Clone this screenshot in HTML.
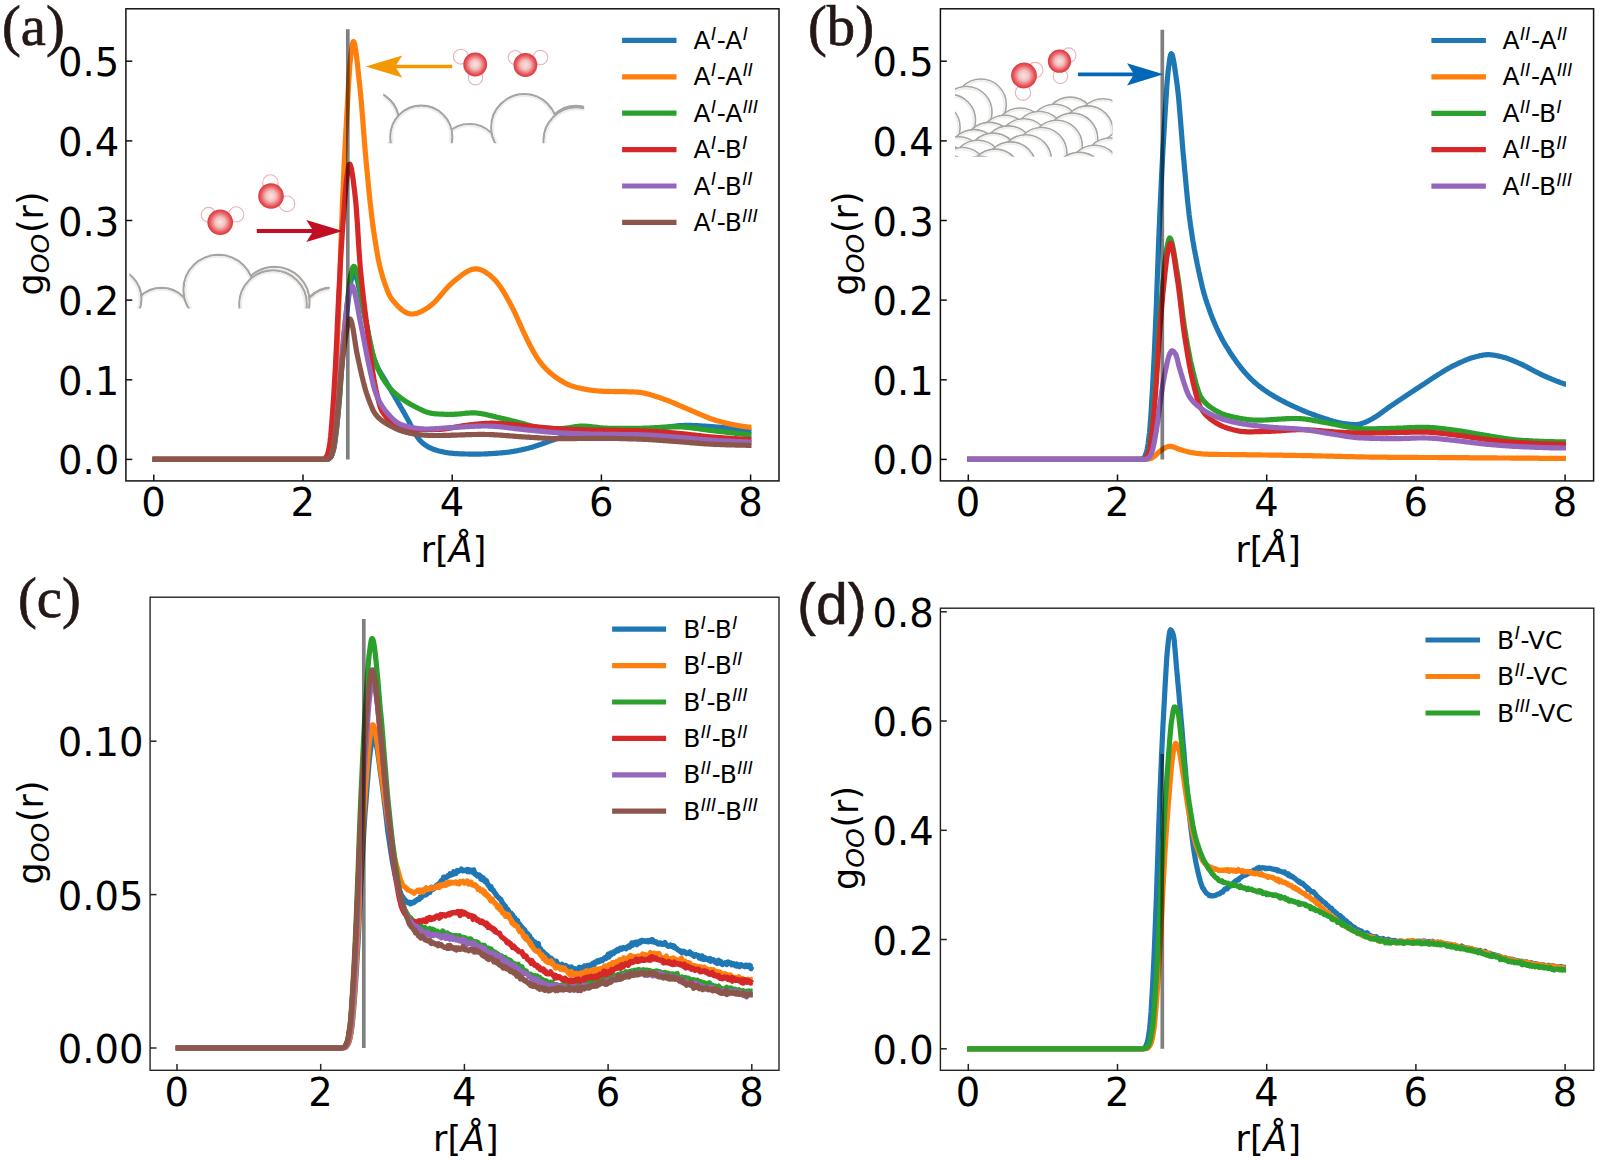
<!DOCTYPE html>
<html lang="en"><head><meta charset="utf-8"><title>g_OO(r) radial distribution functions</title>
<style>html,body{margin:0;padding:0;background:#fff}svg{display:block}</style></head><body>
<svg width="1600" height="1160" viewBox="0 0 1600 1160" font-family="'DejaVu Sans','Liberation Sans',sans-serif" fill="#000">
<rect width="1600" height="1160" fill="#fff"/>
<defs><radialGradient id="oxy" cx="50%" cy="50%" r="50%"><stop offset="0" stop-color="#fbe4e3"/><stop offset="0.4" stop-color="#f4bfbe"/><stop offset="0.8" stop-color="#e6575c"/><stop offset="1" stop-color="#dc363c"/></radialGradient><clipPath id="clipA1"><rect x="383.2" y="80" width="201" height="63.3"/></clipPath><clipPath id="clipA2"><rect x="129.3" y="240" width="200.4" height="68.5"/></clipPath><clipPath id="clipB1"><rect x="955" y="76" width="157.5" height="80.8"/></clipPath><filter id="soft" x="-5%" y="-5%" width="110%" height="110%"><feGaussianBlur stdDeviation="0.45"/></filter></defs>
<g id="panel-a">
<g id="inset-a1" clip-path="url(#clipA1)"><g filter="url(#soft)"><circle cx="368.0" cy="121.8" r="31.0" fill="#fff" stroke="#a6a5a3" stroke-width="2.2"/><circle cx="368.0" cy="121.8" r="29.0" fill="none" stroke="#efeeeb" stroke-width="1.8"/><circle cx="469.5" cy="155.0" r="31.0" fill="#fff" stroke="#a6a5a3" stroke-width="2.2"/><circle cx="469.5" cy="155.0" r="29.0" fill="none" stroke="#efeeeb" stroke-width="1.8"/><circle cx="576.0" cy="136.8" r="31.0" fill="#fff" stroke="#a6a5a3" stroke-width="2.2"/><circle cx="576.0" cy="136.8" r="29.0" fill="none" stroke="#efeeeb" stroke-width="1.8"/><circle cx="421.3" cy="136.7" r="31.0" fill="#fff" stroke="#a6a5a3" stroke-width="2.2"/><circle cx="421.3" cy="136.7" r="29.0" fill="none" stroke="#efeeeb" stroke-width="1.8"/><circle cx="524.2" cy="127.2" r="33.0" fill="#fff" stroke="#a6a5a3" stroke-width="2.2"/><circle cx="524.2" cy="127.2" r="31.0" fill="none" stroke="#efeeeb" stroke-width="1.8"/><circle cx="576.5" cy="140.5" r="33.0" fill="#fff" stroke="#a6a5a3" stroke-width="2.2"/><circle cx="576.5" cy="140.5" r="31.0" fill="none" stroke="#efeeeb" stroke-width="1.8"/></g></g><circle cx="460.8" cy="56.7" r="7.4" fill="#fff" stroke="#e9b3b7" stroke-width="1.1"/><circle cx="475.5" cy="77.7" r="7.2" fill="#fff" stroke="#e9b3b7" stroke-width="1.1"/><circle cx="475.2" cy="64.5" r="11.9" fill="url(#oxy)"/><circle cx="515.2" cy="57.5" r="7.0" fill="#fff" stroke="#e9b3b7" stroke-width="1.1"/><circle cx="540.4" cy="57.5" r="7.3" fill="#fff" stroke="#e9b3b7" stroke-width="1.1"/><circle cx="525.4" cy="65.0" r="11.9" fill="url(#oxy)"/><g id="inset-a2" clip-path="url(#clipA2)"><g filter="url(#soft)"><circle cx="161.5" cy="318.3" r="30.5" fill="#fff" stroke="#a6a5a3" stroke-width="2.2"/><circle cx="161.5" cy="318.3" r="28.5" fill="none" stroke="#efeeeb" stroke-width="1.8"/><circle cx="110.4" cy="299.0" r="31.0" fill="#fff" stroke="#a6a5a3" stroke-width="2.2"/><circle cx="110.4" cy="299.0" r="29.0" fill="none" stroke="#efeeeb" stroke-width="1.8"/><circle cx="332.0" cy="318.5" r="31.0" fill="#fff" stroke="#a6a5a3" stroke-width="2.2"/><circle cx="332.0" cy="318.5" r="29.0" fill="none" stroke="#efeeeb" stroke-width="1.8"/><circle cx="333.0" cy="321.0" r="33.0" fill="#fff" stroke="#a6a5a3" stroke-width="2.2"/><circle cx="333.0" cy="321.0" r="31.0" fill="none" stroke="#efeeeb" stroke-width="1.8"/><circle cx="274.5" cy="301.8" r="35.0" fill="#fff" stroke="#a6a5a3" stroke-width="2.2"/><circle cx="274.5" cy="301.8" r="33.0" fill="none" stroke="#efeeeb" stroke-width="1.8"/><circle cx="218.5" cy="289.8" r="35.0" fill="#fff" stroke="#a6a5a3" stroke-width="2.2"/><circle cx="218.5" cy="289.8" r="33.0" fill="none" stroke="#efeeeb" stroke-width="1.8"/><circle cx="273.0" cy="304.0" r="33.7" fill="#fff" stroke="#a6a5a3" stroke-width="2.2"/><circle cx="273.0" cy="304.0" r="31.7" fill="none" stroke="#efeeeb" stroke-width="1.8"/></g></g><circle cx="208.5" cy="214.7" r="7.3" fill="#fff" stroke="#e9b3b7" stroke-width="1.1"/><circle cx="236.2" cy="214.4" r="7.6" fill="#fff" stroke="#e9b3b7" stroke-width="1.1"/><circle cx="220.2" cy="222.2" r="12.8" fill="url(#oxy)"/><circle cx="270.4" cy="182.5" r="7.7" fill="#fff" stroke="#e9b3b7" stroke-width="1.1"/><circle cx="287.0" cy="203.8" r="7.8" fill="#fff" stroke="#e9b3b7" stroke-width="1.1"/><circle cx="271.0" cy="196.0" r="12.8" fill="url(#oxy)"/>
<g fill="none" stroke-width="5.2" stroke-linejoin="round" stroke-linecap="butt">
<path d="M152.5,459.4 L153.8,459.4 L325.4,459.4 L326.1,459.4 L326.9,459.3 L327.6,459.2 L328.4,459.0 L329.1,458.6 L329.9,458.0 L330.6,457.2 L331.3,456.1 L332.1,454.5 L332.8,452.2 L333.6,449.4 L334.3,446.0 L335.1,441.0 L335.8,435.1 L336.6,428.8 L337.3,422.0 L338.1,414.4 L338.8,406.4 L339.6,397.9 L340.3,388.5 L341.0,378.0 L341.8,367.4 L342.5,357.5 L343.3,348.5 L344.0,339.9 L344.8,331.8 L345.5,324.1 L346.3,317.0 L347.0,310.5 L347.8,304.3 L348.5,298.3 L349.3,292.2 L350.0,286.5 L350.7,282.1 L351.5,278.9 L352.2,276.0 L353.0,273.9 L353.7,273.1 L354.5,273.4 L355.2,274.5 L356.0,276.2 L356.7,278.4 L357.5,281.1 L358.2,284.2 L358.9,287.7 L359.7,291.3 L360.4,295.2 L361.2,299.1 L361.9,303.1 L362.7,307.0 L363.4,310.8 L364.2,314.4 L364.9,317.7 L365.7,320.9 L366.4,324.4 L367.2,328.0 L367.9,331.7 L368.6,335.5 L369.4,339.2 L370.1,342.9 L370.9,346.5 L371.6,349.9 L372.4,353.0 L373.1,355.9 L373.9,358.5 L374.6,360.7 L375.4,362.6 L376.1,364.3 L376.9,366.0 L377.6,367.5 L378.3,368.9 L379.1,370.3 L379.8,371.6 L380.6,372.8 L381.3,374.1 L382.1,375.2 L382.8,376.4 L383.6,377.6 L384.3,378.8 L385.1,380.1 L385.8,381.4 L386.6,382.7 L387.3,384.0 L388.0,385.2 L388.8,386.5 L389.5,387.8 L390.3,389.0 L391.0,390.3 L391.8,391.6 L392.5,392.8 L393.3,394.1 L394.0,395.4 L394.8,396.7 L395.5,398.0 L396.2,399.2 L397.0,400.5 L397.7,401.8 L398.5,403.1 L399.2,404.4 L400.0,405.7 L400.7,407.0 L401.5,408.3 L402.2,409.6 L403.0,410.9 L403.7,412.2 L404.5,413.5 L405.2,414.8 L405.9,416.2 L406.7,417.5 L407.4,418.8 L408.2,420.2 L408.9,421.6 L409.7,423.0 L410.4,424.4 L411.2,425.9 L411.9,427.4 L412.7,428.8 L413.4,430.2 L414.2,431.6 L414.9,433.0 L415.6,434.3 L416.4,435.5 L417.1,436.7 L417.9,437.7 L418.6,438.7 L419.4,439.7 L420.1,440.5 L420.9,441.3 L421.6,442.1 L422.4,442.8 L423.1,443.4 L423.9,444.0 L424.6,444.6 L425.3,445.1 L426.1,445.6 L426.8,446.0 L427.6,446.5 L428.3,446.9 L429.1,447.3 L429.8,447.7 L430.6,448.0 L431.3,448.4 L432.1,448.7 L432.8,449.0 L433.5,449.3 L434.3,449.6 L435.0,449.8 L435.8,450.1 L436.5,450.3 L437.3,450.5 L438.0,450.7 L438.8,450.9 L439.5,451.1 L440.3,451.3 L441.0,451.5 L441.8,451.6 L442.5,451.8 L443.2,451.9 L444.0,452.1 L444.7,452.2 L445.5,452.4 L446.2,452.5 L447.0,452.6 L447.7,452.7 L448.5,452.9 L449.2,453.0 L450.0,453.1 L450.7,453.1 L451.5,453.2 L452.2,453.3 L452.9,453.4 L453.7,453.4 L454.4,453.5 L455.2,453.6 L455.9,453.6 L456.7,453.7 L457.4,453.7 L458.2,453.7 L458.9,453.8 L459.7,453.8 L460.4,453.8 L461.2,453.9 L461.9,453.9 L462.6,453.9 L463.4,453.9 L464.1,453.9 L464.9,454.0 L465.6,454.0 L466.4,454.0 L467.1,454.0 L467.9,454.0 L468.6,454.1 L469.4,454.1 L470.1,454.1 L470.8,454.1 L471.6,454.1 L472.3,454.1 L473.1,454.1 L473.8,454.1 L474.6,454.1 L475.3,454.1 L476.1,454.1 L476.8,454.1 L477.6,454.1 L478.3,454.1 L479.1,454.1 L479.8,454.1 L480.5,454.1 L481.3,454.0 L482.0,454.0 L482.8,454.0 L483.5,454.0 L484.3,454.0 L485.0,453.9 L485.8,453.9 L486.5,453.9 L487.3,453.8 L488.0,453.8 L488.8,453.7 L489.5,453.7 L490.2,453.7 L491.0,453.6 L491.7,453.6 L492.5,453.5 L493.2,453.5 L494.0,453.4 L494.7,453.4 L495.5,453.3 L496.2,453.3 L497.0,453.2 L497.7,453.2 L498.5,453.1 L499.2,453.0 L499.9,453.0 L500.7,452.9 L501.4,452.9 L502.2,452.8 L502.9,452.7 L503.7,452.7 L504.4,452.6 L505.2,452.5 L505.9,452.4 L506.7,452.4 L507.4,452.3 L508.1,452.2 L508.9,452.1 L509.6,452.0 L510.4,451.9 L511.1,451.8 L511.9,451.6 L512.6,451.5 L513.4,451.4 L514.1,451.3 L514.9,451.1 L515.6,451.0 L516.4,450.9 L517.1,450.7 L517.8,450.6 L518.6,450.4 L519.3,450.3 L520.1,450.1 L520.8,450.0 L521.6,449.8 L522.3,449.6 L523.1,449.5 L523.8,449.3 L524.6,449.1 L525.3,449.0 L526.1,448.8 L526.8,448.6 L527.5,448.4 L528.3,448.2 L529.0,448.0 L529.8,447.8 L530.5,447.6 L531.3,447.4 L532.0,447.2 L532.8,446.9 L533.5,446.7 L534.3,446.5 L535.0,446.2 L535.8,446.0 L536.5,445.7 L537.2,445.5 L538.0,445.2 L538.7,445.0 L539.5,444.7 L540.2,444.5 L541.0,444.2 L541.7,444.0 L542.5,443.7 L543.2,443.4 L544.0,443.2 L544.7,442.9 L545.4,442.7 L546.2,442.4 L546.9,442.1 L547.7,441.9 L548.4,441.6 L549.2,441.3 L549.9,441.1 L550.7,440.8 L551.4,440.5 L552.2,440.3 L552.9,440.0 L553.7,439.7 L554.4,439.5 L555.1,439.2 L555.9,438.9 L556.6,438.7 L557.4,438.4 L558.1,438.2 L558.9,437.9 L559.6,437.7 L560.4,437.5 L561.1,437.2 L561.9,437.0 L562.6,436.8 L563.4,436.6 L564.1,436.4 L564.8,436.2 L565.6,436.0 L566.3,435.8 L567.1,435.6 L567.8,435.5 L568.6,435.3 L569.3,435.1 L570.1,434.9 L570.8,434.8 L571.6,434.6 L572.3,434.4 L573.1,434.3 L573.8,434.1 L574.5,434.0 L575.3,433.8 L576.0,433.7 L576.8,433.6 L577.5,433.4 L578.3,433.3 L579.0,433.2 L579.8,433.1 L580.5,433.0 L581.3,432.9 L582.0,432.8 L582.7,432.7 L583.5,432.6 L584.2,432.6 L585.0,432.5 L585.7,432.4 L586.5,432.4 L587.2,432.3 L588.0,432.3 L588.7,432.3 L589.5,432.2 L590.2,432.2 L591.0,432.2 L591.7,432.1 L592.4,432.1 L593.2,432.1 L593.9,432.1 L594.7,432.0 L595.4,432.0 L596.2,432.0 L596.9,432.0 L597.7,432.0 L598.4,431.9 L599.2,431.9 L599.9,431.9 L600.7,431.9 L601.4,431.9 L602.1,431.9 L602.9,431.9 L603.6,431.8 L604.4,431.8 L605.1,431.8 L605.9,431.8 L606.6,431.8 L607.4,431.8 L608.1,431.7 L608.9,431.7 L609.6,431.7 L610.4,431.7 L611.1,431.7 L611.8,431.7 L612.6,431.6 L613.3,431.6 L614.1,431.6 L614.8,431.6 L615.6,431.5 L616.3,431.5 L617.1,431.5 L617.8,431.5 L618.6,431.4 L619.3,431.4 L620.0,431.4 L620.8,431.3 L621.5,431.3 L622.3,431.3 L623.0,431.3 L623.8,431.2 L624.5,431.2 L625.3,431.2 L626.0,431.1 L626.8,431.1 L627.5,431.0 L628.3,431.0 L629.0,431.0 L629.7,430.9 L630.5,430.9 L631.2,430.9 L632.0,430.8 L632.7,430.8 L633.5,430.7 L634.2,430.7 L635.0,430.7 L635.7,430.6 L636.5,430.6 L637.2,430.5 L638.0,430.5 L638.7,430.4 L639.4,430.4 L640.2,430.3 L640.9,430.3 L641.7,430.2 L642.4,430.2 L643.2,430.1 L643.9,430.1 L644.7,430.0 L645.4,430.0 L646.2,429.9 L646.9,429.8 L647.7,429.8 L648.4,429.7 L649.1,429.6 L649.9,429.6 L650.6,429.5 L651.4,429.4 L652.1,429.3 L652.9,429.2 L653.6,429.1 L654.4,429.0 L655.1,428.9 L655.9,428.8 L656.6,428.7 L657.3,428.6 L658.1,428.5 L658.8,428.4 L659.6,428.3 L660.3,428.2 L661.1,428.1 L661.8,428.0 L662.6,427.8 L663.3,427.7 L664.1,427.6 L664.8,427.5 L665.6,427.4 L666.3,427.3 L667.0,427.2 L667.8,427.1 L668.5,426.9 L669.3,426.8 L670.0,426.7 L670.8,426.6 L671.5,426.5 L672.3,426.4 L673.0,426.3 L673.8,426.3 L674.5,426.2 L675.3,426.1 L676.0,426.0 L676.7,425.9 L677.5,425.8 L678.2,425.8 L679.0,425.7 L679.7,425.7 L680.5,425.6 L681.2,425.6 L682.0,425.5 L682.7,425.5 L683.5,425.5 L684.2,425.4 L685.0,425.4 L685.7,425.4 L686.4,425.4 L687.2,425.4 L687.9,425.4 L688.7,425.4 L689.4,425.4 L690.2,425.4 L690.9,425.4 L691.7,425.4 L692.4,425.5 L693.2,425.5 L693.9,425.5 L694.6,425.5 L695.4,425.6 L696.1,425.6 L696.9,425.6 L697.6,425.7 L698.4,425.7 L699.1,425.8 L699.9,425.8 L700.6,425.9 L701.4,425.9 L702.1,426.0 L702.9,426.0 L703.6,426.1 L704.3,426.1 L705.1,426.2 L705.8,426.2 L706.6,426.3 L707.3,426.3 L708.1,426.4 L708.8,426.4 L709.6,426.5 L710.3,426.5 L711.1,426.6 L711.8,426.6 L712.6,426.7 L713.3,426.8 L714.0,426.8 L714.8,426.9 L715.5,426.9 L716.3,427.0 L717.0,427.1 L717.8,427.1 L718.5,427.2 L719.3,427.2 L720.0,427.3 L720.8,427.4 L721.5,427.4 L722.3,427.5 L723.0,427.6 L723.7,427.6 L724.5,427.7 L725.2,427.8 L726.0,427.9 L726.7,427.9 L727.5,428.0 L728.2,428.1 L729.0,428.2 L729.7,428.3 L730.5,428.3 L731.2,428.4 L731.9,428.5 L732.7,428.6 L733.4,428.7 L734.2,428.8 L734.9,428.9 L735.7,429.0 L736.4,429.1 L737.2,429.1 L737.9,429.2 L738.7,429.3 L739.4,429.4 L740.2,429.5 L740.9,429.6 L741.6,429.7 L742.4,429.8 L743.1,429.9 L743.9,430.0 L744.6,430.1 L745.4,430.2 L746.1,430.3 L746.9,430.4 L747.6,430.5 L748.4,430.7 L749.1,430.8 L749.9,430.9 L750.6,431.0 L751.5,431.0" stroke="#1f77b4"/>
<path d="M152.5,459.4 L153.8,459.4 L323.1,459.4 L323.9,459.3 L324.6,459.2 L325.4,458.9 L326.1,458.6 L326.9,458.0 L327.6,456.8 L328.4,455.3 L329.1,453.3 L329.9,450.7 L330.6,446.6 L331.3,441.4 L332.1,435.3 L332.8,427.3 L333.6,416.3 L334.3,403.8 L335.1,390.7 L335.8,376.2 L336.6,360.5 L337.3,343.7 L338.1,326.0 L338.8,306.9 L339.6,285.3 L340.3,262.9 L341.0,241.1 L341.8,221.4 L342.5,202.9 L343.3,185.1 L344.0,168.3 L344.8,152.5 L345.5,137.8 L346.3,124.1 L347.0,111.1 L347.8,98.5 L348.5,85.5 L349.3,73.4 L350.0,63.5 L350.7,56.5 L351.5,50.1 L352.2,44.9 L353.0,41.8 L353.7,41.6 L354.5,43.5 L355.2,47.1 L356.0,52.0 L356.7,57.9 L357.5,64.5 L358.2,71.4 L358.9,78.4 L359.7,85.1 L360.4,92.2 L361.2,100.4 L361.9,109.3 L362.7,118.8 L363.4,128.5 L364.2,138.2 L364.9,147.7 L365.7,156.6 L366.4,164.8 L367.2,172.4 L367.9,180.0 L368.6,187.5 L369.4,194.9 L370.1,202.0 L370.9,208.8 L371.6,215.3 L372.4,221.5 L373.1,227.2 L373.9,232.5 L374.6,237.4 L375.4,242.2 L376.1,246.8 L376.9,251.2 L377.6,255.4 L378.3,259.3 L379.1,263.0 L379.8,266.4 L380.6,269.5 L381.3,272.3 L382.1,274.8 L382.8,277.3 L383.6,279.7 L384.3,282.0 L385.1,284.3 L385.8,286.4 L386.6,288.4 L387.3,290.3 L388.0,292.1 L388.8,293.8 L389.5,295.3 L390.3,296.7 L391.0,298.0 L391.8,299.1 L392.5,300.1 L393.3,301.0 L394.0,301.8 L394.8,302.7 L395.5,303.6 L396.2,304.4 L397.0,305.2 L397.7,306.0 L398.5,306.7 L399.2,307.5 L400.0,308.1 L400.7,308.8 L401.5,309.5 L402.2,310.1 L403.0,310.6 L403.7,311.1 L404.5,311.6 L405.2,312.1 L405.9,312.5 L406.7,312.8 L407.4,313.2 L408.2,313.4 L408.9,313.6 L409.7,313.8 L410.4,313.9 L411.2,314.0 L411.9,314.0 L412.7,314.0 L413.4,314.0 L414.2,313.9 L414.9,313.8 L415.6,313.6 L416.4,313.4 L417.1,313.2 L417.9,312.9 L418.6,312.6 L419.4,312.3 L420.1,312.0 L420.9,311.6 L421.6,311.3 L422.4,310.9 L423.1,310.5 L423.9,310.1 L424.6,309.6 L425.3,309.2 L426.1,308.7 L426.8,308.3 L427.6,307.8 L428.3,307.3 L429.1,306.7 L429.8,306.2 L430.6,305.6 L431.3,305.0 L432.1,304.4 L432.8,303.8 L433.5,303.1 L434.3,302.4 L435.0,301.6 L435.8,300.9 L436.5,300.1 L437.3,299.3 L438.0,298.4 L438.8,297.6 L439.5,296.7 L440.3,295.8 L441.0,294.9 L441.8,294.1 L442.5,293.2 L443.2,292.3 L444.0,291.4 L444.7,290.5 L445.5,289.7 L446.2,288.8 L447.0,288.0 L447.7,287.2 L448.5,286.4 L449.2,285.7 L450.0,284.9 L450.7,284.2 L451.5,283.5 L452.2,282.8 L452.9,282.2 L453.7,281.5 L454.4,280.9 L455.2,280.3 L455.9,279.7 L456.7,279.0 L457.4,278.4 L458.2,277.8 L458.9,277.3 L459.7,276.7 L460.4,276.1 L461.2,275.5 L461.9,275.0 L462.6,274.4 L463.4,273.9 L464.1,273.4 L464.9,272.9 L465.6,272.4 L466.4,272.0 L467.1,271.5 L467.9,271.1 L468.6,270.7 L469.4,270.4 L470.1,270.1 L470.8,269.8 L471.6,269.5 L472.3,269.3 L473.1,269.2 L473.8,269.0 L474.6,268.9 L475.3,268.9 L476.1,268.9 L476.8,268.9 L477.6,269.0 L478.3,269.1 L479.1,269.2 L479.8,269.5 L480.5,269.7 L481.3,270.0 L482.0,270.3 L482.8,270.6 L483.5,271.0 L484.3,271.4 L485.0,271.9 L485.8,272.3 L486.5,272.8 L487.3,273.4 L488.0,273.9 L488.8,274.4 L489.5,275.0 L490.2,275.6 L491.0,276.2 L491.7,276.9 L492.5,277.6 L493.2,278.3 L494.0,279.0 L494.7,279.7 L495.5,280.6 L496.2,281.4 L497.0,282.3 L497.7,283.2 L498.5,284.2 L499.2,285.2 L499.9,286.2 L500.7,287.3 L501.4,288.5 L502.2,289.6 L502.9,290.8 L503.7,292.0 L504.4,293.3 L505.2,294.5 L505.9,295.8 L506.7,297.1 L507.4,298.5 L508.1,299.8 L508.9,301.2 L509.6,302.6 L510.4,304.0 L511.1,305.4 L511.9,306.8 L512.6,308.3 L513.4,309.8 L514.1,311.3 L514.9,312.9 L515.6,314.5 L516.4,316.1 L517.1,317.7 L517.8,319.3 L518.6,321.0 L519.3,322.7 L520.1,324.3 L520.8,326.0 L521.6,327.7 L522.3,329.3 L523.1,331.0 L523.8,332.6 L524.6,334.2 L525.3,335.8 L526.1,337.3 L526.8,338.9 L527.5,340.4 L528.3,341.9 L529.0,343.4 L529.8,344.8 L530.5,346.3 L531.3,347.7 L532.0,349.1 L532.8,350.4 L533.5,351.8 L534.3,353.1 L535.0,354.4 L535.8,355.6 L536.5,356.8 L537.2,358.0 L538.0,359.1 L538.7,360.2 L539.5,361.2 L540.2,362.2 L541.0,363.2 L541.7,364.1 L542.5,365.0 L543.2,365.9 L544.0,366.7 L544.7,367.5 L545.4,368.3 L546.2,369.1 L546.9,369.8 L547.7,370.5 L548.4,371.2 L549.2,371.9 L549.9,372.6 L550.7,373.2 L551.4,373.8 L552.2,374.4 L552.9,375.0 L553.7,375.6 L554.4,376.2 L555.1,376.7 L555.9,377.3 L556.6,377.8 L557.4,378.3 L558.1,378.8 L558.9,379.3 L559.6,379.8 L560.4,380.3 L561.1,380.8 L561.9,381.2 L562.6,381.7 L563.4,382.1 L564.1,382.5 L564.8,382.9 L565.6,383.3 L566.3,383.7 L567.1,384.1 L567.8,384.4 L568.6,384.7 L569.3,385.0 L570.1,385.3 L570.8,385.6 L571.6,385.9 L572.3,386.1 L573.1,386.4 L573.8,386.6 L574.5,386.8 L575.3,387.0 L576.0,387.2 L576.8,387.4 L577.5,387.6 L578.3,387.8 L579.0,388.0 L579.8,388.1 L580.5,388.3 L581.3,388.5 L582.0,388.6 L582.7,388.8 L583.5,388.9 L584.2,389.1 L585.0,389.2 L585.7,389.4 L586.5,389.5 L587.2,389.6 L588.0,389.7 L588.7,389.9 L589.5,390.0 L590.2,390.1 L591.0,390.2 L591.7,390.3 L592.4,390.4 L593.2,390.5 L593.9,390.6 L594.7,390.7 L595.4,390.7 L596.2,390.8 L596.9,390.9 L597.7,390.9 L598.4,391.0 L599.2,391.1 L599.9,391.1 L600.7,391.2 L601.4,391.2 L602.1,391.2 L602.9,391.3 L603.6,391.3 L604.4,391.3 L605.1,391.3 L605.9,391.4 L606.6,391.4 L607.4,391.4 L608.1,391.4 L608.9,391.4 L609.6,391.5 L610.4,391.5 L611.1,391.5 L611.8,391.5 L612.6,391.5 L613.3,391.5 L614.1,391.5 L614.8,391.6 L615.6,391.6 L616.3,391.6 L617.1,391.6 L617.8,391.6 L618.6,391.6 L619.3,391.6 L620.0,391.6 L620.8,391.6 L621.5,391.7 L622.3,391.7 L623.0,391.7 L623.8,391.7 L624.5,391.7 L625.3,391.7 L626.0,391.7 L626.8,391.7 L627.5,391.8 L628.3,391.8 L629.0,391.8 L629.7,391.8 L630.5,391.8 L631.2,391.8 L632.0,391.9 L632.7,391.9 L633.5,391.9 L634.2,392.0 L635.0,392.0 L635.7,392.0 L636.5,392.1 L637.2,392.1 L638.0,392.2 L638.7,392.3 L639.4,392.4 L640.2,392.4 L640.9,392.5 L641.7,392.7 L642.4,392.8 L643.2,392.9 L643.9,393.1 L644.7,393.2 L645.4,393.4 L646.2,393.6 L646.9,393.7 L647.7,393.9 L648.4,394.1 L649.1,394.3 L649.9,394.5 L650.6,394.8 L651.4,395.0 L652.1,395.2 L652.9,395.4 L653.6,395.7 L654.4,395.9 L655.1,396.2 L655.9,396.4 L656.6,396.6 L657.3,396.9 L658.1,397.1 L658.8,397.4 L659.6,397.6 L660.3,397.9 L661.1,398.1 L661.8,398.4 L662.6,398.6 L663.3,398.9 L664.1,399.2 L664.8,399.4 L665.6,399.7 L666.3,400.0 L667.0,400.3 L667.8,400.5 L668.5,400.8 L669.3,401.1 L670.0,401.4 L670.8,401.7 L671.5,402.1 L672.3,402.4 L673.0,402.7 L673.8,403.0 L674.5,403.3 L675.3,403.6 L676.0,404.0 L676.7,404.3 L677.5,404.6 L678.2,404.9 L679.0,405.3 L679.7,405.6 L680.5,405.9 L681.2,406.2 L682.0,406.5 L682.7,406.9 L683.5,407.2 L684.2,407.5 L685.0,407.8 L685.7,408.1 L686.4,408.4 L687.2,408.8 L687.9,409.1 L688.7,409.4 L689.4,409.7 L690.2,410.0 L690.9,410.3 L691.7,410.7 L692.4,411.0 L693.2,411.3 L693.9,411.6 L694.6,411.9 L695.4,412.3 L696.1,412.6 L696.9,412.9 L697.6,413.3 L698.4,413.6 L699.1,413.9 L699.9,414.2 L700.6,414.6 L701.4,414.9 L702.1,415.2 L702.9,415.5 L703.6,415.8 L704.3,416.1 L705.1,416.4 L705.8,416.8 L706.6,417.1 L707.3,417.3 L708.1,417.6 L708.8,417.9 L709.6,418.2 L710.3,418.5 L711.1,418.8 L711.8,419.0 L712.6,419.3 L713.3,419.5 L714.0,419.8 L714.8,420.0 L715.5,420.2 L716.3,420.5 L717.0,420.7 L717.8,420.9 L718.5,421.1 L719.3,421.3 L720.0,421.5 L720.8,421.7 L721.5,421.9 L722.3,422.1 L723.0,422.3 L723.7,422.5 L724.5,422.7 L725.2,422.8 L726.0,423.0 L726.7,423.2 L727.5,423.4 L728.2,423.5 L729.0,423.7 L729.7,423.9 L730.5,424.0 L731.2,424.2 L731.9,424.4 L732.7,424.5 L733.4,424.7 L734.2,424.8 L734.9,425.0 L735.7,425.1 L736.4,425.2 L737.2,425.4 L737.9,425.5 L738.7,425.7 L739.4,425.8 L740.2,425.9 L740.9,426.0 L741.6,426.2 L742.4,426.3 L743.1,426.4 L743.9,426.5 L744.6,426.6 L745.4,426.7 L746.1,426.8 L746.9,426.9 L747.6,427.0 L748.4,427.0 L749.1,427.1 L749.9,427.2 L750.6,427.3 L751.5,427.3" stroke="#ff7f0e"/>
<path d="M152.5,459.4 L153.8,459.4 L325.4,459.4 L326.1,459.4 L326.9,459.3 L327.6,459.1 L328.4,459.0 L329.1,458.6 L329.9,457.9 L330.6,457.1 L331.3,456.0 L332.1,454.3 L332.8,452.0 L333.6,449.1 L334.3,445.5 L335.1,440.3 L335.8,434.2 L336.6,427.7 L337.3,420.6 L338.1,412.8 L338.8,404.5 L339.6,395.7 L340.3,385.9 L341.0,375.1 L341.8,364.1 L342.5,353.7 L343.3,344.5 L344.0,335.6 L344.8,327.1 L345.5,319.2 L346.3,311.9 L347.0,305.1 L347.8,298.7 L348.5,292.5 L349.3,286.1 L350.0,280.2 L350.7,275.7 L351.5,272.4 L352.2,269.4 L353.0,267.2 L353.7,266.3 L354.5,266.7 L355.2,268.0 L356.0,269.9 L356.7,272.5 L357.5,275.6 L358.2,279.1 L358.9,283.0 L359.7,287.2 L360.4,291.6 L361.2,296.0 L361.9,300.5 L362.7,304.8 L363.4,309.0 L364.2,312.9 L364.9,316.5 L365.7,319.9 L366.4,323.5 L367.2,327.2 L367.9,330.9 L368.6,334.7 L369.4,338.4 L370.1,342.1 L370.9,345.6 L371.6,349.0 L372.4,352.2 L373.1,355.1 L373.9,357.7 L374.6,360.0 L375.4,362.1 L376.1,364.1 L376.9,366.0 L377.6,367.8 L378.3,369.5 L379.1,371.2 L379.8,372.8 L380.6,374.3 L381.3,375.7 L382.1,377.1 L382.8,378.4 L383.6,379.6 L384.3,380.8 L385.1,381.9 L385.8,383.0 L386.6,384.0 L387.3,384.9 L388.0,385.9 L388.8,386.8 L389.5,387.6 L390.3,388.5 L391.0,389.3 L391.8,390.1 L392.5,390.8 L393.3,391.6 L394.0,392.3 L394.8,393.0 L395.5,393.6 L396.2,394.3 L397.0,394.9 L397.7,395.5 L398.5,396.1 L399.2,396.7 L400.0,397.3 L400.7,397.9 L401.5,398.4 L402.2,399.0 L403.0,399.5 L403.7,400.0 L404.5,400.5 L405.2,401.0 L405.9,401.5 L406.7,402.0 L407.4,402.5 L408.2,402.9 L408.9,403.4 L409.7,403.8 L410.4,404.2 L411.2,404.6 L411.9,405.0 L412.7,405.4 L413.4,405.8 L414.2,406.2 L414.9,406.6 L415.6,407.0 L416.4,407.4 L417.1,407.8 L417.9,408.1 L418.6,408.5 L419.4,408.9 L420.1,409.2 L420.9,409.6 L421.6,410.0 L422.4,410.3 L423.1,410.6 L423.9,411.0 L424.6,411.3 L425.3,411.6 L426.1,411.9 L426.8,412.1 L427.6,412.4 L428.3,412.6 L429.1,412.8 L429.8,413.0 L430.6,413.1 L431.3,413.3 L432.1,413.4 L432.8,413.5 L433.5,413.6 L434.3,413.7 L435.0,413.8 L435.8,413.8 L436.5,413.9 L437.3,413.9 L438.0,414.0 L438.8,414.0 L439.5,414.1 L440.3,414.1 L441.0,414.1 L441.8,414.2 L442.5,414.2 L443.2,414.2 L444.0,414.2 L444.7,414.3 L445.5,414.3 L446.2,414.3 L447.0,414.3 L447.7,414.3 L448.5,414.3 L449.2,414.3 L450.0,414.4 L450.7,414.4 L451.5,414.3 L452.2,414.3 L452.9,414.3 L453.7,414.3 L454.4,414.3 L455.2,414.2 L455.9,414.2 L456.7,414.1 L457.4,414.1 L458.2,414.0 L458.9,414.0 L459.7,413.9 L460.4,413.8 L461.2,413.8 L461.9,413.7 L462.6,413.6 L463.4,413.5 L464.1,413.5 L464.9,413.4 L465.6,413.3 L466.4,413.2 L467.1,413.2 L467.9,413.1 L468.6,413.1 L469.4,413.0 L470.1,413.0 L470.8,412.9 L471.6,412.9 L472.3,412.9 L473.1,412.9 L473.8,412.9 L474.6,412.9 L475.3,412.9 L476.1,413.0 L476.8,413.0 L477.6,413.1 L478.3,413.2 L479.1,413.3 L479.8,413.4 L480.5,413.5 L481.3,413.6 L482.0,413.7 L482.8,413.9 L483.5,414.0 L484.3,414.2 L485.0,414.3 L485.8,414.5 L486.5,414.7 L487.3,414.8 L488.0,415.0 L488.8,415.2 L489.5,415.4 L490.2,415.6 L491.0,415.7 L491.7,415.9 L492.5,416.1 L493.2,416.3 L494.0,416.5 L494.7,416.7 L495.5,416.8 L496.2,417.0 L497.0,417.2 L497.7,417.3 L498.5,417.5 L499.2,417.7 L499.9,417.9 L500.7,418.0 L501.4,418.2 L502.2,418.4 L502.9,418.6 L503.7,418.7 L504.4,418.9 L505.2,419.1 L505.9,419.3 L506.7,419.4 L507.4,419.6 L508.1,419.8 L508.9,420.0 L509.6,420.2 L510.4,420.3 L511.1,420.5 L511.9,420.7 L512.6,420.9 L513.4,421.1 L514.1,421.3 L514.9,421.4 L515.6,421.6 L516.4,421.8 L517.1,422.0 L517.8,422.2 L518.6,422.4 L519.3,422.6 L520.1,422.8 L520.8,423.0 L521.6,423.2 L522.3,423.4 L523.1,423.6 L523.8,423.8 L524.6,424.1 L525.3,424.3 L526.1,424.5 L526.8,424.7 L527.5,424.9 L528.3,425.1 L529.0,425.3 L529.8,425.5 L530.5,425.7 L531.3,425.9 L532.0,426.1 L532.8,426.3 L533.5,426.5 L534.3,426.7 L535.0,426.8 L535.8,427.0 L536.5,427.1 L537.2,427.2 L538.0,427.4 L538.7,427.5 L539.5,427.6 L540.2,427.7 L541.0,427.8 L541.7,427.9 L542.5,427.9 L543.2,428.0 L544.0,428.1 L544.7,428.1 L545.4,428.2 L546.2,428.2 L546.9,428.3 L547.7,428.3 L548.4,428.4 L549.2,428.4 L549.9,428.4 L550.7,428.5 L551.4,428.5 L552.2,428.5 L552.9,428.6 L553.7,428.6 L554.4,428.6 L555.1,428.6 L555.9,428.6 L556.6,428.7 L557.4,428.7 L558.1,428.7 L558.9,428.7 L559.6,428.6 L560.4,428.6 L561.1,428.6 L561.9,428.6 L562.6,428.5 L563.4,428.4 L564.1,428.4 L564.8,428.3 L565.6,428.2 L566.3,428.1 L567.1,428.0 L567.8,427.9 L568.6,427.8 L569.3,427.7 L570.1,427.5 L570.8,427.4 L571.6,427.3 L572.3,427.2 L573.1,427.0 L573.8,426.9 L574.5,426.8 L575.3,426.7 L576.0,426.6 L576.8,426.5 L577.5,426.4 L578.3,426.3 L579.0,426.3 L579.8,426.2 L580.5,426.2 L581.3,426.1 L582.0,426.1 L582.7,426.1 L583.5,426.1 L584.2,426.1 L585.0,426.2 L585.7,426.2 L586.5,426.2 L587.2,426.3 L588.0,426.3 L588.7,426.4 L589.5,426.5 L590.2,426.5 L591.0,426.6 L591.7,426.7 L592.4,426.8 L593.2,426.9 L593.9,427.0 L594.7,427.1 L595.4,427.1 L596.2,427.2 L596.9,427.3 L597.7,427.4 L598.4,427.5 L599.2,427.6 L599.9,427.7 L600.7,427.8 L601.4,427.8 L602.1,427.9 L602.9,428.0 L603.6,428.0 L604.4,428.1 L605.1,428.1 L605.9,428.2 L606.6,428.2 L607.4,428.2 L608.1,428.3 L608.9,428.3 L609.6,428.3 L610.4,428.3 L611.1,428.3 L611.8,428.3 L612.6,428.3 L613.3,428.3 L614.1,428.3 L614.8,428.3 L615.6,428.3 L616.3,428.3 L617.1,428.3 L617.8,428.3 L618.6,428.3 L619.3,428.3 L620.0,428.3 L620.8,428.3 L621.5,428.3 L622.3,428.3 L623.0,428.3 L623.8,428.3 L624.5,428.3 L625.3,428.3 L626.0,428.3 L626.8,428.3 L627.5,428.3 L628.3,428.3 L629.0,428.3 L629.7,428.3 L630.5,428.3 L631.2,428.3 L632.0,428.3 L632.7,428.3 L633.5,428.3 L634.2,428.3 L635.0,428.3 L635.7,428.3 L636.5,428.3 L637.2,428.3 L638.0,428.3 L638.7,428.3 L639.4,428.3 L640.2,428.3 L640.9,428.3 L641.7,428.3 L642.4,428.3 L643.2,428.2 L643.9,428.2 L644.7,428.2 L645.4,428.2 L646.2,428.2 L646.9,428.1 L647.7,428.1 L648.4,428.1 L649.1,428.0 L649.9,428.0 L650.6,427.9 L651.4,427.9 L652.1,427.9 L652.9,427.8 L653.6,427.8 L654.4,427.7 L655.1,427.7 L655.9,427.6 L656.6,427.6 L657.3,427.5 L658.1,427.5 L658.8,427.5 L659.6,427.4 L660.3,427.4 L661.1,427.3 L661.8,427.3 L662.6,427.2 L663.3,427.2 L664.1,427.2 L664.8,427.1 L665.6,427.1 L666.3,427.0 L667.0,427.0 L667.8,427.0 L668.5,426.9 L669.3,426.9 L670.0,426.9 L670.8,426.9 L671.5,426.9 L672.3,426.8 L673.0,426.8 L673.8,426.8 L674.5,426.8 L675.3,426.8 L676.0,426.8 L676.7,426.8 L677.5,426.8 L678.2,426.8 L679.0,426.9 L679.7,426.9 L680.5,426.9 L681.2,427.0 L682.0,427.0 L682.7,427.0 L683.5,427.1 L684.2,427.1 L685.0,427.2 L685.7,427.3 L686.4,427.3 L687.2,427.4 L687.9,427.5 L688.7,427.5 L689.4,427.6 L690.2,427.7 L690.9,427.8 L691.7,427.9 L692.4,428.0 L693.2,428.1 L693.9,428.2 L694.6,428.2 L695.4,428.3 L696.1,428.4 L696.9,428.5 L697.6,428.6 L698.4,428.7 L699.1,428.8 L699.9,429.0 L700.6,429.1 L701.4,429.2 L702.1,429.3 L702.9,429.4 L703.6,429.5 L704.3,429.6 L705.1,429.7 L705.8,429.8 L706.6,429.9 L707.3,430.0 L708.1,430.1 L708.8,430.2 L709.6,430.3 L710.3,430.4 L711.1,430.5 L711.8,430.5 L712.6,430.6 L713.3,430.7 L714.0,430.8 L714.8,430.9 L715.5,431.0 L716.3,431.1 L717.0,431.1 L717.8,431.2 L718.5,431.3 L719.3,431.4 L720.0,431.5 L720.8,431.6 L721.5,431.7 L722.3,431.7 L723.0,431.8 L723.7,431.9 L724.5,432.0 L725.2,432.1 L726.0,432.2 L726.7,432.2 L727.5,432.3 L728.2,432.4 L729.0,432.5 L729.7,432.6 L730.5,432.7 L731.2,432.8 L731.9,432.8 L732.7,432.9 L733.4,433.0 L734.2,433.1 L734.9,433.2 L735.7,433.3 L736.4,433.4 L737.2,433.4 L737.9,433.5 L738.7,433.6 L739.4,433.7 L740.2,433.8 L740.9,433.9 L741.6,434.0 L742.4,434.1 L743.1,434.1 L743.9,434.2 L744.6,434.3 L745.4,434.4 L746.1,434.5 L746.9,434.6 L747.6,434.7 L748.4,434.8 L749.1,434.9 L749.9,434.9 L750.6,435.0 L751.5,435.0" stroke="#2ca02c"/>
<path d="M152.5,459.4 L153.8,459.4 L321.6,459.4 L322.4,459.3 L323.1,459.2 L323.9,459.0 L324.6,458.7 L325.4,458.1 L326.1,457.1 L326.9,455.7 L327.6,454.0 L328.4,451.3 L329.1,447.5 L329.9,442.9 L330.6,437.0 L331.3,428.6 L332.1,419.0 L332.8,408.9 L333.6,397.6 L334.3,385.3 L335.1,372.2 L335.8,358.3 L336.6,342.6 L337.3,325.6 L338.1,308.7 L338.8,293.3 L339.6,279.1 L340.3,265.6 L341.0,252.8 L341.8,240.8 L342.5,229.7 L343.3,219.5 L344.0,209.8 L344.8,200.0 L345.5,190.3 L346.3,181.9 L347.0,176.0 L347.8,171.0 L348.5,166.8 L349.3,164.3 L350.0,164.2 L350.7,165.9 L351.5,169.0 L352.2,173.3 L353.0,178.5 L353.7,184.3 L354.5,190.4 L355.2,196.6 L356.0,204.2 L356.7,214.0 L357.5,225.2 L358.2,237.1 L358.9,248.9 L359.7,259.9 L360.4,269.1 L361.2,276.9 L361.9,284.3 L362.7,291.3 L363.4,297.9 L364.2,304.2 L364.9,310.3 L365.7,316.4 L366.4,322.3 L367.2,328.4 L367.9,334.5 L368.6,340.6 L369.4,346.7 L370.1,352.7 L370.9,358.6 L371.6,364.2 L372.4,369.5 L373.1,374.5 L373.9,379.0 L374.6,383.0 L375.4,386.7 L376.1,390.3 L376.9,393.8 L377.6,397.1 L378.3,400.2 L379.1,403.1 L379.8,405.6 L380.6,407.9 L381.3,409.8 L382.1,411.2 L382.8,412.4 L383.6,413.6 L384.3,414.6 L385.1,415.6 L385.8,416.6 L386.6,417.4 L387.3,418.3 L388.0,419.0 L388.8,419.8 L389.5,420.4 L390.3,421.1 L391.0,421.6 L391.8,422.2 L392.5,422.7 L393.3,423.2 L394.0,423.6 L394.8,424.1 L395.5,424.5 L396.2,424.9 L397.0,425.2 L397.7,425.6 L398.5,426.0 L399.2,426.3 L400.0,426.7 L400.7,427.0 L401.5,427.3 L402.2,427.6 L403.0,427.8 L403.7,428.1 L404.5,428.3 L405.2,428.4 L405.9,428.6 L406.7,428.7 L407.4,428.8 L408.2,428.9 L408.9,429.0 L409.7,429.1 L410.4,429.1 L411.2,429.2 L411.9,429.2 L412.7,429.2 L413.4,429.2 L414.2,429.3 L414.9,429.3 L415.6,429.3 L416.4,429.3 L417.1,429.3 L417.9,429.4 L418.6,429.4 L419.4,429.4 L420.1,429.4 L420.9,429.4 L421.6,429.4 L422.4,429.4 L423.1,429.4 L423.9,429.5 L424.6,429.5 L425.3,429.5 L426.1,429.5 L426.8,429.5 L427.6,429.5 L428.3,429.5 L429.1,429.5 L429.8,429.5 L430.6,429.5 L431.3,429.5 L432.1,429.5 L432.8,429.5 L433.5,429.5 L434.3,429.5 L435.0,429.5 L435.8,429.5 L436.5,429.5 L437.3,429.5 L438.0,429.4 L438.8,429.4 L439.5,429.4 L440.3,429.3 L441.0,429.3 L441.8,429.2 L442.5,429.2 L443.2,429.1 L444.0,429.0 L444.7,428.9 L445.5,428.8 L446.2,428.7 L447.0,428.6 L447.7,428.5 L448.5,428.4 L449.2,428.2 L450.0,428.1 L450.7,428.0 L451.5,427.8 L452.2,427.7 L452.9,427.6 L453.7,427.4 L454.4,427.3 L455.2,427.1 L455.9,427.0 L456.7,426.9 L457.4,426.7 L458.2,426.6 L458.9,426.5 L459.7,426.3 L460.4,426.2 L461.2,426.1 L461.9,425.9 L462.6,425.8 L463.4,425.7 L464.1,425.6 L464.9,425.5 L465.6,425.4 L466.4,425.3 L467.1,425.2 L467.9,425.1 L468.6,425.0 L469.4,424.9 L470.1,424.8 L470.8,424.8 L471.6,424.7 L472.3,424.6 L473.1,424.5 L473.8,424.4 L474.6,424.4 L475.3,424.3 L476.1,424.2 L476.8,424.1 L477.6,424.1 L478.3,424.0 L479.1,423.9 L479.8,423.8 L480.5,423.8 L481.3,423.7 L482.0,423.7 L482.8,423.6 L483.5,423.5 L484.3,423.5 L485.0,423.4 L485.8,423.4 L486.5,423.4 L487.3,423.3 L488.0,423.3 L488.8,423.3 L489.5,423.3 L490.2,423.2 L491.0,423.2 L491.7,423.2 L492.5,423.2 L493.2,423.2 L494.0,423.2 L494.7,423.3 L495.5,423.3 L496.2,423.3 L497.0,423.3 L497.7,423.4 L498.5,423.4 L499.2,423.4 L499.9,423.5 L500.7,423.5 L501.4,423.6 L502.2,423.6 L502.9,423.7 L503.7,423.7 L504.4,423.8 L505.2,423.8 L505.9,423.9 L506.7,424.0 L507.4,424.0 L508.1,424.1 L508.9,424.2 L509.6,424.3 L510.4,424.3 L511.1,424.4 L511.9,424.5 L512.6,424.6 L513.4,424.6 L514.1,424.7 L514.9,424.8 L515.6,424.9 L516.4,424.9 L517.1,425.0 L517.8,425.1 L518.6,425.2 L519.3,425.2 L520.1,425.3 L520.8,425.4 L521.6,425.5 L522.3,425.5 L523.1,425.6 L523.8,425.7 L524.6,425.7 L525.3,425.8 L526.1,425.9 L526.8,426.0 L527.5,426.0 L528.3,426.1 L529.0,426.2 L529.8,426.2 L530.5,426.3 L531.3,426.4 L532.0,426.4 L532.8,426.5 L533.5,426.6 L534.3,426.6 L535.0,426.7 L535.8,426.8 L536.5,426.9 L537.2,426.9 L538.0,427.0 L538.7,427.1 L539.5,427.1 L540.2,427.2 L541.0,427.3 L541.7,427.4 L542.5,427.4 L543.2,427.5 L544.0,427.6 L544.7,427.7 L545.4,427.7 L546.2,427.8 L546.9,427.9 L547.7,427.9 L548.4,428.0 L549.2,428.1 L549.9,428.1 L550.7,428.2 L551.4,428.3 L552.2,428.3 L552.9,428.4 L553.7,428.5 L554.4,428.5 L555.1,428.6 L555.9,428.6 L556.6,428.7 L557.4,428.7 L558.1,428.8 L558.9,428.8 L559.6,428.9 L560.4,428.9 L561.1,429.0 L561.9,429.0 L562.6,429.0 L563.4,429.1 L564.1,429.1 L564.8,429.2 L565.6,429.2 L566.3,429.2 L567.1,429.3 L567.8,429.3 L568.6,429.3 L569.3,429.3 L570.1,429.4 L570.8,429.4 L571.6,429.4 L572.3,429.4 L573.1,429.5 L573.8,429.5 L574.5,429.5 L575.3,429.5 L576.0,429.6 L576.8,429.6 L577.5,429.6 L578.3,429.6 L579.0,429.7 L579.8,429.7 L580.5,429.7 L581.3,429.7 L582.0,429.7 L582.7,429.8 L583.5,429.8 L584.2,429.8 L585.0,429.8 L585.7,429.8 L586.5,429.9 L587.2,429.9 L588.0,429.9 L588.7,429.9 L589.5,429.9 L590.2,429.9 L591.0,430.0 L591.7,430.0 L592.4,430.0 L593.2,430.0 L593.9,430.0 L594.7,430.0 L595.4,430.1 L596.2,430.1 L596.9,430.1 L597.7,430.1 L598.4,430.1 L599.2,430.1 L599.9,430.1 L600.7,430.2 L601.4,430.2 L602.1,430.2 L602.9,430.2 L603.6,430.2 L604.4,430.2 L605.1,430.2 L605.9,430.2 L606.6,430.3 L607.4,430.3 L608.1,430.3 L608.9,430.3 L609.6,430.3 L610.4,430.3 L611.1,430.3 L611.8,430.3 L612.6,430.3 L613.3,430.4 L614.1,430.4 L614.8,430.4 L615.6,430.4 L616.3,430.4 L617.1,430.4 L617.8,430.4 L618.6,430.4 L619.3,430.4 L620.0,430.4 L620.8,430.4 L621.5,430.5 L622.3,430.5 L623.0,430.5 L623.8,430.5 L624.5,430.5 L625.3,430.5 L626.0,430.5 L626.8,430.5 L627.5,430.5 L628.3,430.5 L629.0,430.6 L629.7,430.6 L630.5,430.6 L631.2,430.6 L632.0,430.6 L632.7,430.6 L633.5,430.6 L634.2,430.6 L635.0,430.7 L635.7,430.7 L636.5,430.7 L637.2,430.7 L638.0,430.7 L638.7,430.7 L639.4,430.8 L640.2,430.8 L640.9,430.8 L641.7,430.8 L642.4,430.9 L643.2,430.9 L643.9,430.9 L644.7,431.0 L645.4,431.0 L646.2,431.0 L646.9,431.1 L647.7,431.1 L648.4,431.1 L649.1,431.2 L649.9,431.2 L650.6,431.3 L651.4,431.3 L652.1,431.3 L652.9,431.4 L653.6,431.4 L654.4,431.5 L655.1,431.5 L655.9,431.6 L656.6,431.6 L657.3,431.7 L658.1,431.7 L658.8,431.8 L659.6,431.8 L660.3,431.9 L661.1,431.9 L661.8,432.0 L662.6,432.1 L663.3,432.1 L664.1,432.2 L664.8,432.2 L665.6,432.3 L666.3,432.3 L667.0,432.4 L667.8,432.5 L668.5,432.5 L669.3,432.6 L670.0,432.6 L670.8,432.7 L671.5,432.8 L672.3,432.8 L673.0,432.9 L673.8,432.9 L674.5,433.0 L675.3,433.1 L676.0,433.1 L676.7,433.2 L677.5,433.3 L678.2,433.3 L679.0,433.4 L679.7,433.5 L680.5,433.5 L681.2,433.6 L682.0,433.7 L682.7,433.8 L683.5,433.8 L684.2,433.9 L685.0,434.0 L685.7,434.1 L686.4,434.2 L687.2,434.2 L687.9,434.3 L688.7,434.4 L689.4,434.5 L690.2,434.6 L690.9,434.7 L691.7,434.8 L692.4,434.8 L693.2,434.9 L693.9,435.0 L694.6,435.1 L695.4,435.2 L696.1,435.3 L696.9,435.4 L697.6,435.5 L698.4,435.6 L699.1,435.6 L699.9,435.7 L700.6,435.8 L701.4,435.9 L702.1,436.0 L702.9,436.1 L703.6,436.1 L704.3,436.2 L705.1,436.3 L705.8,436.4 L706.6,436.5 L707.3,436.5 L708.1,436.6 L708.8,436.7 L709.6,436.8 L710.3,436.8 L711.1,436.9 L711.8,437.0 L712.6,437.0 L713.3,437.1 L714.0,437.2 L714.8,437.2 L715.5,437.3 L716.3,437.3 L717.0,437.4 L717.8,437.5 L718.5,437.5 L719.3,437.6 L720.0,437.6 L720.8,437.7 L721.5,437.7 L722.3,437.8 L723.0,437.8 L723.7,437.9 L724.5,438.0 L725.2,438.0 L726.0,438.1 L726.7,438.1 L727.5,438.2 L728.2,438.2 L729.0,438.3 L729.7,438.3 L730.5,438.4 L731.2,438.4 L731.9,438.5 L732.7,438.5 L733.4,438.6 L734.2,438.6 L734.9,438.7 L735.7,438.7 L736.4,438.7 L737.2,438.8 L737.9,438.8 L738.7,438.9 L739.4,438.9 L740.2,439.0 L740.9,439.0 L741.6,439.0 L742.4,439.1 L743.1,439.1 L743.9,439.2 L744.6,439.2 L745.4,439.2 L746.1,439.3 L746.9,439.3 L747.6,439.4 L748.4,439.4 L749.1,439.4 L749.9,439.5 L750.6,439.5 L751.5,439.5" stroke="#d62728"/>
<path d="M152.5,459.4 L153.8,459.4 L325.4,459.4 L326.1,459.4 L326.9,459.3 L327.6,459.1 L328.4,458.9 L329.1,458.4 L329.9,457.7 L330.6,456.8 L331.3,455.4 L332.1,453.2 L332.8,450.5 L333.6,447.1 L334.3,442.0 L335.1,436.0 L335.8,429.6 L336.6,422.5 L337.3,414.7 L338.1,406.3 L338.8,397.4 L339.6,387.1 L340.3,376.3 L341.0,366.0 L341.8,356.8 L342.5,348.1 L343.3,339.8 L344.0,332.1 L344.8,325.0 L345.5,318.5 L346.3,312.4 L347.0,306.2 L347.8,300.1 L348.5,295.1 L349.3,291.6 L350.0,288.6 L350.7,286.3 L351.5,285.4 L352.2,285.8 L353.0,287.1 L353.7,289.1 L354.5,291.6 L355.2,294.7 L356.0,298.2 L356.7,302.0 L357.5,306.1 L358.2,310.2 L358.9,314.4 L359.7,318.4 L360.4,322.3 L361.2,325.9 L361.9,329.5 L362.7,333.2 L363.4,337.1 L364.2,341.0 L364.9,345.0 L365.7,349.0 L366.4,352.9 L367.2,356.7 L367.9,360.4 L368.6,363.8 L369.4,367.2 L370.1,370.7 L370.9,374.2 L371.6,377.5 L372.4,380.8 L373.1,384.0 L373.9,386.9 L374.6,389.6 L375.4,392.0 L376.1,394.1 L376.9,395.9 L377.6,397.6 L378.3,399.3 L379.1,400.8 L379.8,402.2 L380.6,403.6 L381.3,404.9 L382.1,406.1 L382.8,407.2 L383.6,408.3 L384.3,409.3 L385.1,410.3 L385.8,411.2 L386.6,412.1 L387.3,413.0 L388.0,413.9 L388.8,414.7 L389.5,415.6 L390.3,416.4 L391.0,417.2 L391.8,417.9 L392.5,418.7 L393.3,419.4 L394.0,420.0 L394.8,420.7 L395.5,421.3 L396.2,421.8 L397.0,422.4 L397.7,422.9 L398.5,423.3 L399.2,423.7 L400.0,424.1 L400.7,424.4 L401.5,424.7 L402.2,425.0 L403.0,425.2 L403.7,425.5 L404.5,425.7 L405.2,425.9 L405.9,426.2 L406.7,426.4 L407.4,426.6 L408.2,426.7 L408.9,426.9 L409.7,427.1 L410.4,427.2 L411.2,427.4 L411.9,427.5 L412.7,427.7 L413.4,427.8 L414.2,427.9 L414.9,428.1 L415.6,428.2 L416.4,428.3 L417.1,428.4 L417.9,428.5 L418.6,428.6 L419.4,428.7 L420.1,428.8 L420.9,428.8 L421.6,428.9 L422.4,428.9 L423.1,429.0 L423.9,429.0 L424.6,429.0 L425.3,429.0 L426.1,429.0 L426.8,429.0 L427.6,429.0 L428.3,429.0 L429.1,429.0 L429.8,429.0 L430.6,428.9 L431.3,428.9 L432.1,428.9 L432.8,428.8 L433.5,428.8 L434.3,428.8 L435.0,428.7 L435.8,428.7 L436.5,428.6 L437.3,428.6 L438.0,428.5 L438.8,428.5 L439.5,428.4 L440.3,428.4 L441.0,428.3 L441.8,428.3 L442.5,428.2 L443.2,428.1 L444.0,428.1 L444.7,428.0 L445.5,428.0 L446.2,427.9 L447.0,427.9 L447.7,427.8 L448.5,427.8 L449.2,427.7 L450.0,427.7 L450.7,427.6 L451.5,427.6 L452.2,427.6 L452.9,427.5 L453.7,427.5 L454.4,427.4 L455.2,427.4 L455.9,427.3 L456.7,427.3 L457.4,427.2 L458.2,427.2 L458.9,427.2 L459.7,427.1 L460.4,427.1 L461.2,427.0 L461.9,427.0 L462.6,426.9 L463.4,426.9 L464.1,426.8 L464.9,426.8 L465.6,426.7 L466.4,426.7 L467.1,426.7 L467.9,426.6 L468.6,426.6 L469.4,426.5 L470.1,426.5 L470.8,426.4 L471.6,426.4 L472.3,426.4 L473.1,426.3 L473.8,426.3 L474.6,426.3 L475.3,426.2 L476.1,426.2 L476.8,426.2 L477.6,426.1 L478.3,426.1 L479.1,426.1 L479.8,426.1 L480.5,426.1 L481.3,426.0 L482.0,426.0 L482.8,426.0 L483.5,426.0 L484.3,426.0 L485.0,426.0 L485.8,426.0 L486.5,426.0 L487.3,426.0 L488.0,426.0 L488.8,426.1 L489.5,426.1 L490.2,426.1 L491.0,426.1 L491.7,426.2 L492.5,426.2 L493.2,426.3 L494.0,426.3 L494.7,426.3 L495.5,426.4 L496.2,426.5 L497.0,426.5 L497.7,426.6 L498.5,426.7 L499.2,426.7 L499.9,426.8 L500.7,426.9 L501.4,426.9 L502.2,427.0 L502.9,427.1 L503.7,427.2 L504.4,427.3 L505.2,427.4 L505.9,427.5 L506.7,427.5 L507.4,427.6 L508.1,427.7 L508.9,427.8 L509.6,427.9 L510.4,428.0 L511.1,428.1 L511.9,428.2 L512.6,428.3 L513.4,428.4 L514.1,428.5 L514.9,428.6 L515.6,428.7 L516.4,428.8 L517.1,428.8 L517.8,428.9 L518.6,429.0 L519.3,429.1 L520.1,429.2 L520.8,429.3 L521.6,429.4 L522.3,429.5 L523.1,429.5 L523.8,429.6 L524.6,429.7 L525.3,429.8 L526.1,429.9 L526.8,429.9 L527.5,430.0 L528.3,430.1 L529.0,430.1 L529.8,430.2 L530.5,430.3 L531.3,430.4 L532.0,430.4 L532.8,430.5 L533.5,430.6 L534.3,430.7 L535.0,430.7 L535.8,430.8 L536.5,430.9 L537.2,430.9 L538.0,431.0 L538.7,431.1 L539.5,431.2 L540.2,431.2 L541.0,431.3 L541.7,431.4 L542.5,431.5 L543.2,431.5 L544.0,431.6 L544.7,431.7 L545.4,431.7 L546.2,431.8 L546.9,431.9 L547.7,431.9 L548.4,432.0 L549.2,432.1 L549.9,432.1 L550.7,432.2 L551.4,432.3 L552.2,432.3 L552.9,432.4 L553.7,432.4 L554.4,432.5 L555.1,432.6 L555.9,432.6 L556.6,432.7 L557.4,432.7 L558.1,432.8 L558.9,432.8 L559.6,432.9 L560.4,432.9 L561.1,432.9 L561.9,433.0 L562.6,433.0 L563.4,433.1 L564.1,433.1 L564.8,433.1 L565.6,433.2 L566.3,433.2 L567.1,433.2 L567.8,433.3 L568.6,433.3 L569.3,433.3 L570.1,433.4 L570.8,433.4 L571.6,433.4 L572.3,433.5 L573.1,433.5 L573.8,433.5 L574.5,433.5 L575.3,433.6 L576.0,433.6 L576.8,433.6 L577.5,433.6 L578.3,433.7 L579.0,433.7 L579.8,433.7 L580.5,433.7 L581.3,433.8 L582.0,433.8 L582.7,433.8 L583.5,433.8 L584.2,433.8 L585.0,433.9 L585.7,433.9 L586.5,433.9 L587.2,433.9 L588.0,433.9 L588.7,434.0 L589.5,434.0 L590.2,434.0 L591.0,434.0 L591.7,434.0 L592.4,434.1 L593.2,434.1 L593.9,434.1 L594.7,434.1 L595.4,434.1 L596.2,434.1 L596.9,434.1 L597.7,434.2 L598.4,434.2 L599.2,434.2 L599.9,434.2 L600.7,434.2 L601.4,434.2 L602.1,434.2 L602.9,434.3 L603.6,434.3 L604.4,434.3 L605.1,434.3 L605.9,434.3 L606.6,434.3 L607.4,434.3 L608.1,434.3 L608.9,434.3 L609.6,434.4 L610.4,434.4 L611.1,434.4 L611.8,434.4 L612.6,434.4 L613.3,434.4 L614.1,434.4 L614.8,434.4 L615.6,434.4 L616.3,434.4 L617.1,434.4 L617.8,434.4 L618.6,434.4 L619.3,434.5 L620.0,434.5 L620.8,434.5 L621.5,434.5 L622.3,434.5 L623.0,434.5 L623.8,434.5 L624.5,434.5 L625.3,434.5 L626.0,434.5 L626.8,434.5 L627.5,434.5 L628.3,434.5 L629.0,434.6 L629.7,434.6 L630.5,434.6 L631.2,434.6 L632.0,434.6 L632.7,434.6 L633.5,434.6 L634.2,434.6 L635.0,434.7 L635.7,434.7 L636.5,434.7 L637.2,434.7 L638.0,434.7 L638.7,434.7 L639.4,434.8 L640.2,434.8 L640.9,434.8 L641.7,434.8 L642.4,434.8 L643.2,434.9 L643.9,434.9 L644.7,434.9 L645.4,435.0 L646.2,435.0 L646.9,435.0 L647.7,435.1 L648.4,435.1 L649.1,435.2 L649.9,435.2 L650.6,435.2 L651.4,435.3 L652.1,435.3 L652.9,435.4 L653.6,435.4 L654.4,435.5 L655.1,435.5 L655.9,435.6 L656.6,435.6 L657.3,435.7 L658.1,435.7 L658.8,435.8 L659.6,435.8 L660.3,435.9 L661.1,436.0 L661.8,436.0 L662.6,436.1 L663.3,436.1 L664.1,436.2 L664.8,436.2 L665.6,436.3 L666.3,436.4 L667.0,436.4 L667.8,436.5 L668.5,436.5 L669.3,436.6 L670.0,436.6 L670.8,436.7 L671.5,436.8 L672.3,436.8 L673.0,436.9 L673.8,436.9 L674.5,437.0 L675.3,437.1 L676.0,437.1 L676.7,437.2 L677.5,437.2 L678.2,437.3 L679.0,437.3 L679.7,437.4 L680.5,437.5 L681.2,437.5 L682.0,437.6 L682.7,437.7 L683.5,437.7 L684.2,437.8 L685.0,437.9 L685.7,437.9 L686.4,438.0 L687.2,438.1 L687.9,438.1 L688.7,438.2 L689.4,438.3 L690.2,438.3 L690.9,438.4 L691.7,438.5 L692.4,438.5 L693.2,438.6 L693.9,438.7 L694.6,438.8 L695.4,438.8 L696.1,438.9 L696.9,439.0 L697.6,439.0 L698.4,439.1 L699.1,439.2 L699.9,439.2 L700.6,439.3 L701.4,439.4 L702.1,439.4 L702.9,439.5 L703.6,439.6 L704.3,439.6 L705.1,439.7 L705.8,439.7 L706.6,439.8 L707.3,439.9 L708.1,439.9 L708.8,440.0 L709.6,440.0 L710.3,440.1 L711.1,440.1 L711.8,440.2 L712.6,440.2 L713.3,440.3 L714.0,440.3 L714.8,440.4 L715.5,440.4 L716.3,440.5 L717.0,440.5 L717.8,440.6 L718.5,440.6 L719.3,440.6 L720.0,440.7 L720.8,440.7 L721.5,440.8 L722.3,440.8 L723.0,440.8 L723.7,440.9 L724.5,440.9 L725.2,441.0 L726.0,441.0 L726.7,441.0 L727.5,441.1 L728.2,441.1 L729.0,441.2 L729.7,441.2 L730.5,441.2 L731.2,441.3 L731.9,441.3 L732.7,441.3 L733.4,441.4 L734.2,441.4 L734.9,441.5 L735.7,441.5 L736.4,441.5 L737.2,441.6 L737.9,441.6 L738.7,441.6 L739.4,441.6 L740.2,441.7 L740.9,441.7 L741.6,441.7 L742.4,441.8 L743.1,441.8 L743.9,441.8 L744.6,441.8 L745.4,441.9 L746.1,441.9 L746.9,441.9 L747.6,441.9 L748.4,442.0 L749.1,442.0 L749.9,442.0 L750.6,442.0 L751.5,442.0" stroke="#9467bd"/>
<path d="M152.5,459.4 L153.8,459.4 L325.4,459.4 L326.1,459.4 L326.9,459.3 L327.6,459.2 L328.4,458.9 L329.1,458.5 L329.9,457.8 L330.6,456.9 L331.3,455.4 L332.1,453.3 L332.8,450.7 L333.6,446.9 L334.3,441.9 L335.1,436.5 L335.8,430.5 L336.6,423.9 L337.3,416.7 L338.1,409.0 L338.8,400.2 L339.6,391.0 L340.3,382.3 L341.0,374.5 L341.8,367.2 L342.5,360.3 L343.3,353.9 L344.0,348.1 L344.8,342.7 L345.5,337.5 L346.3,332.2 L347.0,327.6 L347.8,324.4 L348.5,321.7 L349.3,319.7 L350.0,318.9 L350.7,319.6 L351.5,321.6 L352.2,324.7 L353.0,328.7 L353.7,333.2 L354.5,338.0 L355.2,343.0 L356.0,347.7 L356.7,352.1 L357.5,355.9 L358.2,359.2 L358.9,362.6 L359.7,366.0 L360.4,369.4 L361.2,372.7 L361.9,375.9 L362.7,379.0 L363.4,382.1 L364.2,385.0 L364.9,387.8 L365.7,390.4 L366.4,392.8 L367.2,395.0 L367.9,397.1 L368.6,399.2 L369.4,401.2 L370.1,403.2 L370.9,405.1 L371.6,406.9 L372.4,408.6 L373.1,410.2 L373.9,411.6 L374.6,412.9 L375.4,414.1 L376.1,415.0 L376.9,415.9 L377.6,416.7 L378.3,417.5 L379.1,418.2 L379.8,418.9 L380.6,419.5 L381.3,420.1 L382.1,420.7 L382.8,421.3 L383.6,421.8 L384.3,422.3 L385.1,422.8 L385.8,423.2 L386.6,423.7 L387.3,424.1 L388.0,424.6 L388.8,425.0 L389.5,425.4 L390.3,425.8 L391.0,426.2 L391.8,426.6 L392.5,427.0 L393.3,427.4 L394.0,427.7 L394.8,428.1 L395.5,428.5 L396.2,428.8 L397.0,429.1 L397.7,429.5 L398.5,429.8 L399.2,430.1 L400.0,430.4 L400.7,430.6 L401.5,430.9 L402.2,431.2 L403.0,431.4 L403.7,431.6 L404.5,431.8 L405.2,432.0 L405.9,432.2 L406.7,432.4 L407.4,432.6 L408.2,432.8 L408.9,433.0 L409.7,433.2 L410.4,433.3 L411.2,433.5 L411.9,433.6 L412.7,433.8 L413.4,433.9 L414.2,434.0 L414.9,434.2 L415.6,434.3 L416.4,434.4 L417.1,434.5 L417.9,434.6 L418.6,434.7 L419.4,434.7 L420.1,434.8 L420.9,434.9 L421.6,434.9 L422.4,435.0 L423.1,435.0 L423.9,435.1 L424.6,435.1 L425.3,435.1 L426.1,435.2 L426.8,435.2 L427.6,435.3 L428.3,435.3 L429.1,435.3 L429.8,435.3 L430.6,435.4 L431.3,435.4 L432.1,435.4 L432.8,435.4 L433.5,435.4 L434.3,435.5 L435.0,435.5 L435.8,435.5 L436.5,435.5 L437.3,435.5 L438.0,435.5 L438.8,435.5 L439.5,435.5 L440.3,435.5 L441.0,435.5 L441.8,435.5 L442.5,435.5 L443.2,435.4 L444.0,435.4 L444.7,435.4 L445.5,435.4 L446.2,435.4 L447.0,435.4 L447.7,435.3 L448.5,435.3 L449.2,435.3 L450.0,435.3 L450.7,435.3 L451.5,435.2 L452.2,435.2 L452.9,435.2 L453.7,435.2 L454.4,435.1 L455.2,435.1 L455.9,435.1 L456.7,435.1 L457.4,435.0 L458.2,435.0 L458.9,435.0 L459.7,435.0 L460.4,434.9 L461.2,434.9 L461.9,434.9 L462.6,434.8 L463.4,434.8 L464.1,434.8 L464.9,434.8 L465.6,434.7 L466.4,434.7 L467.1,434.7 L467.9,434.7 L468.6,434.6 L469.4,434.6 L470.1,434.6 L470.8,434.6 L471.6,434.6 L472.3,434.5 L473.1,434.5 L473.8,434.5 L474.6,434.5 L475.3,434.5 L476.1,434.5 L476.8,434.5 L477.6,434.4 L478.3,434.4 L479.1,434.4 L479.8,434.4 L480.5,434.4 L481.3,434.4 L482.0,434.4 L482.8,434.4 L483.5,434.4 L484.3,434.4 L485.0,434.5 L485.8,434.5 L486.5,434.5 L487.3,434.5 L488.0,434.5 L488.8,434.5 L489.5,434.6 L490.2,434.6 L491.0,434.6 L491.7,434.7 L492.5,434.7 L493.2,434.7 L494.0,434.8 L494.7,434.8 L495.5,434.9 L496.2,434.9 L497.0,434.9 L497.7,435.0 L498.5,435.0 L499.2,435.1 L499.9,435.1 L500.7,435.2 L501.4,435.2 L502.2,435.3 L502.9,435.3 L503.7,435.4 L504.4,435.5 L505.2,435.5 L505.9,435.6 L506.7,435.6 L507.4,435.7 L508.1,435.7 L508.9,435.8 L509.6,435.9 L510.4,435.9 L511.1,436.0 L511.9,436.0 L512.6,436.1 L513.4,436.2 L514.1,436.2 L514.9,436.3 L515.6,436.3 L516.4,436.4 L517.1,436.4 L517.8,436.5 L518.6,436.6 L519.3,436.6 L520.1,436.7 L520.8,436.7 L521.6,436.8 L522.3,436.8 L523.1,436.9 L523.8,436.9 L524.6,437.0 L525.3,437.0 L526.1,437.1 L526.8,437.1 L527.5,437.1 L528.3,437.2 L529.0,437.2 L529.8,437.3 L530.5,437.3 L531.3,437.4 L532.0,437.4 L532.8,437.5 L533.5,437.5 L534.3,437.6 L535.0,437.6 L535.8,437.6 L536.5,437.7 L537.2,437.7 L538.0,437.8 L538.7,437.8 L539.5,437.9 L540.2,437.9 L541.0,438.0 L541.7,438.0 L542.5,438.1 L543.2,438.1 L544.0,438.2 L544.7,438.2 L545.4,438.2 L546.2,438.3 L546.9,438.3 L547.7,438.3 L548.4,438.4 L549.2,438.4 L549.9,438.4 L550.7,438.5 L551.4,438.5 L552.2,438.5 L552.9,438.6 L553.7,438.6 L554.4,438.6 L555.1,438.6 L555.9,438.6 L556.6,438.6 L557.4,438.7 L558.1,438.7 L558.9,438.7 L559.6,438.7 L560.4,438.7 L561.1,438.7 L561.9,438.7 L562.6,438.7 L563.4,438.7 L564.1,438.7 L564.8,438.7 L565.6,438.7 L566.3,438.7 L567.1,438.7 L567.8,438.7 L568.6,438.6 L569.3,438.6 L570.1,438.6 L570.8,438.6 L571.6,438.6 L572.3,438.6 L573.1,438.6 L573.8,438.6 L574.5,438.6 L575.3,438.6 L576.0,438.6 L576.8,438.5 L577.5,438.5 L578.3,438.5 L579.0,438.5 L579.8,438.5 L580.5,438.5 L581.3,438.5 L582.0,438.5 L582.7,438.5 L583.5,438.5 L584.2,438.4 L585.0,438.4 L585.7,438.4 L586.5,438.4 L587.2,438.4 L588.0,438.4 L588.7,438.4 L589.5,438.4 L590.2,438.4 L591.0,438.4 L591.7,438.4 L592.4,438.4 L593.2,438.3 L593.9,438.3 L594.7,438.3 L595.4,438.3 L596.2,438.3 L596.9,438.3 L597.7,438.3 L598.4,438.3 L599.2,438.3 L599.9,438.3 L600.7,438.3 L601.4,438.3 L602.1,438.3 L602.9,438.3 L603.6,438.3 L604.4,438.3 L605.1,438.3 L605.9,438.3 L606.6,438.3 L607.4,438.3 L608.1,438.3 L608.9,438.4 L609.6,438.4 L610.4,438.4 L611.1,438.4 L611.8,438.4 L612.6,438.4 L613.3,438.4 L614.1,438.4 L614.8,438.4 L615.6,438.5 L616.3,438.5 L617.1,438.5 L617.8,438.5 L618.6,438.5 L619.3,438.5 L620.0,438.6 L620.8,438.6 L621.5,438.6 L622.3,438.6 L623.0,438.6 L623.8,438.6 L624.5,438.7 L625.3,438.7 L626.0,438.7 L626.8,438.7 L627.5,438.8 L628.3,438.8 L629.0,438.8 L629.7,438.8 L630.5,438.8 L631.2,438.9 L632.0,438.9 L632.7,438.9 L633.5,438.9 L634.2,439.0 L635.0,439.0 L635.7,439.0 L636.5,439.0 L637.2,439.1 L638.0,439.1 L638.7,439.1 L639.4,439.1 L640.2,439.2 L640.9,439.2 L641.7,439.2 L642.4,439.3 L643.2,439.3 L643.9,439.3 L644.7,439.4 L645.4,439.4 L646.2,439.4 L646.9,439.5 L647.7,439.5 L648.4,439.6 L649.1,439.6 L649.9,439.6 L650.6,439.7 L651.4,439.7 L652.1,439.8 L652.9,439.8 L653.6,439.9 L654.4,439.9 L655.1,440.0 L655.9,440.0 L656.6,440.1 L657.3,440.1 L658.1,440.2 L658.8,440.2 L659.6,440.3 L660.3,440.3 L661.1,440.4 L661.8,440.4 L662.6,440.5 L663.3,440.6 L664.1,440.6 L664.8,440.7 L665.6,440.7 L666.3,440.8 L667.0,440.8 L667.8,440.9 L668.5,440.9 L669.3,441.0 L670.0,441.1 L670.8,441.1 L671.5,441.2 L672.3,441.2 L673.0,441.3 L673.8,441.3 L674.5,441.4 L675.3,441.4 L676.0,441.5 L676.7,441.5 L677.5,441.6 L678.2,441.7 L679.0,441.7 L679.7,441.8 L680.5,441.8 L681.2,441.9 L682.0,441.9 L682.7,442.0 L683.5,442.1 L684.2,442.1 L685.0,442.2 L685.7,442.2 L686.4,442.3 L687.2,442.4 L687.9,442.4 L688.7,442.5 L689.4,442.6 L690.2,442.6 L690.9,442.7 L691.7,442.8 L692.4,442.8 L693.2,442.9 L693.9,442.9 L694.6,443.0 L695.4,443.1 L696.1,443.1 L696.9,443.2 L697.6,443.2 L698.4,443.3 L699.1,443.4 L699.9,443.4 L700.6,443.5 L701.4,443.5 L702.1,443.6 L702.9,443.6 L703.6,443.7 L704.3,443.8 L705.1,443.8 L705.8,443.9 L706.6,443.9 L707.3,443.9 L708.1,444.0 L708.8,444.0 L709.6,444.1 L710.3,444.1 L711.1,444.1 L711.8,444.2 L712.6,444.2 L713.3,444.3 L714.0,444.3 L714.8,444.3 L715.5,444.4 L716.3,444.4 L717.0,444.4 L717.8,444.4 L718.5,444.5 L719.3,444.5 L720.0,444.5 L720.8,444.6 L721.5,444.6 L722.3,444.6 L723.0,444.6 L723.7,444.7 L724.5,444.7 L725.2,444.7 L726.0,444.8 L726.7,444.8 L727.5,444.8 L728.2,444.8 L729.0,444.9 L729.7,444.9 L730.5,444.9 L731.2,444.9 L731.9,444.9 L732.7,445.0 L733.4,445.0 L734.2,445.0 L734.9,445.0 L735.7,445.1 L736.4,445.1 L737.2,445.1 L737.9,445.1 L738.7,445.1 L739.4,445.1 L740.2,445.2 L740.9,445.2 L741.6,445.2 L742.4,445.2 L743.1,445.2 L743.9,445.2 L744.6,445.2 L745.4,445.2 L746.1,445.3 L746.9,445.3 L747.6,445.3 L748.4,445.3 L749.1,445.3 L749.9,445.3 L750.6,445.3 L751.5,445.3" stroke="#8c564b"/>
</g>
<line x1="347.8" y1="29.3" x2="347.8" y2="459.4" stroke="#000" stroke-opacity="0.5" stroke-width="3.7"/>
<rect x="125.9" y="8.8" width="653.1" height="472.1" fill="none" stroke="#111" stroke-width="1.5"/>
<line x1="153.8" y1="480.9" x2="153.8" y2="474.5" stroke="#111" stroke-width="1.5"/>
<text transform="translate(153.6,516.2) scale(1,1.025)" font-size="38.5" text-anchor="middle">0</text>
<line x1="303.0" y1="480.9" x2="303.0" y2="474.5" stroke="#111" stroke-width="1.5"/>
<text transform="translate(302.8,516.2) scale(1,1.025)" font-size="38.5" text-anchor="middle">2</text>
<line x1="452.2" y1="480.9" x2="452.2" y2="474.5" stroke="#111" stroke-width="1.5"/>
<text transform="translate(452.0,516.2) scale(1,1.025)" font-size="38.5" text-anchor="middle">4</text>
<line x1="601.4" y1="480.9" x2="601.4" y2="474.5" stroke="#111" stroke-width="1.5"/>
<text transform="translate(601.2,516.2) scale(1,1.025)" font-size="38.5" text-anchor="middle">6</text>
<line x1="750.6" y1="480.9" x2="750.6" y2="474.5" stroke="#111" stroke-width="1.5"/>
<text transform="translate(750.4,516.2) scale(1,1.025)" font-size="38.5" text-anchor="middle">8</text>
<line x1="125.9" y1="459.4" x2="132.3" y2="459.4" stroke="#111" stroke-width="1.5"/>
<text transform="translate(119.3,474.4) scale(1,1.025)" font-size="38.5" text-anchor="end">0.0</text>
<line x1="125.9" y1="379.8" x2="132.3" y2="379.8" stroke="#111" stroke-width="1.5"/>
<text transform="translate(119.3,394.8) scale(1,1.025)" font-size="38.5" text-anchor="end">0.1</text>
<line x1="125.9" y1="300.1" x2="132.3" y2="300.1" stroke="#111" stroke-width="1.5"/>
<text transform="translate(119.3,315.1) scale(1,1.025)" font-size="38.5" text-anchor="end">0.2</text>
<line x1="125.9" y1="220.5" x2="132.3" y2="220.5" stroke="#111" stroke-width="1.5"/>
<text transform="translate(119.3,235.5) scale(1,1.025)" font-size="38.5" text-anchor="end">0.3</text>
<line x1="125.9" y1="140.9" x2="132.3" y2="140.9" stroke="#111" stroke-width="1.5"/>
<text transform="translate(119.3,155.9) scale(1,1.025)" font-size="38.5" text-anchor="end">0.4</text>
<line x1="125.9" y1="61.2" x2="132.3" y2="61.2" stroke="#111" stroke-width="1.5"/>
<text transform="translate(119.3,76.2) scale(1,1.025)" font-size="38.5" text-anchor="end">0.5</text>
<text x="453.6" y="562.0" font-size="34.9" text-anchor="middle">r[<tspan font-style="italic">Å</tspan>]</text>
<text transform="translate(43.4,243.5) rotate(-90)" font-size="34.9" text-anchor="middle">g<tspan font-style="italic" font-size="25.1" dy="5.8">OO</tspan><tspan dy="-5.8" dx="0.8">(r)</tspan></text>
<line x1="622.1" y1="40.4" x2="676.5" y2="40.4" stroke="#1f77b4" stroke-width="5.2"/>
<text x="693.4" y="48.9" font-size="25.0">A<tspan font-style="italic" font-size="17.5" dy="-9.05" dx="0.4">I</tspan><tspan dy="9.05" dx="0.6">-A</tspan><tspan font-style="italic" font-size="17.5" dy="-9.05" dx="0.4">I</tspan></text>
<line x1="622.1" y1="76.8" x2="676.5" y2="76.8" stroke="#ff7f0e" stroke-width="5.2"/>
<text x="693.4" y="85.3" font-size="25.0">A<tspan font-style="italic" font-size="17.5" dy="-9.05" dx="0.4">I</tspan><tspan dy="9.05" dx="0.6">-A</tspan><tspan font-style="italic" font-size="17.5" dy="-9.05" dx="0.4">II</tspan></text>
<line x1="622.1" y1="113.2" x2="676.5" y2="113.2" stroke="#2ca02c" stroke-width="5.2"/>
<text x="693.4" y="121.7" font-size="25.0">A<tspan font-style="italic" font-size="17.5" dy="-9.05" dx="0.4">I</tspan><tspan dy="9.05" dx="0.6">-A</tspan><tspan font-style="italic" font-size="17.5" dy="-9.05" dx="0.4">III</tspan></text>
<line x1="622.1" y1="149.6" x2="676.5" y2="149.6" stroke="#d62728" stroke-width="5.2"/>
<text x="693.4" y="158.1" font-size="25.0">A<tspan font-style="italic" font-size="17.5" dy="-9.05" dx="0.4">I</tspan><tspan dy="9.05" dx="0.6">-B</tspan><tspan font-style="italic" font-size="17.5" dy="-9.05" dx="0.4">I</tspan></text>
<line x1="622.1" y1="186.0" x2="676.5" y2="186.0" stroke="#9467bd" stroke-width="5.2"/>
<text x="693.4" y="194.5" font-size="25.0">A<tspan font-style="italic" font-size="17.5" dy="-9.05" dx="0.4">I</tspan><tspan dy="9.05" dx="0.6">-B</tspan><tspan font-style="italic" font-size="17.5" dy="-9.05" dx="0.4">II</tspan></text>
<line x1="622.1" y1="222.4" x2="676.5" y2="222.4" stroke="#8c564b" stroke-width="5.2"/>
<text x="693.4" y="230.9" font-size="25.0">A<tspan font-style="italic" font-size="17.5" dy="-9.05" dx="0.4">I</tspan><tspan dy="9.05" dx="0.6">-B</tspan><tspan font-style="italic" font-size="17.5" dy="-9.05" dx="0.4">III</tspan></text>
<line x1="452.2" y1="66.5" x2="394.2" y2="66.5" stroke="#f39800" stroke-width="3.7"/><path d="M365.7,66.5 L402.2,55.4 L395.2,66.5 L402.2,77.6 Z" fill="#f39800"/><line x1="256.8" y1="231.0" x2="314.3" y2="231.0" stroke="#c30d23" stroke-width="4.0"/><path d="M342.8,231.0 L306.3,219.9 L313.3,231.0 L306.3,242.1 Z" fill="#c30d23"/>
<text x="2" y="45.2" font-family="'Liberation Serif',serif" font-size="56.6" fill="#231815" stroke="#231815" stroke-width="0.7">(a)</text>
</g>
<g id="panel-b">
<g id="inset-b1" clip-path="url(#clipB1)"><g filter="url(#soft)"><circle cx="980.8" cy="104.5" r="25.5" fill="#fff" stroke="#a6a5a3" stroke-width="1.6"/><circle cx="980.8" cy="104.5" r="23.5" fill="none" stroke="#efeeeb" stroke-width="1.8"/><circle cx="966.5" cy="112.0" r="25.5" fill="#fff" stroke="#a6a5a3" stroke-width="1.6"/><circle cx="966.5" cy="112.0" r="23.5" fill="none" stroke="#efeeeb" stroke-width="1.8"/><circle cx="950.0" cy="120.0" r="25.5" fill="#fff" stroke="#a6a5a3" stroke-width="1.6"/><circle cx="950.0" cy="120.0" r="23.5" fill="none" stroke="#efeeeb" stroke-width="1.8"/><circle cx="934.6" cy="127.5" r="25.5" fill="#fff" stroke="#a6a5a3" stroke-width="1.6"/><circle cx="934.6" cy="127.5" r="23.5" fill="none" stroke="#efeeeb" stroke-width="1.8"/><circle cx="1020.2" cy="133.5" r="25.5" fill="#fff" stroke="#a6a5a3" stroke-width="1.6"/><circle cx="1020.2" cy="133.5" r="23.5" fill="none" stroke="#efeeeb" stroke-width="1.8"/><circle cx="1004.8" cy="140.7" r="25.5" fill="#fff" stroke="#a6a5a3" stroke-width="1.6"/><circle cx="1004.8" cy="140.7" r="23.5" fill="none" stroke="#efeeeb" stroke-width="1.8"/><circle cx="989.4" cy="147.9" r="25.5" fill="#fff" stroke="#a6a5a3" stroke-width="1.6"/><circle cx="989.4" cy="147.9" r="23.5" fill="none" stroke="#efeeeb" stroke-width="1.8"/><circle cx="974.0" cy="155.1" r="25.5" fill="#fff" stroke="#a6a5a3" stroke-width="1.6"/><circle cx="974.0" cy="155.1" r="23.5" fill="none" stroke="#efeeeb" stroke-width="1.8"/><circle cx="958.6" cy="162.3" r="25.5" fill="#fff" stroke="#a6a5a3" stroke-width="1.6"/><circle cx="958.6" cy="162.3" r="23.5" fill="none" stroke="#efeeeb" stroke-width="1.8"/><circle cx="943.2" cy="169.5" r="25.5" fill="#fff" stroke="#a6a5a3" stroke-width="1.6"/><circle cx="943.2" cy="169.5" r="23.5" fill="none" stroke="#efeeeb" stroke-width="1.8"/><circle cx="927.8" cy="176.7" r="25.5" fill="#fff" stroke="#a6a5a3" stroke-width="1.6"/><circle cx="927.8" cy="176.7" r="23.5" fill="none" stroke="#efeeeb" stroke-width="1.8"/><circle cx="912.4" cy="183.9" r="25.5" fill="#fff" stroke="#a6a5a3" stroke-width="1.6"/><circle cx="912.4" cy="183.9" r="23.5" fill="none" stroke="#efeeeb" stroke-width="1.8"/><circle cx="1070.1" cy="122.6" r="25.5" fill="#fff" stroke="#a6a5a3" stroke-width="1.6"/><circle cx="1070.1" cy="122.6" r="23.5" fill="none" stroke="#efeeeb" stroke-width="1.8"/><circle cx="1054.7" cy="129.8" r="25.5" fill="#fff" stroke="#a6a5a3" stroke-width="1.6"/><circle cx="1054.7" cy="129.8" r="23.5" fill="none" stroke="#efeeeb" stroke-width="1.8"/><circle cx="1039.3" cy="137.0" r="25.5" fill="#fff" stroke="#a6a5a3" stroke-width="1.6"/><circle cx="1039.3" cy="137.0" r="23.5" fill="none" stroke="#efeeeb" stroke-width="1.8"/><circle cx="1023.9" cy="144.2" r="25.5" fill="#fff" stroke="#a6a5a3" stroke-width="1.6"/><circle cx="1023.9" cy="144.2" r="23.5" fill="none" stroke="#efeeeb" stroke-width="1.8"/><circle cx="1008.5" cy="151.4" r="25.5" fill="#fff" stroke="#a6a5a3" stroke-width="1.6"/><circle cx="1008.5" cy="151.4" r="23.5" fill="none" stroke="#efeeeb" stroke-width="1.8"/><circle cx="993.1" cy="158.6" r="25.5" fill="#fff" stroke="#a6a5a3" stroke-width="1.6"/><circle cx="993.1" cy="158.6" r="23.5" fill="none" stroke="#efeeeb" stroke-width="1.8"/><circle cx="977.7" cy="165.8" r="25.5" fill="#fff" stroke="#a6a5a3" stroke-width="1.6"/><circle cx="977.7" cy="165.8" r="23.5" fill="none" stroke="#efeeeb" stroke-width="1.8"/><circle cx="962.3" cy="173.0" r="25.5" fill="#fff" stroke="#a6a5a3" stroke-width="1.6"/><circle cx="962.3" cy="173.0" r="23.5" fill="none" stroke="#efeeeb" stroke-width="1.8"/><circle cx="946.9" cy="180.2" r="25.5" fill="#fff" stroke="#a6a5a3" stroke-width="1.6"/><circle cx="946.9" cy="180.2" r="23.5" fill="none" stroke="#efeeeb" stroke-width="1.8"/><circle cx="931.5" cy="187.4" r="25.5" fill="#fff" stroke="#a6a5a3" stroke-width="1.6"/><circle cx="931.5" cy="187.4" r="23.5" fill="none" stroke="#efeeeb" stroke-width="1.8"/><circle cx="1103.0" cy="124.2" r="25.5" fill="#fff" stroke="#a6a5a3" stroke-width="1.6"/><circle cx="1103.0" cy="124.2" r="23.5" fill="none" stroke="#efeeeb" stroke-width="1.8"/><circle cx="1087.6" cy="131.4" r="25.5" fill="#fff" stroke="#a6a5a3" stroke-width="1.6"/><circle cx="1087.6" cy="131.4" r="23.5" fill="none" stroke="#efeeeb" stroke-width="1.8"/><circle cx="1072.2" cy="138.6" r="25.5" fill="#fff" stroke="#a6a5a3" stroke-width="1.6"/><circle cx="1072.2" cy="138.6" r="23.5" fill="none" stroke="#efeeeb" stroke-width="1.8"/><circle cx="1056.8" cy="145.8" r="25.5" fill="#fff" stroke="#a6a5a3" stroke-width="1.6"/><circle cx="1056.8" cy="145.8" r="23.5" fill="none" stroke="#efeeeb" stroke-width="1.8"/><circle cx="1041.4" cy="153.0" r="25.5" fill="#fff" stroke="#a6a5a3" stroke-width="1.6"/><circle cx="1041.4" cy="153.0" r="23.5" fill="none" stroke="#efeeeb" stroke-width="1.8"/><circle cx="1026.0" cy="160.2" r="25.5" fill="#fff" stroke="#a6a5a3" stroke-width="1.6"/><circle cx="1026.0" cy="160.2" r="23.5" fill="none" stroke="#efeeeb" stroke-width="1.8"/><circle cx="1010.6" cy="167.4" r="25.5" fill="#fff" stroke="#a6a5a3" stroke-width="1.6"/><circle cx="1010.6" cy="167.4" r="23.5" fill="none" stroke="#efeeeb" stroke-width="1.8"/><circle cx="995.2" cy="174.6" r="25.5" fill="#fff" stroke="#a6a5a3" stroke-width="1.6"/><circle cx="995.2" cy="174.6" r="23.5" fill="none" stroke="#efeeeb" stroke-width="1.8"/><circle cx="979.8" cy="181.8" r="25.5" fill="#fff" stroke="#a6a5a3" stroke-width="1.6"/><circle cx="979.8" cy="181.8" r="23.5" fill="none" stroke="#efeeeb" stroke-width="1.8"/><circle cx="964.4" cy="189.0" r="25.5" fill="#fff" stroke="#a6a5a3" stroke-width="1.6"/><circle cx="964.4" cy="189.0" r="23.5" fill="none" stroke="#efeeeb" stroke-width="1.8"/><circle cx="949.0" cy="196.2" r="25.5" fill="#fff" stroke="#a6a5a3" stroke-width="1.6"/><circle cx="949.0" cy="196.2" r="23.5" fill="none" stroke="#efeeeb" stroke-width="1.8"/><circle cx="933.6" cy="203.4" r="25.5" fill="#fff" stroke="#a6a5a3" stroke-width="1.6"/><circle cx="933.6" cy="203.4" r="23.5" fill="none" stroke="#efeeeb" stroke-width="1.8"/><circle cx="1125.4" cy="156.3" r="25.5" fill="#fff" stroke="#a6a5a3" stroke-width="1.6"/><circle cx="1125.4" cy="156.3" r="23.5" fill="none" stroke="#efeeeb" stroke-width="1.8"/><circle cx="1110.0" cy="163.5" r="25.5" fill="#fff" stroke="#a6a5a3" stroke-width="1.6"/><circle cx="1110.0" cy="163.5" r="23.5" fill="none" stroke="#efeeeb" stroke-width="1.8"/><circle cx="1094.6" cy="170.7" r="25.5" fill="#fff" stroke="#a6a5a3" stroke-width="1.6"/><circle cx="1094.6" cy="170.7" r="23.5" fill="none" stroke="#efeeeb" stroke-width="1.8"/><circle cx="1079.2" cy="177.9" r="25.5" fill="#fff" stroke="#a6a5a3" stroke-width="1.6"/><circle cx="1079.2" cy="177.9" r="23.5" fill="none" stroke="#efeeeb" stroke-width="1.8"/><circle cx="1063.8" cy="185.1" r="25.5" fill="#fff" stroke="#a6a5a3" stroke-width="1.6"/><circle cx="1063.8" cy="185.1" r="23.5" fill="none" stroke="#efeeeb" stroke-width="1.8"/><circle cx="1048.4" cy="192.3" r="25.5" fill="#fff" stroke="#a6a5a3" stroke-width="1.6"/><circle cx="1048.4" cy="192.3" r="23.5" fill="none" stroke="#efeeeb" stroke-width="1.8"/><circle cx="1033.0" cy="199.5" r="25.5" fill="#fff" stroke="#a6a5a3" stroke-width="1.6"/><circle cx="1033.0" cy="199.5" r="23.5" fill="none" stroke="#efeeeb" stroke-width="1.8"/><circle cx="1017.6" cy="206.7" r="25.5" fill="#fff" stroke="#a6a5a3" stroke-width="1.6"/><circle cx="1017.6" cy="206.7" r="23.5" fill="none" stroke="#efeeeb" stroke-width="1.8"/></g></g><circle cx="1035.2" cy="70.2" r="7.8" fill="#fff" stroke="#e9b3b7" stroke-width="1.1"/><circle cx="1023.0" cy="92.7" r="7.7" fill="#fff" stroke="#e9b3b7" stroke-width="1.1"/><circle cx="1024.0" cy="75.5" r="12.9" fill="url(#oxy)"/><circle cx="1068.7" cy="55.2" r="7.3" fill="#fff" stroke="#e9b3b7" stroke-width="1.1"/><circle cx="1060.4" cy="76.2" r="7.3" fill="#fff" stroke="#e9b3b7" stroke-width="1.1"/><circle cx="1059.5" cy="61.2" r="11.6" fill="url(#oxy)"/>
<g fill="none" stroke-width="5.2" stroke-linejoin="round" stroke-linecap="butt">
<path d="M967.0,459.4 L968.3,459.4 L1139.9,459.4 L1140.6,459.3 L1141.4,459.2 L1142.1,459.0 L1142.9,458.7 L1143.6,458.2 L1144.4,457.2 L1145.1,455.8 L1145.8,454.1 L1146.6,451.9 L1147.3,448.5 L1148.1,444.1 L1148.8,438.7 L1149.6,432.3 L1150.3,423.2 L1151.1,412.1 L1151.8,400.1 L1152.6,387.3 L1153.3,373.3 L1154.1,358.2 L1154.8,342.2 L1155.5,325.5 L1156.3,307.0 L1157.0,286.6 L1157.8,265.6 L1158.5,245.3 L1159.3,227.0 L1160.0,209.8 L1160.8,193.2 L1161.5,177.4 L1162.3,162.5 L1163.0,148.7 L1163.8,135.7 L1164.5,123.5 L1165.2,111.8 L1166.0,99.6 L1166.7,87.9 L1167.5,77.9 L1168.2,70.6 L1169.0,64.5 L1169.7,59.0 L1170.5,55.1 L1171.2,53.6 L1172.0,54.4 L1172.7,56.5 L1173.4,59.8 L1174.2,64.0 L1174.9,68.9 L1175.7,74.2 L1176.4,79.7 L1177.2,85.1 L1177.9,91.3 L1178.7,98.8 L1179.4,107.3 L1180.2,116.4 L1180.9,125.8 L1181.7,135.3 L1182.4,144.4 L1183.1,152.8 L1183.9,160.9 L1184.6,169.1 L1185.4,177.3 L1186.1,185.4 L1186.9,193.3 L1187.6,200.9 L1188.4,208.0 L1189.1,214.6 L1189.9,220.5 L1190.6,225.9 L1191.4,231.0 L1192.1,235.8 L1192.8,240.4 L1193.6,244.8 L1194.3,249.0 L1195.1,253.0 L1195.8,256.9 L1196.6,260.6 L1197.3,264.3 L1198.1,267.9 L1198.8,271.5 L1199.6,275.0 L1200.3,278.4 L1201.1,281.6 L1201.8,284.8 L1202.5,287.9 L1203.3,290.8 L1204.0,293.5 L1204.8,296.1 L1205.5,298.5 L1206.3,300.8 L1207.0,303.1 L1207.8,305.3 L1208.5,307.4 L1209.3,309.5 L1210.0,311.6 L1210.7,313.6 L1211.5,315.6 L1212.2,317.5 L1213.0,319.4 L1213.7,321.2 L1214.5,323.0 L1215.2,324.7 L1216.0,326.5 L1216.7,328.1 L1217.5,329.7 L1218.2,331.3 L1219.0,332.9 L1219.7,334.4 L1220.4,335.9 L1221.2,337.3 L1221.9,338.8 L1222.7,340.1 L1223.4,341.5 L1224.2,342.8 L1224.9,344.1 L1225.7,345.4 L1226.4,346.6 L1227.2,347.8 L1227.9,349.0 L1228.7,350.2 L1229.4,351.4 L1230.1,352.6 L1230.9,353.7 L1231.6,354.8 L1232.4,355.9 L1233.1,357.0 L1233.9,358.1 L1234.6,359.2 L1235.4,360.2 L1236.1,361.3 L1236.9,362.3 L1237.6,363.3 L1238.4,364.3 L1239.1,365.3 L1239.8,366.3 L1240.6,367.2 L1241.3,368.2 L1242.1,369.1 L1242.8,370.0 L1243.6,370.9 L1244.3,371.8 L1245.1,372.6 L1245.8,373.5 L1246.6,374.3 L1247.3,375.1 L1248.0,375.9 L1248.8,376.7 L1249.5,377.5 L1250.3,378.2 L1251.0,379.0 L1251.8,379.7 L1252.5,380.4 L1253.3,381.1 L1254.0,381.8 L1254.8,382.5 L1255.5,383.1 L1256.3,383.8 L1257.0,384.4 L1257.7,385.0 L1258.5,385.6 L1259.2,386.2 L1260.0,386.8 L1260.7,387.4 L1261.5,387.9 L1262.2,388.5 L1263.0,389.0 L1263.7,389.6 L1264.5,390.1 L1265.2,390.6 L1266.0,391.1 L1266.7,391.6 L1267.4,392.1 L1268.2,392.6 L1268.9,393.1 L1269.7,393.6 L1270.4,394.1 L1271.2,394.5 L1271.9,395.0 L1272.7,395.4 L1273.4,395.9 L1274.2,396.3 L1274.9,396.8 L1275.7,397.2 L1276.4,397.6 L1277.1,398.0 L1277.9,398.5 L1278.6,398.9 L1279.4,399.3 L1280.1,399.7 L1280.9,400.1 L1281.6,400.5 L1282.4,400.9 L1283.1,401.3 L1283.9,401.6 L1284.6,402.0 L1285.3,402.4 L1286.1,402.8 L1286.8,403.1 L1287.6,403.5 L1288.3,403.9 L1289.1,404.2 L1289.8,404.6 L1290.6,405.0 L1291.3,405.3 L1292.1,405.7 L1292.8,406.0 L1293.6,406.4 L1294.3,406.7 L1295.0,407.1 L1295.8,407.4 L1296.5,407.7 L1297.3,408.1 L1298.0,408.4 L1298.8,408.7 L1299.5,409.1 L1300.3,409.4 L1301.0,409.7 L1301.8,410.0 L1302.5,410.4 L1303.3,410.7 L1304.0,411.0 L1304.7,411.3 L1305.5,411.6 L1306.2,411.9 L1307.0,412.2 L1307.7,412.5 L1308.5,412.8 L1309.2,413.1 L1310.0,413.4 L1310.7,413.6 L1311.5,413.9 L1312.2,414.2 L1313.0,414.5 L1313.7,414.8 L1314.4,415.0 L1315.2,415.3 L1315.9,415.6 L1316.7,415.8 L1317.4,416.1 L1318.2,416.4 L1318.9,416.6 L1319.7,416.9 L1320.4,417.1 L1321.2,417.4 L1321.9,417.6 L1322.6,417.9 L1323.4,418.1 L1324.1,418.4 L1324.9,418.6 L1325.6,418.9 L1326.4,419.1 L1327.1,419.3 L1327.9,419.6 L1328.6,419.8 L1329.4,420.1 L1330.1,420.3 L1330.9,420.5 L1331.6,420.7 L1332.3,421.0 L1333.1,421.2 L1333.8,421.4 L1334.6,421.6 L1335.3,421.8 L1336.1,422.0 L1336.8,422.1 L1337.6,422.3 L1338.3,422.5 L1339.1,422.7 L1339.8,422.8 L1340.6,423.0 L1341.3,423.1 L1342.0,423.2 L1342.8,423.4 L1343.5,423.5 L1344.3,423.6 L1345.0,423.7 L1345.8,423.8 L1346.5,423.9 L1347.3,424.0 L1348.0,424.1 L1348.8,424.2 L1349.5,424.3 L1350.3,424.4 L1351.0,424.4 L1351.7,424.5 L1352.5,424.5 L1353.2,424.6 L1354.0,424.6 L1354.7,424.6 L1355.5,424.6 L1356.2,424.5 L1357.0,424.5 L1357.7,424.4 L1358.5,424.3 L1359.2,424.2 L1359.9,424.0 L1360.7,423.8 L1361.4,423.6 L1362.2,423.4 L1362.9,423.1 L1363.7,422.9 L1364.4,422.6 L1365.2,422.3 L1365.9,422.0 L1366.7,421.6 L1367.4,421.3 L1368.2,420.9 L1368.9,420.6 L1369.6,420.2 L1370.4,419.8 L1371.1,419.4 L1371.9,419.0 L1372.6,418.6 L1373.4,418.2 L1374.1,417.7 L1374.9,417.3 L1375.6,416.8 L1376.4,416.3 L1377.1,415.8 L1377.9,415.3 L1378.6,414.8 L1379.3,414.3 L1380.1,413.7 L1380.8,413.2 L1381.6,412.6 L1382.3,412.1 L1383.1,411.5 L1383.8,411.0 L1384.6,410.4 L1385.3,409.9 L1386.1,409.3 L1386.8,408.8 L1387.6,408.2 L1388.3,407.7 L1389.0,407.2 L1389.8,406.7 L1390.5,406.1 L1391.3,405.6 L1392.0,405.1 L1392.8,404.6 L1393.5,404.1 L1394.3,403.6 L1395.0,403.1 L1395.8,402.6 L1396.5,402.1 L1397.2,401.6 L1398.0,401.1 L1398.7,400.6 L1399.5,400.1 L1400.2,399.6 L1401.0,399.1 L1401.7,398.6 L1402.5,398.1 L1403.2,397.6 L1404.0,397.1 L1404.7,396.6 L1405.5,396.1 L1406.2,395.6 L1406.9,395.1 L1407.7,394.6 L1408.4,394.1 L1409.2,393.6 L1409.9,393.1 L1410.7,392.6 L1411.4,392.1 L1412.2,391.6 L1412.9,391.2 L1413.7,390.7 L1414.4,390.2 L1415.2,389.7 L1415.9,389.2 L1416.6,388.7 L1417.4,388.2 L1418.1,387.8 L1418.9,387.3 L1419.6,386.8 L1420.4,386.3 L1421.1,385.8 L1421.9,385.3 L1422.6,384.8 L1423.4,384.4 L1424.1,383.9 L1424.9,383.4 L1425.6,382.9 L1426.3,382.4 L1427.1,381.9 L1427.8,381.4 L1428.6,380.9 L1429.3,380.4 L1430.1,379.9 L1430.8,379.4 L1431.6,378.9 L1432.3,378.4 L1433.1,377.9 L1433.8,377.4 L1434.5,377.0 L1435.3,376.5 L1436.0,376.0 L1436.8,375.5 L1437.5,375.0 L1438.3,374.5 L1439.0,374.1 L1439.8,373.6 L1440.5,373.1 L1441.3,372.6 L1442.0,372.2 L1442.8,371.7 L1443.5,371.3 L1444.2,370.8 L1445.0,370.4 L1445.7,369.9 L1446.5,369.5 L1447.2,369.1 L1448.0,368.7 L1448.7,368.2 L1449.5,367.8 L1450.2,367.4 L1451.0,367.0 L1451.7,366.6 L1452.5,366.2 L1453.2,365.9 L1453.9,365.5 L1454.7,365.1 L1455.4,364.8 L1456.2,364.4 L1456.9,364.0 L1457.7,363.7 L1458.4,363.3 L1459.2,363.0 L1459.9,362.6 L1460.7,362.3 L1461.4,361.9 L1462.2,361.6 L1462.9,361.3 L1463.6,360.9 L1464.4,360.6 L1465.1,360.3 L1465.9,360.0 L1466.6,359.7 L1467.4,359.4 L1468.1,359.1 L1468.9,358.9 L1469.6,358.6 L1470.4,358.3 L1471.1,358.1 L1471.8,357.8 L1472.6,357.6 L1473.3,357.4 L1474.1,357.2 L1474.8,357.0 L1475.6,356.8 L1476.3,356.6 L1477.1,356.4 L1477.8,356.2 L1478.6,356.0 L1479.3,355.8 L1480.1,355.7 L1480.8,355.5 L1481.5,355.4 L1482.3,355.3 L1483.0,355.1 L1483.8,355.0 L1484.5,354.9 L1485.3,354.8 L1486.0,354.8 L1486.8,354.7 L1487.5,354.7 L1488.3,354.7 L1489.0,354.7 L1489.8,354.7 L1490.5,354.8 L1491.2,354.8 L1492.0,354.9 L1492.7,355.0 L1493.5,355.1 L1494.2,355.2 L1495.0,355.3 L1495.7,355.4 L1496.5,355.6 L1497.2,355.7 L1498.0,355.9 L1498.7,356.0 L1499.5,356.2 L1500.2,356.4 L1500.9,356.6 L1501.7,356.8 L1502.4,357.0 L1503.2,357.2 L1503.9,357.4 L1504.7,357.6 L1505.4,357.8 L1506.2,358.1 L1506.9,358.3 L1507.7,358.6 L1508.4,358.8 L1509.1,359.1 L1509.9,359.4 L1510.6,359.7 L1511.4,359.9 L1512.1,360.2 L1512.9,360.5 L1513.6,360.9 L1514.4,361.2 L1515.1,361.5 L1515.9,361.8 L1516.6,362.1 L1517.4,362.4 L1518.1,362.8 L1518.8,363.1 L1519.6,363.4 L1520.3,363.8 L1521.1,364.1 L1521.8,364.5 L1522.6,364.8 L1523.3,365.2 L1524.1,365.6 L1524.8,365.9 L1525.6,366.3 L1526.3,366.7 L1527.1,367.1 L1527.8,367.5 L1528.5,367.9 L1529.3,368.3 L1530.0,368.7 L1530.8,369.1 L1531.5,369.5 L1532.3,369.9 L1533.0,370.3 L1533.8,370.7 L1534.5,371.1 L1535.3,371.5 L1536.0,371.9 L1536.8,372.2 L1537.5,372.6 L1538.2,373.0 L1539.0,373.4 L1539.7,373.7 L1540.5,374.1 L1541.2,374.5 L1542.0,374.8 L1542.7,375.2 L1543.5,375.5 L1544.2,375.9 L1545.0,376.2 L1545.7,376.5 L1546.4,376.8 L1547.2,377.2 L1547.9,377.5 L1548.7,377.8 L1549.4,378.1 L1550.2,378.4 L1550.9,378.8 L1551.7,379.1 L1552.4,379.4 L1553.2,379.7 L1553.9,380.0 L1554.7,380.3 L1555.4,380.6 L1556.1,380.9 L1556.9,381.2 L1557.6,381.4 L1558.4,381.7 L1559.1,382.0 L1559.9,382.3 L1560.6,382.6 L1561.4,382.9 L1562.1,383.1 L1562.9,383.4 L1563.6,383.7 L1564.4,383.9 L1565.1,384.2 L1566.0,384.2" stroke="#1f77b4"/>
<path d="M967.0,459.4 L968.3,459.4 L1142.1,459.4 L1142.9,459.4 L1143.6,459.4 L1144.4,459.4 L1145.1,459.4 L1145.8,459.3 L1146.6,459.3 L1147.3,459.2 L1148.1,459.1 L1148.8,459.0 L1149.6,458.8 L1150.3,458.6 L1151.1,458.3 L1151.8,458.0 L1152.6,457.5 L1153.3,457.1 L1154.1,456.5 L1154.8,456.0 L1155.5,455.4 L1156.3,454.7 L1157.0,454.0 L1157.8,453.2 L1158.5,452.5 L1159.3,451.8 L1160.0,451.2 L1160.8,450.6 L1161.5,450.0 L1162.3,449.5 L1163.0,449.0 L1163.8,448.6 L1164.5,448.1 L1165.2,447.7 L1166.0,447.3 L1166.7,446.9 L1167.5,446.7 L1168.2,446.5 L1169.0,446.3 L1169.7,446.3 L1170.5,446.3 L1171.2,446.4 L1172.0,446.5 L1172.7,446.7 L1173.4,447.0 L1174.2,447.2 L1174.9,447.5 L1175.7,447.8 L1176.4,448.1 L1177.2,448.5 L1177.9,448.8 L1178.7,449.1 L1179.4,449.4 L1180.2,449.6 L1180.9,449.8 L1181.7,450.1 L1182.4,450.3 L1183.1,450.5 L1183.9,450.7 L1184.6,450.9 L1185.4,451.1 L1186.1,451.3 L1186.9,451.5 L1187.6,451.7 L1188.4,451.9 L1189.1,452.1 L1189.9,452.2 L1190.6,452.4 L1191.4,452.5 L1192.1,452.6 L1192.8,452.7 L1193.6,452.9 L1194.3,453.0 L1195.1,453.1 L1195.8,453.2 L1196.6,453.3 L1197.3,453.4 L1198.1,453.5 L1198.8,453.6 L1199.6,453.7 L1200.3,453.7 L1201.1,453.8 L1201.8,453.9 L1202.5,454.0 L1203.3,454.0 L1204.0,454.1 L1204.8,454.1 L1205.5,454.2 L1206.3,454.2 L1207.0,454.2 L1207.8,454.2 L1208.5,454.3 L1209.3,454.3 L1210.0,454.3 L1210.7,454.3 L1211.5,454.3 L1212.2,454.3 L1213.0,454.3 L1213.7,454.4 L1214.5,454.4 L1215.2,454.4 L1216.0,454.4 L1216.7,454.4 L1217.5,454.4 L1218.2,454.4 L1219.0,454.4 L1219.7,454.4 L1220.4,454.5 L1221.2,454.5 L1221.9,454.5 L1222.7,454.5 L1223.4,454.5 L1224.2,454.5 L1224.9,454.5 L1225.7,454.5 L1226.4,454.5 L1227.2,454.5 L1227.9,454.5 L1228.7,454.5 L1229.4,454.5 L1230.1,454.5 L1230.9,454.6 L1231.6,454.6 L1232.4,454.6 L1233.1,454.6 L1233.9,454.6 L1234.6,454.6 L1235.4,454.6 L1236.1,454.6 L1236.9,454.6 L1237.6,454.6 L1238.4,454.6 L1239.1,454.7 L1239.8,454.7 L1240.6,454.7 L1241.3,454.7 L1242.1,454.7 L1242.8,454.7 L1243.6,454.7 L1244.3,454.7 L1245.1,454.7 L1245.8,454.7 L1246.6,454.8 L1247.3,454.8 L1248.0,454.8 L1248.8,454.8 L1249.5,454.8 L1250.3,454.8 L1251.0,454.8 L1251.8,454.8 L1252.5,454.8 L1253.3,454.8 L1254.0,454.9 L1254.8,454.9 L1255.5,454.9 L1256.3,454.9 L1257.0,454.9 L1257.7,454.9 L1258.5,454.9 L1259.2,454.9 L1260.0,454.9 L1260.7,454.9 L1261.5,455.0 L1262.2,455.0 L1263.0,455.0 L1263.7,455.0 L1264.5,455.0 L1265.2,455.0 L1266.0,455.0 L1266.7,455.0 L1267.4,455.0 L1268.2,455.0 L1268.9,455.1 L1269.7,455.1 L1270.4,455.1 L1271.2,455.1 L1271.9,455.1 L1272.7,455.1 L1273.4,455.1 L1274.2,455.1 L1274.9,455.1 L1275.7,455.1 L1276.4,455.2 L1277.1,455.2 L1277.9,455.2 L1278.6,455.2 L1279.4,455.2 L1280.1,455.2 L1280.9,455.2 L1281.6,455.2 L1282.4,455.2 L1283.1,455.3 L1283.9,455.3 L1284.6,455.3 L1285.3,455.3 L1286.1,455.3 L1286.8,455.3 L1287.6,455.3 L1288.3,455.3 L1289.1,455.3 L1289.8,455.4 L1290.6,455.4 L1291.3,455.4 L1292.1,455.4 L1292.8,455.4 L1293.6,455.4 L1294.3,455.4 L1295.0,455.4 L1295.8,455.4 L1296.5,455.5 L1297.3,455.5 L1298.0,455.5 L1298.8,455.5 L1299.5,455.5 L1300.3,455.5 L1301.0,455.5 L1301.8,455.5 L1302.5,455.6 L1303.3,455.6 L1304.0,455.6 L1304.7,455.6 L1305.5,455.6 L1306.2,455.6 L1307.0,455.6 L1307.7,455.6 L1308.5,455.7 L1309.2,455.7 L1310.0,455.7 L1310.7,455.7 L1311.5,455.7 L1312.2,455.7 L1313.0,455.8 L1313.7,455.8 L1314.4,455.8 L1315.2,455.8 L1315.9,455.8 L1316.7,455.8 L1317.4,455.9 L1318.2,455.9 L1318.9,455.9 L1319.7,455.9 L1320.4,455.9 L1321.2,455.9 L1321.9,456.0 L1322.6,456.0 L1323.4,456.0 L1324.1,456.0 L1324.9,456.0 L1325.6,456.0 L1326.4,456.1 L1327.1,456.1 L1327.9,456.1 L1328.6,456.1 L1329.4,456.1 L1330.1,456.2 L1330.9,456.2 L1331.6,456.2 L1332.3,456.2 L1333.1,456.2 L1333.8,456.3 L1334.6,456.3 L1335.3,456.3 L1336.1,456.3 L1336.8,456.3 L1337.6,456.3 L1338.3,456.4 L1339.1,456.4 L1339.8,456.4 L1340.6,456.4 L1341.3,456.4 L1342.0,456.5 L1342.8,456.5 L1343.5,456.5 L1344.3,456.5 L1345.0,456.5 L1345.8,456.6 L1346.5,456.6 L1347.3,456.6 L1348.0,456.6 L1348.8,456.6 L1349.5,456.6 L1350.3,456.7 L1351.0,456.7 L1351.7,456.7 L1352.5,456.7 L1353.2,456.7 L1354.0,456.7 L1354.7,456.8 L1355.5,456.8 L1356.2,456.8 L1357.0,456.8 L1357.7,456.8 L1358.5,456.8 L1359.2,456.9 L1359.9,456.9 L1360.7,456.9 L1361.4,456.9 L1362.2,456.9 L1362.9,456.9 L1363.7,456.9 L1364.4,457.0 L1365.2,457.0 L1365.9,457.0 L1366.7,457.0 L1367.4,457.0 L1368.2,457.0 L1368.9,457.0 L1369.6,457.1 L1370.4,457.1 L1371.1,457.1 L1371.9,457.1 L1372.6,457.1 L1373.4,457.1 L1374.1,457.1 L1374.9,457.1 L1375.6,457.1 L1376.4,457.1 L1377.1,457.2 L1377.9,457.2 L1378.6,457.2 L1379.3,457.2 L1380.1,457.2 L1380.8,457.2 L1381.6,457.2 L1382.3,457.2 L1383.1,457.2 L1383.8,457.2 L1384.6,457.2 L1385.3,457.2 L1386.1,457.2 L1386.8,457.2 L1387.6,457.3 L1388.3,457.3 L1389.0,457.3 L1389.8,457.3 L1390.5,457.3 L1391.3,457.3 L1392.0,457.3 L1392.8,457.3 L1393.5,457.3 L1394.3,457.3 L1395.0,457.3 L1395.8,457.3 L1396.5,457.3 L1397.2,457.3 L1398.0,457.3 L1398.7,457.3 L1399.5,457.3 L1400.2,457.3 L1401.0,457.3 L1401.7,457.4 L1402.5,457.4 L1403.2,457.4 L1404.0,457.4 L1404.7,457.4 L1405.5,457.4 L1406.2,457.4 L1406.9,457.4 L1407.7,457.4 L1408.4,457.4 L1409.2,457.4 L1409.9,457.4 L1410.7,457.4 L1411.4,457.4 L1412.2,457.4 L1412.9,457.4 L1413.7,457.4 L1414.4,457.4 L1415.2,457.4 L1415.9,457.4 L1416.6,457.4 L1417.4,457.4 L1418.1,457.5 L1418.9,457.5 L1419.6,457.5 L1420.4,457.5 L1421.1,457.5 L1421.9,457.5 L1422.6,457.5 L1423.4,457.5 L1424.1,457.5 L1424.9,457.5 L1425.6,457.5 L1426.3,457.5 L1427.1,457.5 L1427.8,457.5 L1428.6,457.5 L1429.3,457.5 L1430.1,457.5 L1430.8,457.5 L1431.6,457.5 L1432.3,457.5 L1433.1,457.5 L1433.8,457.5 L1434.5,457.5 L1435.3,457.5 L1436.0,457.5 L1436.8,457.5 L1437.5,457.6 L1438.3,457.6 L1439.0,457.6 L1439.8,457.6 L1440.5,457.6 L1441.3,457.6 L1442.0,457.6 L1442.8,457.6 L1443.5,457.6 L1444.2,457.6 L1445.0,457.6 L1445.7,457.6 L1446.5,457.6 L1447.2,457.6 L1448.0,457.6 L1448.7,457.6 L1449.5,457.6 L1450.2,457.6 L1451.0,457.6 L1451.7,457.6 L1452.5,457.6 L1453.2,457.6 L1453.9,457.7 L1454.7,457.7 L1455.4,457.7 L1456.2,457.7 L1456.9,457.7 L1457.7,457.7 L1458.4,457.7 L1459.2,457.7 L1459.9,457.7 L1460.7,457.7 L1461.4,457.7 L1462.2,457.7 L1462.9,457.7 L1463.6,457.7 L1464.4,457.7 L1465.1,457.7 L1465.9,457.7 L1466.6,457.7 L1467.4,457.7 L1468.1,457.7 L1468.9,457.8 L1469.6,457.8 L1470.4,457.8 L1471.1,457.8 L1471.8,457.8 L1472.6,457.8 L1473.3,457.8 L1474.1,457.8 L1474.8,457.8 L1475.6,457.8 L1476.3,457.8 L1477.1,457.8 L1477.8,457.8 L1478.6,457.8 L1479.3,457.8 L1480.1,457.8 L1480.8,457.8 L1481.5,457.8 L1482.3,457.8 L1483.0,457.9 L1483.8,457.9 L1484.5,457.9 L1485.3,457.9 L1486.0,457.9 L1486.8,457.9 L1487.5,457.9 L1488.3,457.9 L1489.0,457.9 L1489.8,457.9 L1490.5,457.9 L1491.2,457.9 L1492.0,457.9 L1492.7,457.9 L1493.5,457.9 L1494.2,457.9 L1495.0,457.9 L1495.7,457.9 L1496.5,457.9 L1497.2,458.0 L1498.0,458.0 L1498.7,458.0 L1499.5,458.0 L1500.2,458.0 L1500.9,458.0 L1501.7,458.0 L1502.4,458.0 L1503.2,458.0 L1503.9,458.0 L1504.7,458.0 L1505.4,458.0 L1506.2,458.0 L1506.9,458.0 L1507.7,458.0 L1508.4,458.0 L1509.1,458.0 L1509.9,458.0 L1510.6,458.0 L1511.4,458.1 L1512.1,458.1 L1512.9,458.1 L1513.6,458.1 L1514.4,458.1 L1515.1,458.1 L1515.9,458.1 L1516.6,458.1 L1517.4,458.1 L1518.1,458.1 L1518.8,458.1 L1519.6,458.1 L1520.3,458.1 L1521.1,458.1 L1521.8,458.1 L1522.6,458.1 L1523.3,458.1 L1524.1,458.1 L1524.8,458.1 L1525.6,458.2 L1526.3,458.2 L1527.1,458.2 L1527.8,458.2 L1528.5,458.2 L1529.3,458.2 L1530.0,458.2 L1530.8,458.2 L1531.5,458.2 L1532.3,458.2 L1533.0,458.2 L1533.8,458.2 L1534.5,458.2 L1535.3,458.2 L1536.0,458.2 L1536.8,458.2 L1537.5,458.2 L1538.2,458.2 L1539.0,458.3 L1539.7,458.3 L1540.5,458.3 L1541.2,458.3 L1542.0,458.3 L1542.7,458.3 L1543.5,458.3 L1544.2,458.3 L1545.0,458.3 L1545.7,458.3 L1546.4,458.3 L1547.2,458.3 L1547.9,458.3 L1548.7,458.3 L1549.4,458.3 L1550.2,458.3 L1550.9,458.3 L1551.7,458.3 L1552.4,458.3 L1553.2,458.4 L1553.9,458.4 L1554.7,458.4 L1555.4,458.4 L1556.1,458.4 L1556.9,458.4 L1557.6,458.4 L1558.4,458.4 L1559.1,458.4 L1559.9,458.4 L1560.6,458.4 L1561.4,458.4 L1562.1,458.4 L1562.9,458.4 L1563.6,458.4 L1564.4,458.4 L1565.1,458.4 L1566.0,458.4" stroke="#ff7f0e"/>
<path d="M967.0,459.4 L968.3,459.4 L1141.4,459.4 L1142.1,459.4 L1142.9,459.3 L1143.6,459.1 L1144.4,458.9 L1145.1,458.5 L1145.8,457.7 L1146.6,456.8 L1147.3,455.5 L1148.1,453.6 L1148.8,450.9 L1149.6,447.6 L1150.3,443.5 L1151.1,437.5 L1151.8,430.5 L1152.6,423.1 L1153.3,414.9 L1154.1,406.0 L1154.8,396.4 L1155.5,386.3 L1156.3,375.1 L1157.0,362.7 L1157.8,350.1 L1158.5,338.3 L1159.3,327.6 L1160.0,317.5 L1160.8,307.8 L1161.5,298.7 L1162.3,290.3 L1163.0,282.5 L1163.8,275.2 L1164.5,268.0 L1165.2,260.7 L1166.0,254.0 L1166.7,248.8 L1167.5,245.0 L1168.2,241.5 L1169.0,239.0 L1169.7,238.0 L1170.5,238.6 L1171.2,240.2 L1172.0,242.8 L1172.7,246.0 L1173.4,249.8 L1174.2,254.1 L1174.9,258.6 L1175.7,263.3 L1176.4,267.9 L1177.2,272.3 L1177.9,276.8 L1178.7,282.0 L1179.4,287.6 L1180.2,293.5 L1180.9,299.6 L1181.7,305.8 L1182.4,311.8 L1183.1,317.6 L1183.9,323.1 L1184.6,328.0 L1185.4,332.6 L1186.1,337.1 L1186.9,341.5 L1187.6,345.8 L1188.4,349.9 L1189.1,353.9 L1189.9,357.7 L1190.6,361.3 L1191.4,364.7 L1192.1,367.8 L1192.8,370.9 L1193.6,373.9 L1194.3,376.9 L1195.1,379.9 L1195.8,382.7 L1196.6,385.4 L1197.3,387.9 L1198.1,390.3 L1198.8,392.4 L1199.6,394.3 L1200.3,396.0 L1201.1,397.3 L1201.8,398.4 L1202.5,399.5 L1203.3,400.4 L1204.0,401.4 L1204.8,402.2 L1205.5,403.0 L1206.3,403.7 L1207.0,404.4 L1207.8,405.1 L1208.5,405.7 L1209.3,406.3 L1210.0,406.9 L1210.7,407.4 L1211.5,407.9 L1212.2,408.4 L1213.0,408.9 L1213.7,409.4 L1214.5,409.8 L1215.2,410.3 L1216.0,410.7 L1216.7,411.2 L1217.5,411.6 L1218.2,412.0 L1219.0,412.3 L1219.7,412.7 L1220.4,413.0 L1221.2,413.4 L1221.9,413.7 L1222.7,414.0 L1223.4,414.2 L1224.2,414.5 L1224.9,414.7 L1225.7,415.0 L1226.4,415.2 L1227.2,415.4 L1227.9,415.6 L1228.7,415.8 L1229.4,416.0 L1230.1,416.2 L1230.9,416.4 L1231.6,416.5 L1232.4,416.7 L1233.1,416.9 L1233.9,417.1 L1234.6,417.2 L1235.4,417.4 L1236.1,417.6 L1236.9,417.7 L1237.6,417.9 L1238.4,418.0 L1239.1,418.2 L1239.8,418.3 L1240.6,418.5 L1241.3,418.6 L1242.1,418.7 L1242.8,418.9 L1243.6,419.0 L1244.3,419.1 L1245.1,419.2 L1245.8,419.3 L1246.6,419.4 L1247.3,419.5 L1248.0,419.6 L1248.8,419.7 L1249.5,419.8 L1250.3,419.8 L1251.0,419.9 L1251.8,419.9 L1252.5,420.0 L1253.3,420.0 L1254.0,420.1 L1254.8,420.1 L1255.5,420.1 L1256.3,420.1 L1257.0,420.2 L1257.7,420.2 L1258.5,420.2 L1259.2,420.2 L1260.0,420.1 L1260.7,420.1 L1261.5,420.1 L1262.2,420.1 L1263.0,420.1 L1263.7,420.0 L1264.5,420.0 L1265.2,420.0 L1266.0,420.0 L1266.7,419.9 L1267.4,419.9 L1268.2,419.8 L1268.9,419.8 L1269.7,419.8 L1270.4,419.7 L1271.2,419.7 L1271.9,419.6 L1272.7,419.6 L1273.4,419.5 L1274.2,419.5 L1274.9,419.4 L1275.7,419.4 L1276.4,419.3 L1277.1,419.3 L1277.9,419.2 L1278.6,419.2 L1279.4,419.1 L1280.1,419.1 L1280.9,419.0 L1281.6,419.0 L1282.4,418.9 L1283.1,418.9 L1283.9,418.9 L1284.6,418.8 L1285.3,418.8 L1286.1,418.7 L1286.8,418.7 L1287.6,418.7 L1288.3,418.6 L1289.1,418.6 L1289.8,418.6 L1290.6,418.5 L1291.3,418.5 L1292.1,418.5 L1292.8,418.5 L1293.6,418.5 L1294.3,418.5 L1295.0,418.5 L1295.8,418.5 L1296.5,418.5 L1297.3,418.5 L1298.0,418.5 L1298.8,418.5 L1299.5,418.6 L1300.3,418.6 L1301.0,418.7 L1301.8,418.7 L1302.5,418.8 L1303.3,418.9 L1304.0,418.9 L1304.7,419.0 L1305.5,419.1 L1306.2,419.2 L1307.0,419.3 L1307.7,419.4 L1308.5,419.5 L1309.2,419.7 L1310.0,419.8 L1310.7,419.9 L1311.5,420.0 L1312.2,420.2 L1313.0,420.3 L1313.7,420.4 L1314.4,420.6 L1315.2,420.7 L1315.9,420.9 L1316.7,421.0 L1317.4,421.1 L1318.2,421.3 L1318.9,421.4 L1319.7,421.6 L1320.4,421.7 L1321.2,421.8 L1321.9,422.0 L1322.6,422.1 L1323.4,422.2 L1324.1,422.4 L1324.9,422.5 L1325.6,422.6 L1326.4,422.8 L1327.1,422.9 L1327.9,423.0 L1328.6,423.2 L1329.4,423.3 L1330.1,423.4 L1330.9,423.6 L1331.6,423.7 L1332.3,423.9 L1333.1,424.0 L1333.8,424.2 L1334.6,424.3 L1335.3,424.5 L1336.1,424.6 L1336.8,424.8 L1337.6,424.9 L1338.3,425.1 L1339.1,425.2 L1339.8,425.4 L1340.6,425.5 L1341.3,425.7 L1342.0,425.9 L1342.8,426.0 L1343.5,426.2 L1344.3,426.3 L1345.0,426.5 L1345.8,426.6 L1346.5,426.8 L1347.3,426.9 L1348.0,427.0 L1348.8,427.2 L1349.5,427.3 L1350.3,427.4 L1351.0,427.6 L1351.7,427.7 L1352.5,427.8 L1353.2,427.9 L1354.0,428.0 L1354.7,428.1 L1355.5,428.2 L1356.2,428.3 L1357.0,428.4 L1357.7,428.5 L1358.5,428.5 L1359.2,428.6 L1359.9,428.6 L1360.7,428.7 L1361.4,428.7 L1362.2,428.8 L1362.9,428.8 L1363.7,428.8 L1364.4,428.8 L1365.2,428.9 L1365.9,428.9 L1366.7,428.9 L1367.4,428.9 L1368.2,428.9 L1368.9,428.9 L1369.6,428.9 L1370.4,428.9 L1371.1,428.8 L1371.9,428.8 L1372.6,428.8 L1373.4,428.8 L1374.1,428.8 L1374.9,428.8 L1375.6,428.8 L1376.4,428.8 L1377.1,428.7 L1377.9,428.7 L1378.6,428.7 L1379.3,428.7 L1380.1,428.7 L1380.8,428.7 L1381.6,428.6 L1382.3,428.6 L1383.1,428.6 L1383.8,428.6 L1384.6,428.6 L1385.3,428.6 L1386.1,428.5 L1386.8,428.5 L1387.6,428.5 L1388.3,428.5 L1389.0,428.5 L1389.8,428.4 L1390.5,428.4 L1391.3,428.4 L1392.0,428.4 L1392.8,428.4 L1393.5,428.3 L1394.3,428.3 L1395.0,428.3 L1395.8,428.3 L1396.5,428.2 L1397.2,428.2 L1398.0,428.2 L1398.7,428.2 L1399.5,428.1 L1400.2,428.1 L1401.0,428.1 L1401.7,428.0 L1402.5,428.0 L1403.2,428.0 L1404.0,427.9 L1404.7,427.9 L1405.5,427.9 L1406.2,427.8 L1406.9,427.8 L1407.7,427.7 L1408.4,427.7 L1409.2,427.7 L1409.9,427.6 L1410.7,427.6 L1411.4,427.6 L1412.2,427.5 L1412.9,427.5 L1413.7,427.5 L1414.4,427.5 L1415.2,427.4 L1415.9,427.4 L1416.6,427.4 L1417.4,427.4 L1418.1,427.3 L1418.9,427.3 L1419.6,427.3 L1420.4,427.3 L1421.1,427.3 L1421.9,427.3 L1422.6,427.3 L1423.4,427.3 L1424.1,427.3 L1424.9,427.3 L1425.6,427.3 L1426.3,427.3 L1427.1,427.3 L1427.8,427.4 L1428.6,427.4 L1429.3,427.4 L1430.1,427.5 L1430.8,427.5 L1431.6,427.6 L1432.3,427.6 L1433.1,427.7 L1433.8,427.7 L1434.5,427.8 L1435.3,427.8 L1436.0,427.9 L1436.8,428.0 L1437.5,428.1 L1438.3,428.1 L1439.0,428.2 L1439.8,428.3 L1440.5,428.4 L1441.3,428.5 L1442.0,428.6 L1442.8,428.6 L1443.5,428.7 L1444.2,428.8 L1445.0,428.9 L1445.7,429.0 L1446.5,429.1 L1447.2,429.2 L1448.0,429.3 L1448.7,429.4 L1449.5,429.5 L1450.2,429.6 L1451.0,429.7 L1451.7,429.8 L1452.5,429.9 L1453.2,430.0 L1453.9,430.0 L1454.7,430.1 L1455.4,430.2 L1456.2,430.3 L1456.9,430.5 L1457.7,430.6 L1458.4,430.7 L1459.2,430.8 L1459.9,430.9 L1460.7,431.0 L1461.4,431.1 L1462.2,431.2 L1462.9,431.4 L1463.6,431.5 L1464.4,431.6 L1465.1,431.7 L1465.9,431.9 L1466.6,432.0 L1467.4,432.1 L1468.1,432.3 L1468.9,432.4 L1469.6,432.5 L1470.4,432.7 L1471.1,432.8 L1471.8,432.9 L1472.6,433.1 L1473.3,433.2 L1474.1,433.3 L1474.8,433.5 L1475.6,433.6 L1476.3,433.7 L1477.1,433.9 L1477.8,434.0 L1478.6,434.1 L1479.3,434.3 L1480.1,434.4 L1480.8,434.5 L1481.5,434.6 L1482.3,434.8 L1483.0,434.9 L1483.8,435.0 L1484.5,435.1 L1485.3,435.3 L1486.0,435.4 L1486.8,435.5 L1487.5,435.6 L1488.3,435.8 L1489.0,435.9 L1489.8,436.0 L1490.5,436.1 L1491.2,436.2 L1492.0,436.4 L1492.7,436.5 L1493.5,436.6 L1494.2,436.7 L1495.0,436.9 L1495.7,437.0 L1496.5,437.1 L1497.2,437.2 L1498.0,437.4 L1498.7,437.5 L1499.5,437.6 L1500.2,437.7 L1500.9,437.9 L1501.7,438.0 L1502.4,438.1 L1503.2,438.2 L1503.9,438.3 L1504.7,438.5 L1505.4,438.6 L1506.2,438.7 L1506.9,438.8 L1507.7,438.9 L1508.4,439.0 L1509.1,439.1 L1509.9,439.2 L1510.6,439.3 L1511.4,439.4 L1512.1,439.5 L1512.9,439.6 L1513.6,439.7 L1514.4,439.7 L1515.1,439.8 L1515.9,439.9 L1516.6,440.0 L1517.4,440.0 L1518.1,440.1 L1518.8,440.1 L1519.6,440.2 L1520.3,440.3 L1521.1,440.3 L1521.8,440.4 L1522.6,440.4 L1523.3,440.5 L1524.1,440.5 L1524.8,440.5 L1525.6,440.6 L1526.3,440.6 L1527.1,440.7 L1527.8,440.7 L1528.5,440.7 L1529.3,440.8 L1530.0,440.8 L1530.8,440.9 L1531.5,440.9 L1532.3,440.9 L1533.0,441.0 L1533.8,441.0 L1534.5,441.0 L1535.3,441.1 L1536.0,441.1 L1536.8,441.2 L1537.5,441.2 L1538.2,441.2 L1539.0,441.3 L1539.7,441.3 L1540.5,441.3 L1541.2,441.3 L1542.0,441.4 L1542.7,441.4 L1543.5,441.4 L1544.2,441.5 L1545.0,441.5 L1545.7,441.5 L1546.4,441.5 L1547.2,441.6 L1547.9,441.6 L1548.7,441.6 L1549.4,441.6 L1550.2,441.7 L1550.9,441.7 L1551.7,441.7 L1552.4,441.7 L1553.2,441.7 L1553.9,441.7 L1554.7,441.8 L1555.4,441.8 L1556.1,441.8 L1556.9,441.8 L1557.6,441.8 L1558.4,441.8 L1559.1,441.8 L1559.9,441.8 L1560.6,441.8 L1561.4,441.9 L1562.1,441.9 L1562.9,441.9 L1563.6,441.9 L1564.4,441.9 L1565.1,441.9 L1566.0,441.9" stroke="#2ca02c"/>
<path d="M967.0,459.4 L968.3,459.4 L1141.4,459.4 L1142.1,459.4 L1142.9,459.3 L1143.6,459.1 L1144.4,458.9 L1145.1,458.6 L1145.8,457.9 L1146.6,457.0 L1147.3,455.9 L1148.1,454.2 L1148.8,451.8 L1149.6,448.8 L1150.3,445.3 L1151.1,440.1 L1151.8,433.7 L1152.6,426.8 L1153.3,419.3 L1154.1,411.1 L1154.8,402.3 L1155.5,392.9 L1156.3,382.9 L1157.0,371.6 L1157.8,359.6 L1158.5,347.8 L1159.3,337.1 L1160.0,327.1 L1160.8,317.6 L1161.5,308.5 L1162.3,300.1 L1163.0,292.2 L1163.8,284.9 L1164.5,278.1 L1165.2,271.2 L1166.0,264.3 L1166.7,258.1 L1167.5,253.3 L1168.2,249.7 L1169.0,246.5 L1169.7,244.1 L1170.5,243.2 L1171.2,243.9 L1172.0,246.0 L1172.7,249.1 L1173.4,253.1 L1174.2,257.7 L1174.9,262.7 L1175.7,267.9 L1176.4,273.0 L1177.2,277.8 L1177.9,282.8 L1178.7,288.2 L1179.4,294.1 L1180.2,300.3 L1180.9,306.6 L1181.7,312.9 L1182.4,319.1 L1183.1,325.1 L1183.9,330.8 L1184.6,336.0 L1185.4,340.8 L1186.1,345.6 L1186.9,350.3 L1187.6,354.8 L1188.4,359.2 L1189.1,363.4 L1189.9,367.5 L1190.6,371.3 L1191.4,374.9 L1192.1,378.2 L1192.8,381.4 L1193.6,384.5 L1194.3,387.6 L1195.1,390.6 L1195.8,393.5 L1196.6,396.2 L1197.3,398.8 L1198.1,401.2 L1198.8,403.4 L1199.6,405.4 L1200.3,407.0 L1201.1,408.4 L1201.8,409.6 L1202.5,410.7 L1203.3,411.8 L1204.0,412.8 L1204.8,413.7 L1205.5,414.5 L1206.3,415.3 L1207.0,416.1 L1207.8,416.8 L1208.5,417.4 L1209.3,418.1 L1210.0,418.7 L1210.7,419.3 L1211.5,419.8 L1212.2,420.4 L1213.0,420.9 L1213.7,421.4 L1214.5,421.9 L1215.2,422.4 L1216.0,422.8 L1216.7,423.3 L1217.5,423.7 L1218.2,424.2 L1219.0,424.6 L1219.7,425.0 L1220.4,425.3 L1221.2,425.7 L1221.9,426.0 L1222.7,426.3 L1223.4,426.6 L1224.2,426.9 L1224.9,427.2 L1225.7,427.5 L1226.4,427.7 L1227.2,428.0 L1227.9,428.2 L1228.7,428.4 L1229.4,428.7 L1230.1,428.9 L1230.9,429.1 L1231.6,429.3 L1232.4,429.5 L1233.1,429.7 L1233.9,429.9 L1234.6,430.1 L1235.4,430.3 L1236.1,430.5 L1236.9,430.6 L1237.6,430.8 L1238.4,430.9 L1239.1,431.1 L1239.8,431.2 L1240.6,431.3 L1241.3,431.4 L1242.1,431.5 L1242.8,431.5 L1243.6,431.6 L1244.3,431.7 L1245.1,431.7 L1245.8,431.7 L1246.6,431.8 L1247.3,431.8 L1248.0,431.8 L1248.8,431.8 L1249.5,431.8 L1250.3,431.8 L1251.0,431.8 L1251.8,431.8 L1252.5,431.8 L1253.3,431.8 L1254.0,431.7 L1254.8,431.7 L1255.5,431.7 L1256.3,431.7 L1257.0,431.7 L1257.7,431.7 L1258.5,431.6 L1259.2,431.6 L1260.0,431.6 L1260.7,431.6 L1261.5,431.6 L1262.2,431.5 L1263.0,431.5 L1263.7,431.5 L1264.5,431.5 L1265.2,431.4 L1266.0,431.4 L1266.7,431.4 L1267.4,431.4 L1268.2,431.3 L1268.9,431.3 L1269.7,431.3 L1270.4,431.3 L1271.2,431.2 L1271.9,431.2 L1272.7,431.2 L1273.4,431.1 L1274.2,431.1 L1274.9,431.1 L1275.7,431.0 L1276.4,431.0 L1277.1,431.0 L1277.9,430.9 L1278.6,430.9 L1279.4,430.8 L1280.1,430.8 L1280.9,430.7 L1281.6,430.7 L1282.4,430.6 L1283.1,430.6 L1283.9,430.5 L1284.6,430.5 L1285.3,430.4 L1286.1,430.4 L1286.8,430.3 L1287.6,430.2 L1288.3,430.2 L1289.1,430.1 L1289.8,430.1 L1290.6,430.0 L1291.3,430.0 L1292.1,429.9 L1292.8,429.9 L1293.6,429.9 L1294.3,429.8 L1295.0,429.8 L1295.8,429.8 L1296.5,429.7 L1297.3,429.7 L1298.0,429.7 L1298.8,429.7 L1299.5,429.7 L1300.3,429.7 L1301.0,429.7 L1301.8,429.7 L1302.5,429.7 L1303.3,429.7 L1304.0,429.7 L1304.7,429.7 L1305.5,429.8 L1306.2,429.8 L1307.0,429.8 L1307.7,429.8 L1308.5,429.9 L1309.2,429.9 L1310.0,430.0 L1310.7,430.0 L1311.5,430.0 L1312.2,430.1 L1313.0,430.1 L1313.7,430.2 L1314.4,430.2 L1315.2,430.3 L1315.9,430.4 L1316.7,430.4 L1317.4,430.5 L1318.2,430.5 L1318.9,430.6 L1319.7,430.7 L1320.4,430.7 L1321.2,430.8 L1321.9,430.9 L1322.6,430.9 L1323.4,431.0 L1324.1,431.0 L1324.9,431.1 L1325.6,431.2 L1326.4,431.2 L1327.1,431.3 L1327.9,431.4 L1328.6,431.4 L1329.4,431.5 L1330.1,431.6 L1330.9,431.6 L1331.6,431.7 L1332.3,431.7 L1333.1,431.8 L1333.8,431.8 L1334.6,431.9 L1335.3,432.0 L1336.1,432.0 L1336.8,432.1 L1337.6,432.1 L1338.3,432.1 L1339.1,432.2 L1339.8,432.2 L1340.6,432.3 L1341.3,432.3 L1342.0,432.4 L1342.8,432.4 L1343.5,432.4 L1344.3,432.5 L1345.0,432.5 L1345.8,432.5 L1346.5,432.6 L1347.3,432.6 L1348.0,432.6 L1348.8,432.7 L1349.5,432.7 L1350.3,432.7 L1351.0,432.8 L1351.7,432.8 L1352.5,432.8 L1353.2,432.9 L1354.0,432.9 L1354.7,432.9 L1355.5,432.9 L1356.2,433.0 L1357.0,433.0 L1357.7,433.0 L1358.5,433.0 L1359.2,433.0 L1359.9,433.0 L1360.7,433.1 L1361.4,433.1 L1362.2,433.1 L1362.9,433.1 L1363.7,433.1 L1364.4,433.1 L1365.2,433.1 L1365.9,433.1 L1366.7,433.1 L1367.4,433.1 L1368.2,433.1 L1368.9,433.1 L1369.6,433.1 L1370.4,433.1 L1371.1,433.1 L1371.9,433.1 L1372.6,433.1 L1373.4,433.1 L1374.1,433.0 L1374.9,433.0 L1375.6,433.0 L1376.4,433.0 L1377.1,433.0 L1377.9,433.0 L1378.6,433.0 L1379.3,433.0 L1380.1,432.9 L1380.8,432.9 L1381.6,432.9 L1382.3,432.9 L1383.1,432.9 L1383.8,432.9 L1384.6,432.8 L1385.3,432.8 L1386.1,432.8 L1386.8,432.8 L1387.6,432.8 L1388.3,432.8 L1389.0,432.7 L1389.8,432.7 L1390.5,432.7 L1391.3,432.7 L1392.0,432.7 L1392.8,432.6 L1393.5,432.6 L1394.3,432.6 L1395.0,432.6 L1395.8,432.6 L1396.5,432.5 L1397.2,432.5 L1398.0,432.5 L1398.7,432.5 L1399.5,432.5 L1400.2,432.5 L1401.0,432.4 L1401.7,432.4 L1402.5,432.4 L1403.2,432.4 L1404.0,432.4 L1404.7,432.3 L1405.5,432.3 L1406.2,432.3 L1406.9,432.3 L1407.7,432.3 L1408.4,432.3 L1409.2,432.3 L1409.9,432.2 L1410.7,432.2 L1411.4,432.2 L1412.2,432.2 L1412.9,432.2 L1413.7,432.2 L1414.4,432.2 L1415.2,432.2 L1415.9,432.1 L1416.6,432.1 L1417.4,432.1 L1418.1,432.1 L1418.9,432.1 L1419.6,432.1 L1420.4,432.1 L1421.1,432.1 L1421.9,432.1 L1422.6,432.1 L1423.4,432.1 L1424.1,432.1 L1424.9,432.1 L1425.6,432.2 L1426.3,432.2 L1427.1,432.2 L1427.8,432.2 L1428.6,432.2 L1429.3,432.3 L1430.1,432.3 L1430.8,432.4 L1431.6,432.4 L1432.3,432.5 L1433.1,432.5 L1433.8,432.6 L1434.5,432.6 L1435.3,432.7 L1436.0,432.8 L1436.8,432.8 L1437.5,432.9 L1438.3,433.0 L1439.0,433.1 L1439.8,433.1 L1440.5,433.2 L1441.3,433.3 L1442.0,433.4 L1442.8,433.5 L1443.5,433.6 L1444.2,433.7 L1445.0,433.7 L1445.7,433.8 L1446.5,433.9 L1447.2,434.0 L1448.0,434.1 L1448.7,434.2 L1449.5,434.3 L1450.2,434.4 L1451.0,434.5 L1451.7,434.5 L1452.5,434.6 L1453.2,434.7 L1453.9,434.8 L1454.7,434.9 L1455.4,435.0 L1456.2,435.1 L1456.9,435.2 L1457.7,435.3 L1458.4,435.4 L1459.2,435.5 L1459.9,435.6 L1460.7,435.7 L1461.4,435.8 L1462.2,435.9 L1462.9,436.0 L1463.6,436.1 L1464.4,436.2 L1465.1,436.3 L1465.9,436.5 L1466.6,436.6 L1467.4,436.7 L1468.1,436.8 L1468.9,436.9 L1469.6,437.0 L1470.4,437.1 L1471.1,437.3 L1471.8,437.4 L1472.6,437.5 L1473.3,437.6 L1474.1,437.7 L1474.8,437.8 L1475.6,437.9 L1476.3,438.1 L1477.1,438.2 L1477.8,438.3 L1478.6,438.4 L1479.3,438.5 L1480.1,438.6 L1480.8,438.7 L1481.5,438.8 L1482.3,438.9 L1483.0,439.0 L1483.8,439.1 L1484.5,439.2 L1485.3,439.3 L1486.0,439.4 L1486.8,439.5 L1487.5,439.6 L1488.3,439.7 L1489.0,439.7 L1489.8,439.8 L1490.5,439.9 L1491.2,440.0 L1492.0,440.1 L1492.7,440.2 L1493.5,440.3 L1494.2,440.3 L1495.0,440.4 L1495.7,440.5 L1496.5,440.6 L1497.2,440.7 L1498.0,440.7 L1498.7,440.8 L1499.5,440.9 L1500.2,441.0 L1500.9,441.1 L1501.7,441.1 L1502.4,441.2 L1503.2,441.3 L1503.9,441.4 L1504.7,441.4 L1505.4,441.5 L1506.2,441.6 L1506.9,441.7 L1507.7,441.7 L1508.4,441.8 L1509.1,441.9 L1509.9,441.9 L1510.6,442.0 L1511.4,442.0 L1512.1,442.1 L1512.9,442.2 L1513.6,442.2 L1514.4,442.3 L1515.1,442.3 L1515.9,442.4 L1516.6,442.4 L1517.4,442.5 L1518.1,442.5 L1518.8,442.6 L1519.6,442.6 L1520.3,442.7 L1521.1,442.7 L1521.8,442.7 L1522.6,442.8 L1523.3,442.8 L1524.1,442.9 L1524.8,442.9 L1525.6,442.9 L1526.3,443.0 L1527.1,443.0 L1527.8,443.1 L1528.5,443.1 L1529.3,443.1 L1530.0,443.2 L1530.8,443.2 L1531.5,443.3 L1532.3,443.3 L1533.0,443.3 L1533.8,443.4 L1534.5,443.4 L1535.3,443.4 L1536.0,443.5 L1536.8,443.5 L1537.5,443.5 L1538.2,443.6 L1539.0,443.6 L1539.7,443.6 L1540.5,443.7 L1541.2,443.7 L1542.0,443.7 L1542.7,443.8 L1543.5,443.8 L1544.2,443.8 L1545.0,443.8 L1545.7,443.9 L1546.4,443.9 L1547.2,443.9 L1547.9,443.9 L1548.7,444.0 L1549.4,444.0 L1550.2,444.0 L1550.9,444.0 L1551.7,444.1 L1552.4,444.1 L1553.2,444.1 L1553.9,444.1 L1554.7,444.1 L1555.4,444.1 L1556.1,444.2 L1556.9,444.2 L1557.6,444.2 L1558.4,444.2 L1559.1,444.2 L1559.9,444.2 L1560.6,444.2 L1561.4,444.2 L1562.1,444.2 L1562.9,444.2 L1563.6,444.3 L1564.4,444.3 L1565.1,444.3 L1566.0,444.3" stroke="#d62728"/>
<path d="M967.0,459.4 L968.3,459.4 L1142.9,459.4 L1143.6,459.4 L1144.4,459.3 L1145.1,459.3 L1145.8,459.2 L1146.6,459.0 L1147.3,458.6 L1148.1,458.2 L1148.8,457.6 L1149.6,456.8 L1150.3,455.6 L1151.1,454.1 L1151.8,452.3 L1152.6,449.7 L1153.3,446.5 L1154.1,443.0 L1154.8,439.3 L1155.5,435.1 L1156.3,430.7 L1157.0,426.0 L1157.8,421.0 L1158.5,415.3 L1159.3,409.2 L1160.0,403.3 L1160.8,397.9 L1161.5,392.9 L1162.3,388.1 L1163.0,383.5 L1163.8,379.3 L1164.5,375.4 L1165.2,371.7 L1166.0,368.2 L1166.7,364.8 L1167.5,361.3 L1168.2,358.2 L1169.0,355.8 L1169.7,354.0 L1170.5,352.4 L1171.2,351.2 L1172.0,350.7 L1172.7,350.9 L1173.4,351.4 L1174.2,352.2 L1174.9,353.2 L1175.7,354.3 L1176.4,356.0 L1177.2,358.7 L1177.9,361.9 L1178.7,365.1 L1179.4,367.8 L1180.2,370.3 L1180.9,372.7 L1181.7,375.2 L1182.4,377.7 L1183.1,380.1 L1183.9,382.5 L1184.6,384.9 L1185.4,387.1 L1186.1,389.2 L1186.9,391.2 L1187.6,393.0 L1188.4,394.6 L1189.1,396.1 L1189.9,397.3 L1190.6,398.4 L1191.4,399.4 L1192.1,400.3 L1192.8,401.2 L1193.6,402.0 L1194.3,402.8 L1195.1,403.5 L1195.8,404.2 L1196.6,404.9 L1197.3,405.5 L1198.1,406.2 L1198.8,406.7 L1199.6,407.3 L1200.3,407.9 L1201.1,408.4 L1201.8,409.0 L1202.5,409.5 L1203.3,410.0 L1204.0,410.5 L1204.8,411.0 L1205.5,411.5 L1206.3,411.9 L1207.0,412.4 L1207.8,412.8 L1208.5,413.2 L1209.3,413.6 L1210.0,414.0 L1210.7,414.3 L1211.5,414.7 L1212.2,415.0 L1213.0,415.4 L1213.7,415.7 L1214.5,416.0 L1215.2,416.3 L1216.0,416.6 L1216.7,417.0 L1217.5,417.3 L1218.2,417.5 L1219.0,417.8 L1219.7,418.1 L1220.4,418.4 L1221.2,418.6 L1221.9,418.9 L1222.7,419.2 L1223.4,419.4 L1224.2,419.6 L1224.9,419.9 L1225.7,420.1 L1226.4,420.3 L1227.2,420.5 L1227.9,420.7 L1228.7,420.9 L1229.4,421.1 L1230.1,421.3 L1230.9,421.5 L1231.6,421.7 L1232.4,421.8 L1233.1,422.0 L1233.9,422.2 L1234.6,422.3 L1235.4,422.5 L1236.1,422.6 L1236.9,422.8 L1237.6,422.9 L1238.4,423.1 L1239.1,423.2 L1239.8,423.4 L1240.6,423.5 L1241.3,423.6 L1242.1,423.7 L1242.8,423.9 L1243.6,424.0 L1244.3,424.1 L1245.1,424.2 L1245.8,424.3 L1246.6,424.4 L1247.3,424.6 L1248.0,424.7 L1248.8,424.8 L1249.5,424.9 L1250.3,425.0 L1251.0,425.1 L1251.8,425.2 L1252.5,425.3 L1253.3,425.4 L1254.0,425.5 L1254.8,425.6 L1255.5,425.6 L1256.3,425.7 L1257.0,425.8 L1257.7,425.9 L1258.5,426.0 L1259.2,426.1 L1260.0,426.2 L1260.7,426.3 L1261.5,426.3 L1262.2,426.4 L1263.0,426.5 L1263.7,426.6 L1264.5,426.7 L1265.2,426.7 L1266.0,426.8 L1266.7,426.9 L1267.4,426.9 L1268.2,427.0 L1268.9,427.1 L1269.7,427.2 L1270.4,427.2 L1271.2,427.3 L1271.9,427.3 L1272.7,427.4 L1273.4,427.5 L1274.2,427.5 L1274.9,427.6 L1275.7,427.6 L1276.4,427.7 L1277.1,427.7 L1277.9,427.8 L1278.6,427.8 L1279.4,427.9 L1280.1,427.9 L1280.9,428.0 L1281.6,428.0 L1282.4,428.1 L1283.1,428.1 L1283.9,428.1 L1284.6,428.2 L1285.3,428.2 L1286.1,428.3 L1286.8,428.3 L1287.6,428.3 L1288.3,428.4 L1289.1,428.4 L1289.8,428.5 L1290.6,428.5 L1291.3,428.5 L1292.1,428.6 L1292.8,428.6 L1293.6,428.7 L1294.3,428.7 L1295.0,428.8 L1295.8,428.8 L1296.5,428.9 L1297.3,428.9 L1298.0,429.0 L1298.8,429.1 L1299.5,429.1 L1300.3,429.2 L1301.0,429.3 L1301.8,429.3 L1302.5,429.4 L1303.3,429.5 L1304.0,429.6 L1304.7,429.7 L1305.5,429.7 L1306.2,429.8 L1307.0,429.9 L1307.7,430.0 L1308.5,430.1 L1309.2,430.2 L1310.0,430.4 L1310.7,430.5 L1311.5,430.6 L1312.2,430.7 L1313.0,430.8 L1313.7,430.9 L1314.4,431.1 L1315.2,431.2 L1315.9,431.3 L1316.7,431.4 L1317.4,431.6 L1318.2,431.7 L1318.9,431.8 L1319.7,431.9 L1320.4,432.1 L1321.2,432.2 L1321.9,432.3 L1322.6,432.5 L1323.4,432.6 L1324.1,432.7 L1324.9,432.9 L1325.6,433.0 L1326.4,433.1 L1327.1,433.2 L1327.9,433.4 L1328.6,433.5 L1329.4,433.6 L1330.1,433.7 L1330.9,433.8 L1331.6,434.0 L1332.3,434.1 L1333.1,434.2 L1333.8,434.3 L1334.6,434.4 L1335.3,434.6 L1336.1,434.7 L1336.8,434.8 L1337.6,434.9 L1338.3,435.0 L1339.1,435.2 L1339.8,435.3 L1340.6,435.4 L1341.3,435.5 L1342.0,435.6 L1342.8,435.8 L1343.5,435.9 L1344.3,436.0 L1345.0,436.1 L1345.8,436.2 L1346.5,436.4 L1347.3,436.5 L1348.0,436.6 L1348.8,436.7 L1349.5,436.8 L1350.3,436.9 L1351.0,437.0 L1351.7,437.1 L1352.5,437.2 L1353.2,437.3 L1354.0,437.4 L1354.7,437.4 L1355.5,437.5 L1356.2,437.6 L1357.0,437.6 L1357.7,437.7 L1358.5,437.8 L1359.2,437.8 L1359.9,437.9 L1360.7,437.9 L1361.4,437.9 L1362.2,438.0 L1362.9,438.0 L1363.7,438.0 L1364.4,438.1 L1365.2,438.1 L1365.9,438.1 L1366.7,438.2 L1367.4,438.2 L1368.2,438.2 L1368.9,438.2 L1369.6,438.3 L1370.4,438.3 L1371.1,438.3 L1371.9,438.3 L1372.6,438.4 L1373.4,438.4 L1374.1,438.4 L1374.9,438.4 L1375.6,438.4 L1376.4,438.5 L1377.1,438.5 L1377.9,438.5 L1378.6,438.5 L1379.3,438.5 L1380.1,438.5 L1380.8,438.6 L1381.6,438.6 L1382.3,438.6 L1383.1,438.6 L1383.8,438.6 L1384.6,438.6 L1385.3,438.6 L1386.1,438.6 L1386.8,438.6 L1387.6,438.7 L1388.3,438.7 L1389.0,438.7 L1389.8,438.7 L1390.5,438.7 L1391.3,438.7 L1392.0,438.7 L1392.8,438.7 L1393.5,438.7 L1394.3,438.7 L1395.0,438.7 L1395.8,438.7 L1396.5,438.6 L1397.2,438.6 L1398.0,438.6 L1398.7,438.6 L1399.5,438.6 L1400.2,438.6 L1401.0,438.6 L1401.7,438.5 L1402.5,438.5 L1403.2,438.5 L1404.0,438.5 L1404.7,438.4 L1405.5,438.4 L1406.2,438.4 L1406.9,438.4 L1407.7,438.3 L1408.4,438.3 L1409.2,438.3 L1409.9,438.3 L1410.7,438.2 L1411.4,438.2 L1412.2,438.2 L1412.9,438.2 L1413.7,438.1 L1414.4,438.1 L1415.2,438.1 L1415.9,438.1 L1416.6,438.0 L1417.4,438.0 L1418.1,438.0 L1418.9,438.0 L1419.6,438.0 L1420.4,438.0 L1421.1,438.0 L1421.9,437.9 L1422.6,437.9 L1423.4,437.9 L1424.1,437.9 L1424.9,438.0 L1425.6,438.0 L1426.3,438.0 L1427.1,438.0 L1427.8,438.0 L1428.6,438.1 L1429.3,438.1 L1430.1,438.1 L1430.8,438.2 L1431.6,438.2 L1432.3,438.2 L1433.1,438.3 L1433.8,438.4 L1434.5,438.4 L1435.3,438.5 L1436.0,438.5 L1436.8,438.6 L1437.5,438.7 L1438.3,438.7 L1439.0,438.8 L1439.8,438.9 L1440.5,438.9 L1441.3,439.0 L1442.0,439.1 L1442.8,439.2 L1443.5,439.3 L1444.2,439.3 L1445.0,439.4 L1445.7,439.5 L1446.5,439.6 L1447.2,439.7 L1448.0,439.7 L1448.7,439.8 L1449.5,439.9 L1450.2,440.0 L1451.0,440.1 L1451.7,440.1 L1452.5,440.2 L1453.2,440.3 L1453.9,440.4 L1454.7,440.5 L1455.4,440.5 L1456.2,440.6 L1456.9,440.7 L1457.7,440.8 L1458.4,440.9 L1459.2,441.0 L1459.9,441.0 L1460.7,441.1 L1461.4,441.2 L1462.2,441.3 L1462.9,441.4 L1463.6,441.5 L1464.4,441.6 L1465.1,441.7 L1465.9,441.8 L1466.6,441.9 L1467.4,442.0 L1468.1,442.1 L1468.9,442.2 L1469.6,442.3 L1470.4,442.4 L1471.1,442.5 L1471.8,442.6 L1472.6,442.6 L1473.3,442.7 L1474.1,442.8 L1474.8,442.9 L1475.6,443.0 L1476.3,443.1 L1477.1,443.2 L1477.8,443.3 L1478.6,443.4 L1479.3,443.5 L1480.1,443.6 L1480.8,443.6 L1481.5,443.7 L1482.3,443.8 L1483.0,443.9 L1483.8,444.0 L1484.5,444.0 L1485.3,444.1 L1486.0,444.2 L1486.8,444.3 L1487.5,444.3 L1488.3,444.4 L1489.0,444.5 L1489.8,444.5 L1490.5,444.6 L1491.2,444.7 L1492.0,444.7 L1492.7,444.8 L1493.5,444.8 L1494.2,444.9 L1495.0,445.0 L1495.7,445.0 L1496.5,445.1 L1497.2,445.2 L1498.0,445.2 L1498.7,445.3 L1499.5,445.3 L1500.2,445.4 L1500.9,445.5 L1501.7,445.5 L1502.4,445.6 L1503.2,445.6 L1503.9,445.7 L1504.7,445.7 L1505.4,445.8 L1506.2,445.8 L1506.9,445.9 L1507.7,445.9 L1508.4,446.0 L1509.1,446.0 L1509.9,446.1 L1510.6,446.1 L1511.4,446.2 L1512.1,446.2 L1512.9,446.3 L1513.6,446.3 L1514.4,446.3 L1515.1,446.4 L1515.9,446.4 L1516.6,446.5 L1517.4,446.5 L1518.1,446.5 L1518.8,446.6 L1519.6,446.6 L1520.3,446.7 L1521.1,446.7 L1521.8,446.7 L1522.6,446.8 L1523.3,446.8 L1524.1,446.8 L1524.8,446.8 L1525.6,446.9 L1526.3,446.9 L1527.1,446.9 L1527.8,447.0 L1528.5,447.0 L1529.3,447.0 L1530.0,447.1 L1530.8,447.1 L1531.5,447.1 L1532.3,447.2 L1533.0,447.2 L1533.8,447.2 L1534.5,447.2 L1535.3,447.3 L1536.0,447.3 L1536.8,447.3 L1537.5,447.4 L1538.2,447.4 L1539.0,447.4 L1539.7,447.4 L1540.5,447.5 L1541.2,447.5 L1542.0,447.5 L1542.7,447.5 L1543.5,447.6 L1544.2,447.6 L1545.0,447.6 L1545.7,447.6 L1546.4,447.6 L1547.2,447.7 L1547.9,447.7 L1548.7,447.7 L1549.4,447.7 L1550.2,447.8 L1550.9,447.8 L1551.7,447.8 L1552.4,447.8 L1553.2,447.8 L1553.9,447.8 L1554.7,447.9 L1555.4,447.9 L1556.1,447.9 L1556.9,447.9 L1557.6,447.9 L1558.4,447.9 L1559.1,447.9 L1559.9,447.9 L1560.6,448.0 L1561.4,448.0 L1562.1,448.0 L1562.9,448.0 L1563.6,448.0 L1564.4,448.0 L1565.1,448.0 L1566.0,448.0" stroke="#9467bd"/>
</g>
<line x1="1162.3" y1="29.7" x2="1162.3" y2="459.4" stroke="#000" stroke-opacity="0.5" stroke-width="3.7"/>
<rect x="940.4" y="8.8" width="653.2" height="472.1" fill="none" stroke="#111" stroke-width="1.5"/>
<line x1="968.3" y1="480.9" x2="968.3" y2="474.5" stroke="#111" stroke-width="1.5"/>
<text transform="translate(968.1,516.2) scale(1,1.025)" font-size="38.5" text-anchor="middle">0</text>
<line x1="1117.5" y1="480.9" x2="1117.5" y2="474.5" stroke="#111" stroke-width="1.5"/>
<text transform="translate(1117.3,516.2) scale(1,1.025)" font-size="38.5" text-anchor="middle">2</text>
<line x1="1266.7" y1="480.9" x2="1266.7" y2="474.5" stroke="#111" stroke-width="1.5"/>
<text transform="translate(1266.5,516.2) scale(1,1.025)" font-size="38.5" text-anchor="middle">4</text>
<line x1="1415.9" y1="480.9" x2="1415.9" y2="474.5" stroke="#111" stroke-width="1.5"/>
<text transform="translate(1415.7,516.2) scale(1,1.025)" font-size="38.5" text-anchor="middle">6</text>
<line x1="1565.1" y1="480.9" x2="1565.1" y2="474.5" stroke="#111" stroke-width="1.5"/>
<text transform="translate(1564.9,516.2) scale(1,1.025)" font-size="38.5" text-anchor="middle">8</text>
<line x1="940.4" y1="459.4" x2="946.8" y2="459.4" stroke="#111" stroke-width="1.5"/>
<text transform="translate(933.8,474.4) scale(1,1.025)" font-size="38.5" text-anchor="end">0.0</text>
<line x1="940.4" y1="379.8" x2="946.8" y2="379.8" stroke="#111" stroke-width="1.5"/>
<text transform="translate(933.8,394.8) scale(1,1.025)" font-size="38.5" text-anchor="end">0.1</text>
<line x1="940.4" y1="300.1" x2="946.8" y2="300.1" stroke="#111" stroke-width="1.5"/>
<text transform="translate(933.8,315.1) scale(1,1.025)" font-size="38.5" text-anchor="end">0.2</text>
<line x1="940.4" y1="220.5" x2="946.8" y2="220.5" stroke="#111" stroke-width="1.5"/>
<text transform="translate(933.8,235.5) scale(1,1.025)" font-size="38.5" text-anchor="end">0.3</text>
<line x1="940.4" y1="140.9" x2="946.8" y2="140.9" stroke="#111" stroke-width="1.5"/>
<text transform="translate(933.8,155.9) scale(1,1.025)" font-size="38.5" text-anchor="end">0.4</text>
<line x1="940.4" y1="61.2" x2="946.8" y2="61.2" stroke="#111" stroke-width="1.5"/>
<text transform="translate(933.8,76.2) scale(1,1.025)" font-size="38.5" text-anchor="end">0.5</text>
<text x="1268.2" y="562.0" font-size="34.9" text-anchor="middle">r[<tspan font-style="italic">Å</tspan>]</text>
<text transform="translate(857.9,243.5) rotate(-90)" font-size="34.9" text-anchor="middle">g<tspan font-style="italic" font-size="25.1" dy="5.8">OO</tspan><tspan dy="-5.8" dx="0.8">(r)</tspan></text>
<line x1="1431.4" y1="40.5" x2="1485.9" y2="40.5" stroke="#1f77b4" stroke-width="5.2"/>
<text x="1502.5" y="49.0" font-size="25.0">A<tspan font-style="italic" font-size="17.5" dy="-9.05" dx="0.4">II</tspan><tspan dy="9.05" dx="0.6">-A</tspan><tspan font-style="italic" font-size="17.5" dy="-9.05" dx="0.4">II</tspan></text>
<line x1="1431.4" y1="76.9" x2="1485.9" y2="76.9" stroke="#ff7f0e" stroke-width="5.2"/>
<text x="1502.5" y="85.4" font-size="25.0">A<tspan font-style="italic" font-size="17.5" dy="-9.05" dx="0.4">II</tspan><tspan dy="9.05" dx="0.6">-A</tspan><tspan font-style="italic" font-size="17.5" dy="-9.05" dx="0.4">III</tspan></text>
<line x1="1431.4" y1="113.3" x2="1485.9" y2="113.3" stroke="#2ca02c" stroke-width="5.2"/>
<text x="1502.5" y="121.8" font-size="25.0">A<tspan font-style="italic" font-size="17.5" dy="-9.05" dx="0.4">II</tspan><tspan dy="9.05" dx="0.6">-B</tspan><tspan font-style="italic" font-size="17.5" dy="-9.05" dx="0.4">I</tspan></text>
<line x1="1431.4" y1="149.7" x2="1485.9" y2="149.7" stroke="#d62728" stroke-width="5.2"/>
<text x="1502.5" y="158.2" font-size="25.0">A<tspan font-style="italic" font-size="17.5" dy="-9.05" dx="0.4">II</tspan><tspan dy="9.05" dx="0.6">-B</tspan><tspan font-style="italic" font-size="17.5" dy="-9.05" dx="0.4">II</tspan></text>
<line x1="1431.4" y1="186.1" x2="1485.9" y2="186.1" stroke="#9467bd" stroke-width="5.2"/>
<text x="1502.5" y="194.6" font-size="25.0">A<tspan font-style="italic" font-size="17.5" dy="-9.05" dx="0.4">II</tspan><tspan dy="9.05" dx="0.6">-B</tspan><tspan font-style="italic" font-size="17.5" dy="-9.05" dx="0.4">III</tspan></text>
<line x1="1078.0" y1="74.3" x2="1135.0" y2="74.3" stroke="#0068b7" stroke-width="3.8"/><path d="M1163.5,74.3 L1127.0,63.2 L1134.0,74.3 L1127.0,85.4 Z" fill="#0068b7"/>
<text x="808" y="45.2" font-family="'Liberation Serif',serif" font-size="56.6" fill="#231815" stroke="#231815" stroke-width="0.7">(b)</text>
</g>
<g id="panel-c">
<g fill="none" stroke-width="5.2" stroke-linejoin="round" stroke-linecap="butt">
<path d="M175.7,1048.0 L177.0,1048.0 L342.3,1048.0 L343.0,1048.0 L343.7,1047.8 L344.4,1047.7 L345.1,1047.5 L345.8,1047.1 L346.6,1046.5 L347.3,1045.5 L348.0,1044.3 L348.7,1042.9 L349.4,1040.7 L350.2,1037.6 L350.9,1033.9 L351.6,1029.6 L352.3,1023.9 L353.0,1016.3 L353.8,1007.6 L354.5,998.6 L355.2,988.8 L355.9,978.1 L356.6,966.7 L357.3,954.7 L358.1,942.1 L358.8,928.0 L359.5,912.7 L360.2,897.2 L360.9,882.4 L361.7,868.9 L362.4,856.2 L363.1,843.9 L363.8,832.2 L364.5,821.2 L365.2,810.9 L366.0,801.2 L366.7,792.1 L367.4,783.4 L368.1,774.4 L368.8,765.6 L369.6,757.7 L370.3,751.6 L371.0,747.0 L371.7,742.7 L372.4,739.2 L373.2,737.2 L373.9,737.0 L374.6,738.1 L375.3,740.2 L376.0,743.1 L376.7,746.8 L377.5,751.1 L378.2,755.8 L378.9,760.9 L379.6,766.2 L380.3,771.6 L381.1,777.0 L381.8,782.2 L382.5,787.2 L383.2,792.3 L383.9,798.0 L384.6,804.0 L385.4,810.2 L386.1,816.5 L386.8,822.7 L387.5,828.7 L388.2,834.3 L389.0,839.4 L389.7,844.1 L390.4,848.8 L391.1,853.4 L391.8,857.8 L392.5,862.1 L393.3,866.2 L394.0,870.0 L394.7,873.4 L395.4,876.6 L396.1,879.2 L396.9,881.9 L397.6,884.5 L398.3,886.5 L399.0,888.7 L399.7,890.4 L400.5,892.4 L401.2,894.6 L401.9,896.0 L402.6,896.6 L403.3,897.7 L404.0,899.0 L404.8,899.7 L405.5,900.4 L406.2,901.1 L406.9,901.7 L407.6,902.5 L408.4,902.8 L409.1,903.1 L409.8,902.3 L410.5,903.8 L411.2,902.9 L411.9,902.4 L412.7,903.0 L413.4,902.1 L414.1,902.3 L414.8,901.2 L415.5,901.4 L416.3,900.2 L417.0,899.6 L417.7,899.5 L418.4,899.7 L419.1,899.7 L419.9,897.2 L420.6,897.7 L421.3,897.6 L422.0,896.2 L422.7,896.1 L423.4,894.7 L424.2,894.8 L424.9,894.5 L425.6,895.0 L426.3,893.3 L427.0,894.2 L427.8,891.9 L428.5,890.5 L429.2,892.5 L429.9,892.4 L430.6,889.1 L431.3,887.2 L432.1,889.8 L432.8,889.6 L433.5,887.4 L434.2,888.6 L434.9,887.9 L435.7,887.0 L436.4,885.3 L437.1,885.4 L437.8,884.3 L438.5,884.4 L439.3,883.5 L440.0,882.3 L440.7,881.9 L441.4,880.4 L442.1,880.7 L442.8,880.1 L443.6,877.1 L444.3,878.4 L445.0,877.7 L445.7,877.1 L446.4,877.6 L447.2,876.9 L447.9,875.5 L448.6,875.3 L449.3,875.7 L450.0,873.8 L450.7,874.8 L451.5,874.9 L452.2,874.7 L452.9,874.0 L453.6,871.7 L454.3,873.7 L455.1,872.1 L455.8,873.6 L456.5,871.4 L457.2,870.4 L457.9,871.2 L458.7,871.4 L459.4,870.8 L460.1,870.1 L460.8,870.3 L461.5,869.0 L462.2,870.3 L463.0,871.0 L463.7,870.8 L464.4,870.4 L465.1,870.2 L465.8,869.9 L466.6,869.7 L467.3,871.5 L468.0,869.5 L468.7,870.9 L469.4,871.7 L470.1,870.2 L470.9,870.1 L471.6,871.2 L472.3,871.6 L473.0,872.8 L473.7,869.9 L474.5,872.1 L475.2,874.4 L475.9,874.6 L476.6,874.3 L477.3,876.1 L478.1,875.2 L478.8,876.1 L479.5,875.1 L480.2,875.8 L480.9,879.1 L481.6,877.4 L482.4,879.7 L483.1,877.7 L483.8,878.9 L484.5,879.4 L485.2,881.8 L486.0,880.3 L486.7,881.0 L487.4,884.2 L488.1,884.2 L488.8,886.2 L489.5,886.7 L490.3,888.5 L491.0,886.4 L491.7,889.6 L492.4,889.7 L493.1,889.8 L493.9,891.8 L494.6,892.4 L495.3,893.4 L496.0,894.3 L496.7,895.8 L497.5,896.5 L498.2,897.2 L498.9,898.1 L499.6,898.3 L500.3,899.4 L501.0,899.6 L501.8,901.9 L502.5,902.7 L503.2,903.8 L503.9,904.7 L504.6,906.5 L505.4,906.2 L506.1,908.9 L506.8,909.5 L507.5,909.1 L508.2,910.1 L508.9,911.7 L509.7,914.0 L510.4,912.7 L511.1,913.1 L511.8,915.4 L512.5,914.6 L513.3,916.9 L514.0,918.1 L514.7,917.8 L515.4,919.1 L516.1,920.1 L516.9,922.3 L517.6,920.4 L518.3,923.3 L519.0,925.1 L519.7,924.1 L520.4,925.9 L521.2,926.1 L521.9,927.4 L522.6,927.9 L523.3,928.6 L524.0,930.2 L524.8,929.9 L525.5,931.6 L526.2,932.7 L526.9,933.1 L527.6,933.6 L528.3,934.7 L529.1,936.2 L529.8,936.0 L530.5,938.9 L531.2,939.3 L531.9,939.1 L532.7,941.2 L533.4,941.2 L534.1,942.0 L534.8,941.8 L535.5,944.2 L536.2,944.5 L537.0,944.3 L537.7,947.4 L538.4,943.5 L539.1,947.9 L539.8,949.1 L540.6,948.7 L541.3,950.3 L542.0,952.7 L542.7,951.4 L543.4,951.9 L544.2,953.7 L544.9,954.0 L545.6,953.8 L546.3,955.5 L547.0,955.3 L547.7,955.7 L548.5,957.1 L549.2,958.4 L549.9,957.9 L550.6,959.1 L551.3,958.2 L552.1,959.5 L552.8,959.8 L553.5,960.8 L554.2,960.8 L554.9,962.0 L555.6,961.4 L556.4,961.1 L557.1,963.3 L557.8,964.1 L558.5,964.1 L559.2,964.9 L560.0,965.8 L560.7,965.1 L561.4,965.4 L562.1,964.3 L562.8,965.9 L563.6,965.9 L564.3,965.7 L565.0,966.9 L565.7,965.4 L566.4,967.5 L567.1,967.5 L567.9,967.4 L568.6,967.0 L569.3,968.2 L570.0,967.3 L570.7,969.2 L571.5,966.9 L572.2,968.1 L572.9,968.5 L573.6,969.1 L574.3,969.1 L575.0,968.7 L575.8,969.6 L576.5,969.5 L577.2,969.1 L577.9,969.5 L578.6,968.0 L579.4,967.2 L580.1,968.4 L580.8,967.7 L581.5,969.2 L582.2,967.4 L583.0,967.5 L583.7,967.2 L584.4,965.9 L585.1,968.8 L585.8,966.6 L586.5,967.3 L587.3,965.4 L588.0,967.2 L588.7,966.0 L589.4,965.6 L590.1,964.8 L590.9,964.8 L591.6,965.3 L592.3,964.7 L593.0,963.2 L593.7,963.7 L594.4,964.4 L595.2,962.1 L595.9,962.0 L596.6,961.2 L597.3,962.1 L598.0,960.6 L598.8,961.8 L599.5,960.4 L600.2,961.1 L600.9,960.0 L601.6,959.6 L602.4,960.6 L603.1,959.5 L603.8,958.9 L604.5,957.7 L605.2,957.5 L605.9,958.6 L606.7,956.7 L607.4,956.0 L608.1,954.3 L608.8,957.2 L609.5,955.4 L610.3,953.3 L611.0,955.1 L611.7,954.3 L612.4,952.7 L613.1,952.1 L613.8,953.2 L614.6,952.0 L615.3,952.0 L616.0,950.4 L616.7,951.3 L617.4,949.5 L618.2,950.8 L618.9,949.7 L619.6,949.3 L620.3,948.1 L621.0,948.3 L621.8,949.3 L622.5,947.9 L623.2,947.5 L623.9,948.1 L624.6,948.0 L625.3,947.6 L626.1,948.8 L626.8,946.9 L627.5,946.7 L628.2,947.3 L628.9,945.8 L629.7,947.1 L630.4,945.9 L631.1,945.4 L631.8,942.8 L632.5,945.4 L633.2,943.2 L634.0,942.6 L634.7,943.2 L635.4,942.2 L636.1,943.9 L636.8,944.7 L637.6,942.0 L638.3,943.4 L639.0,942.4 L639.7,943.0 L640.4,940.7 L641.2,940.5 L641.9,941.8 L642.6,940.5 L643.3,941.0 L644.0,941.1 L644.7,940.7 L645.5,941.6 L646.2,941.0 L646.9,941.3 L647.6,941.7 L648.3,940.5 L649.1,941.7 L649.8,940.9 L650.5,940.3 L651.2,939.8 L651.9,941.7 L652.6,939.6 L653.4,941.3 L654.1,941.9 L654.8,942.4 L655.5,941.7 L656.2,941.8 L657.0,943.0 L657.7,943.8 L658.4,943.6 L659.1,944.1 L659.8,942.9 L660.6,942.8 L661.3,943.5 L662.0,944.2 L662.7,944.4 L663.4,944.0 L664.1,943.3 L664.9,942.4 L665.6,943.7 L666.3,945.1 L667.0,945.0 L667.7,945.9 L668.5,946.3 L669.2,945.9 L669.9,946.0 L670.6,944.9 L671.3,946.3 L672.0,945.5 L672.8,945.5 L673.5,947.2 L674.2,946.0 L674.9,947.2 L675.6,948.3 L676.4,948.4 L677.1,948.9 L677.8,949.8 L678.5,950.2 L679.2,950.9 L679.9,950.6 L680.7,951.9 L681.4,951.2 L682.1,952.9 L682.8,951.1 L683.5,951.2 L684.3,951.6 L685.0,952.0 L685.7,952.2 L686.4,953.7 L687.1,953.2 L687.9,953.4 L688.6,953.2 L689.3,953.6 L690.0,951.8 L690.7,954.1 L691.4,953.7 L692.2,953.7 L692.9,955.1 L693.6,955.8 L694.3,956.3 L695.0,955.1 L695.8,954.5 L696.5,955.1 L697.2,955.7 L697.9,956.2 L698.6,955.4 L699.3,958.2 L700.1,956.7 L700.8,957.4 L701.5,958.9 L702.2,955.9 L702.9,959.2 L703.7,959.4 L704.4,959.4 L705.1,957.6 L705.8,959.3 L706.5,958.4 L707.3,958.9 L708.0,959.3 L708.7,960.5 L709.4,960.5 L710.1,958.4 L710.8,961.3 L711.6,960.9 L712.3,960.3 L713.0,959.7 L713.7,960.7 L714.4,960.4 L715.2,962.3 L715.9,960.9 L716.6,961.4 L717.3,963.5 L718.0,961.0 L718.7,960.3 L719.5,963.2 L720.2,962.8 L720.9,961.5 L721.6,964.0 L722.3,964.6 L723.1,963.8 L723.8,963.6 L724.5,963.4 L725.2,962.6 L725.9,963.1 L726.7,964.6 L727.4,962.8 L728.1,961.9 L728.8,962.5 L729.5,962.8 L730.2,963.7 L731.0,963.1 L731.7,964.8 L732.4,963.8 L733.1,964.6 L733.8,963.7 L734.6,964.5 L735.3,965.8 L736.0,964.7 L736.7,963.9 L737.4,966.1 L738.1,965.7 L738.9,965.9 L739.6,966.6 L740.3,964.7 L741.0,964.5 L741.7,965.2 L742.5,965.6 L743.2,966.0 L743.9,965.8 L744.6,966.7 L745.3,965.2 L746.1,965.0 L746.8,965.0 L747.5,966.6 L748.2,966.2 L748.9,966.5 L749.6,965.1 L750.4,966.6 L751.1,968.7 L751.8,966.7 L752.7,966.7" stroke="#1f77b4"/>
<path d="M175.7,1048.0 L177.0,1048.0 L342.3,1048.0 L343.0,1048.0 L343.7,1047.8 L344.4,1047.7 L345.1,1047.4 L345.8,1047.0 L346.6,1046.3 L347.3,1045.2 L348.0,1043.9 L348.7,1042.2 L349.4,1039.7 L350.2,1036.3 L350.9,1032.1 L351.6,1027.3 L352.3,1020.5 L353.0,1011.9 L353.8,1002.5 L354.5,992.7 L355.2,981.8 L355.9,970.1 L356.6,957.7 L357.3,944.6 L358.1,930.6 L358.8,914.8 L359.5,898.3 L360.2,882.0 L360.9,867.2 L361.7,853.4 L362.4,840.1 L363.1,827.5 L363.8,815.5 L364.5,804.3 L365.2,793.9 L366.0,784.1 L366.7,774.8 L367.4,765.3 L368.1,755.8 L368.8,747.3 L369.6,740.5 L370.3,735.5 L371.0,730.9 L371.7,727.1 L372.4,724.9 L373.2,724.8 L373.9,726.0 L374.6,728.4 L375.3,731.6 L376.0,735.7 L376.7,740.3 L377.5,745.5 L378.2,751.0 L378.9,756.6 L379.6,762.3 L380.3,767.9 L381.1,773.2 L381.8,778.0 L382.5,782.7 L383.2,787.6 L383.9,792.7 L384.6,797.8 L385.4,803.0 L386.1,808.2 L386.8,813.2 L387.5,818.1 L388.2,822.7 L389.0,827.1 L389.7,831.3 L390.4,835.5 L391.1,839.5 L391.8,843.5 L392.5,847.3 L393.3,851.1 L394.0,854.7 L394.7,857.9 L395.4,861.0 L396.1,864.0 L396.9,866.8 L397.6,869.1 L398.3,871.9 L399.0,874.5 L399.7,877.1 L400.5,879.5 L401.2,881.1 L401.9,883.1 L402.6,884.7 L403.3,885.5 L404.0,886.5 L404.8,886.9 L405.5,887.2 L406.2,888.4 L406.9,888.3 L407.6,889.8 L408.4,889.8 L409.1,890.5 L409.8,890.6 L410.5,890.9 L411.2,891.6 L411.9,891.9 L412.7,891.9 L413.4,892.4 L414.1,893.2 L414.8,892.4 L415.5,891.9 L416.3,891.5 L417.0,891.5 L417.7,890.1 L418.4,891.2 L419.1,891.7 L419.9,890.0 L420.6,892.1 L421.3,890.2 L422.0,891.5 L422.7,890.7 L423.4,891.9 L424.2,889.3 L424.9,889.8 L425.6,890.1 L426.3,887.7 L427.0,888.3 L427.8,888.5 L428.5,889.3 L429.2,888.6 L429.9,888.6 L430.6,887.8 L431.3,887.7 L432.1,888.7 L432.8,888.6 L433.5,888.2 L434.2,888.2 L434.9,887.7 L435.7,887.0 L436.4,886.3 L437.1,886.0 L437.8,887.4 L438.5,886.4 L439.3,887.4 L440.0,884.8 L440.7,886.2 L441.4,885.3 L442.1,885.9 L442.8,885.5 L443.6,884.4 L444.3,884.6 L445.0,883.8 L445.7,885.4 L446.4,883.6 L447.2,884.7 L447.9,882.3 L448.6,883.8 L449.3,882.2 L450.0,883.6 L450.7,882.2 L451.5,883.1 L452.2,882.7 L452.9,882.3 L453.6,882.8 L454.3,882.3 L455.1,882.2 L455.8,881.9 L456.5,882.5 L457.2,883.5 L457.9,883.2 L458.7,882.2 L459.4,883.9 L460.1,881.4 L460.8,882.1 L461.5,882.2 L462.2,881.4 L463.0,881.1 L463.7,882.0 L464.4,883.1 L465.1,882.0 L465.8,881.9 L466.6,882.8 L467.3,881.0 L468.0,882.0 L468.7,884.2 L469.4,882.5 L470.1,883.7 L470.9,882.1 L471.6,883.1 L472.3,885.0 L473.0,885.1 L473.7,884.7 L474.5,885.7 L475.2,884.8 L475.9,886.0 L476.6,887.1 L477.3,886.8 L478.1,889.4 L478.8,888.2 L479.5,888.4 L480.2,889.9 L480.9,891.0 L481.6,890.3 L482.4,889.9 L483.1,892.1 L483.8,893.3 L484.5,891.3 L485.2,894.8 L486.0,893.4 L486.7,895.5 L487.4,895.0 L488.1,897.0 L488.8,896.2 L489.5,897.8 L490.3,900.1 L491.0,901.0 L491.7,899.9 L492.4,899.0 L493.1,901.3 L493.9,902.0 L494.6,903.2 L495.3,903.1 L496.0,904.4 L496.7,905.5 L497.5,907.4 L498.2,905.7 L498.9,906.4 L499.6,909.5 L500.3,907.2 L501.0,909.4 L501.8,911.1 L502.5,913.0 L503.2,912.0 L503.9,912.7 L504.6,914.4 L505.4,916.3 L506.1,914.1 L506.8,916.2 L507.5,916.8 L508.2,914.4 L508.9,915.9 L509.7,917.5 L510.4,919.3 L511.1,919.6 L511.8,923.0 L512.5,921.8 L513.3,923.4 L514.0,924.5 L514.7,925.4 L515.4,924.6 L516.1,925.5 L516.9,926.4 L517.6,926.5 L518.3,928.9 L519.0,930.1 L519.7,931.5 L520.4,931.1 L521.2,931.0 L521.9,933.0 L522.6,933.2 L523.3,936.0 L524.0,936.2 L524.8,937.7 L525.5,938.9 L526.2,936.7 L526.9,938.3 L527.6,940.4 L528.3,941.0 L529.1,941.5 L529.8,943.6 L530.5,943.0 L531.2,945.6 L531.9,945.6 L532.7,947.4 L533.4,948.0 L534.1,949.5 L534.8,950.2 L535.5,950.5 L536.2,951.2 L537.0,951.4 L537.7,951.6 L538.4,950.9 L539.1,952.2 L539.8,954.3 L540.6,954.1 L541.3,956.0 L542.0,954.8 L542.7,956.3 L543.4,958.7 L544.2,957.3 L544.9,957.5 L545.6,961.0 L546.3,960.1 L547.0,960.5 L547.7,962.3 L548.5,961.9 L549.2,962.6 L549.9,961.8 L550.6,962.5 L551.3,960.8 L552.1,964.2 L552.8,963.1 L553.5,964.5 L554.2,964.8 L554.9,966.7 L555.6,968.0 L556.4,967.4 L557.1,966.3 L557.8,966.4 L558.5,967.7 L559.2,967.9 L560.0,968.9 L560.7,967.4 L561.4,967.6 L562.1,969.2 L562.8,968.8 L563.6,969.7 L564.3,967.9 L565.0,969.4 L565.7,970.0 L566.4,970.3 L567.1,971.0 L567.9,972.3 L568.6,973.6 L569.3,974.0 L570.0,974.7 L570.7,972.7 L571.5,971.5 L572.2,974.8 L572.9,973.2 L573.6,973.3 L574.3,974.5 L575.0,973.7 L575.8,975.1 L576.5,973.3 L577.2,975.3 L577.9,974.7 L578.6,973.9 L579.4,974.7 L580.1,975.7 L580.8,974.3 L581.5,972.9 L582.2,973.0 L583.0,972.6 L583.7,973.6 L584.4,972.4 L585.1,971.5 L585.8,972.2 L586.5,970.6 L587.3,972.2 L588.0,972.9 L588.7,973.3 L589.4,970.9 L590.1,972.3 L590.9,971.0 L591.6,970.9 L592.3,970.0 L593.0,970.0 L593.7,971.2 L594.4,970.3 L595.2,969.3 L595.9,971.4 L596.6,969.1 L597.3,969.0 L598.0,968.9 L598.8,969.8 L599.5,969.2 L600.2,970.1 L600.9,968.3 L601.6,968.4 L602.4,967.9 L603.1,968.3 L603.8,967.3 L604.5,966.2 L605.2,967.8 L605.9,965.9 L606.7,968.6 L607.4,967.9 L608.1,965.8 L608.8,965.3 L609.5,964.4 L610.3,966.3 L611.0,964.6 L611.7,964.0 L612.4,962.8 L613.1,963.6 L613.8,962.5 L614.6,963.8 L615.3,963.0 L616.0,963.0 L616.7,961.5 L617.4,962.5 L618.2,962.2 L618.9,961.3 L619.6,959.6 L620.3,960.3 L621.0,960.1 L621.8,960.5 L622.5,959.1 L623.2,959.3 L623.9,957.8 L624.6,959.1 L625.3,960.3 L626.1,960.0 L626.8,959.9 L627.5,959.9 L628.2,957.4 L628.9,957.6 L629.7,959.0 L630.4,955.4 L631.1,956.7 L631.8,957.4 L632.5,956.3 L633.2,956.5 L634.0,957.2 L634.7,957.9 L635.4,956.8 L636.1,956.5 L636.8,959.0 L637.6,956.3 L638.3,956.0 L639.0,956.6 L639.7,956.3 L640.4,956.1 L641.2,956.4 L641.9,955.8 L642.6,954.0 L643.3,956.2 L644.0,954.7 L644.7,954.7 L645.5,955.7 L646.2,955.1 L646.9,956.1 L647.6,955.6 L648.3,955.2 L649.1,955.3 L649.8,956.2 L650.5,952.5 L651.2,955.8 L651.9,955.0 L652.6,955.2 L653.4,955.2 L654.1,953.1 L654.8,954.7 L655.5,953.5 L656.2,953.8 L657.0,955.6 L657.7,954.0 L658.4,955.7 L659.1,953.4 L659.8,956.3 L660.6,957.0 L661.3,958.2 L662.0,958.0 L662.7,957.7 L663.4,958.1 L664.1,958.3 L664.9,957.9 L665.6,957.6 L666.3,956.0 L667.0,958.8 L667.7,958.1 L668.5,959.1 L669.2,959.8 L669.9,959.5 L670.6,959.4 L671.3,958.5 L672.0,959.2 L672.8,959.3 L673.5,958.1 L674.2,958.8 L674.9,959.9 L675.6,959.5 L676.4,960.8 L677.1,959.9 L677.8,960.3 L678.5,961.2 L679.2,961.8 L679.9,959.4 L680.7,960.9 L681.4,958.1 L682.1,961.6 L682.8,960.7 L683.5,961.8 L684.3,961.6 L685.0,961.3 L685.7,963.1 L686.4,962.8 L687.1,962.4 L687.9,962.6 L688.6,962.6 L689.3,962.7 L690.0,963.3 L690.7,964.3 L691.4,965.0 L692.2,966.2 L692.9,966.3 L693.6,966.5 L694.3,965.6 L695.0,966.6 L695.8,967.5 L696.5,966.1 L697.2,967.5 L697.9,967.5 L698.6,966.9 L699.3,966.6 L700.1,969.0 L700.8,968.0 L701.5,967.1 L702.2,967.7 L702.9,968.4 L703.7,968.4 L704.4,967.1 L705.1,969.3 L705.8,968.4 L706.5,968.8 L707.3,970.1 L708.0,969.5 L708.7,970.4 L709.4,970.5 L710.1,970.9 L710.8,969.4 L711.6,970.7 L712.3,971.2 L713.0,971.6 L713.7,969.7 L714.4,970.9 L715.2,971.7 L715.9,972.4 L716.6,973.0 L717.3,971.5 L718.0,972.3 L718.7,973.7 L719.5,971.9 L720.2,972.4 L720.9,974.0 L721.6,974.1 L722.3,974.2 L723.1,973.8 L723.8,974.4 L724.5,975.8 L725.2,973.7 L725.9,975.2 L726.7,974.5 L727.4,974.7 L728.1,975.8 L728.8,975.4 L729.5,975.1 L730.2,974.9 L731.0,975.7 L731.7,976.8 L732.4,976.7 L733.1,977.6 L733.8,977.7 L734.6,979.1 L735.3,977.4 L736.0,978.9 L736.7,978.3 L737.4,977.8 L738.1,977.8 L738.9,976.7 L739.6,978.3 L740.3,980.0 L741.0,978.4 L741.7,979.1 L742.5,978.5 L743.2,979.6 L743.9,979.6 L744.6,979.8 L745.3,980.2 L746.1,981.5 L746.8,980.6 L747.5,980.1 L748.2,979.2 L748.9,980.6 L749.6,980.8 L750.4,979.9 L751.1,980.0 L751.8,979.3 L752.7,979.3" stroke="#ff7f0e"/>
<path d="M175.7,1048.0 L177.0,1048.0 L340.8,1048.0 L341.5,1047.9 L342.3,1047.8 L343.0,1047.6 L343.7,1047.3 L344.4,1046.9 L345.1,1046.0 L345.8,1044.7 L346.6,1043.1 L347.3,1041.2 L348.0,1038.3 L348.7,1034.3 L349.4,1029.4 L350.2,1023.7 L350.9,1016.2 L351.6,1006.2 L352.3,994.8 L353.0,983.0 L353.8,970.0 L354.5,956.0 L355.2,941.0 L355.9,925.1 L356.6,908.6 L357.3,890.0 L358.1,869.9 L358.8,849.5 L359.5,829.9 L360.2,812.3 L360.9,795.4 L361.7,779.3 L362.4,763.9 L363.1,749.4 L363.8,735.8 L364.5,723.1 L365.2,711.1 L366.0,699.6 L366.7,687.8 L367.4,676.2 L368.1,665.8 L368.8,657.8 L369.6,651.7 L370.3,646.0 L371.0,641.4 L371.7,638.8 L372.4,638.6 L373.2,640.4 L373.9,643.6 L374.6,648.2 L375.3,654.0 L376.0,660.7 L376.7,668.1 L377.5,676.0 L378.2,684.3 L378.9,692.7 L379.6,701.0 L380.3,709.1 L381.1,716.7 L381.8,724.3 L382.5,732.6 L383.2,741.4 L383.9,750.5 L384.6,759.8 L385.4,769.0 L386.1,778.1 L386.8,786.8 L387.5,795.0 L388.2,802.6 L389.0,809.6 L389.7,816.6 L390.4,823.3 L391.1,829.8 L391.8,836.2 L392.5,842.1 L393.3,848.2 L394.0,853.6 L394.7,859.1 L395.4,863.8 L396.1,868.9 L396.9,873.8 L397.6,878.9 L398.3,882.9 L399.0,887.4 L399.7,891.5 L400.5,895.1 L401.2,898.6 L401.9,901.6 L402.6,903.9 L403.3,905.8 L404.0,907.0 L404.8,909.7 L405.5,910.9 L406.2,912.2 L406.9,913.2 L407.6,914.2 L408.4,916.1 L409.1,917.2 L409.8,917.3 L410.5,917.7 L411.2,918.8 L411.9,919.7 L412.7,920.5 L413.4,920.7 L414.1,921.4 L414.8,921.5 L415.5,922.8 L416.3,922.7 L417.0,923.7 L417.7,923.8 L418.4,925.0 L419.1,923.8 L419.9,924.8 L420.6,925.3 L421.3,928.7 L422.0,927.9 L422.7,928.4 L423.4,927.5 L424.2,930.0 L424.9,927.5 L425.6,928.1 L426.3,930.0 L427.0,929.8 L427.8,929.9 L428.5,929.4 L429.2,929.6 L429.9,928.6 L430.6,930.5 L431.3,930.1 L432.1,930.6 L432.8,929.3 L433.5,930.7 L434.2,930.0 L434.9,932.2 L435.7,931.5 L436.4,932.5 L437.1,931.1 L437.8,932.0 L438.5,932.6 L439.3,932.8 L440.0,932.4 L440.7,933.3 L441.4,933.9 L442.1,932.7 L442.8,930.9 L443.6,933.4 L444.3,933.8 L445.0,934.4 L445.7,934.8 L446.4,933.1 L447.2,932.9 L447.9,934.1 L448.6,934.1 L449.3,934.4 L450.0,934.6 L450.7,936.5 L451.5,935.6 L452.2,935.4 L452.9,936.3 L453.6,935.9 L454.3,936.6 L455.1,936.2 L455.8,935.4 L456.5,936.7 L457.2,936.5 L457.9,936.0 L458.7,936.4 L459.4,935.7 L460.1,939.2 L460.8,936.7 L461.5,938.1 L462.2,937.9 L463.0,937.3 L463.7,937.5 L464.4,937.8 L465.1,938.9 L465.8,938.1 L466.6,940.0 L467.3,940.2 L468.0,940.0 L468.7,941.2 L469.4,938.8 L470.1,939.8 L470.9,938.9 L471.6,940.8 L472.3,941.3 L473.0,941.2 L473.7,941.3 L474.5,942.9 L475.2,942.2 L475.9,942.8 L476.6,941.8 L477.3,943.8 L478.1,942.6 L478.8,944.1 L479.5,944.9 L480.2,945.5 L480.9,946.3 L481.6,945.1 L482.4,945.0 L483.1,946.2 L483.8,946.1 L484.5,945.5 L485.2,947.1 L486.0,947.5 L486.7,948.4 L487.4,949.9 L488.1,948.0 L488.8,950.6 L489.5,949.1 L490.3,949.6 L491.0,948.9 L491.7,950.6 L492.4,951.7 L493.1,951.2 L493.9,952.1 L494.6,951.8 L495.3,952.3 L496.0,953.0 L496.7,953.2 L497.5,954.2 L498.2,954.3 L498.9,957.0 L499.6,955.8 L500.3,957.3 L501.0,955.7 L501.8,955.9 L502.5,959.1 L503.2,957.5 L503.9,957.6 L504.6,958.6 L505.4,957.5 L506.1,958.7 L506.8,960.3 L507.5,959.5 L508.2,959.5 L508.9,959.9 L509.7,961.6 L510.4,960.5 L511.1,961.1 L511.8,963.5 L512.5,963.6 L513.3,964.0 L514.0,964.7 L514.7,963.6 L515.4,965.1 L516.1,966.2 L516.9,966.3 L517.6,966.0 L518.3,964.2 L519.0,966.5 L519.7,966.5 L520.4,967.1 L521.2,968.1 L521.9,966.6 L522.6,969.9 L523.3,969.4 L524.0,971.0 L524.8,971.1 L525.5,973.0 L526.2,970.9 L526.9,972.8 L527.6,973.2 L528.3,974.5 L529.1,974.6 L529.8,974.1 L530.5,974.0 L531.2,974.8 L531.9,975.0 L532.7,975.6 L533.4,976.3 L534.1,975.6 L534.8,975.6 L535.5,976.6 L536.2,976.1 L537.0,975.9 L537.7,977.1 L538.4,978.2 L539.1,977.7 L539.8,977.5 L540.6,979.8 L541.3,980.2 L542.0,980.4 L542.7,979.8 L543.4,982.7 L544.2,981.3 L544.9,980.7 L545.6,982.7 L546.3,981.0 L547.0,982.2 L547.7,983.0 L548.5,982.5 L549.2,984.5 L549.9,984.3 L550.6,982.3 L551.3,984.7 L552.1,982.5 L552.8,984.5 L553.5,983.9 L554.2,984.9 L554.9,986.6 L555.6,985.3 L556.4,984.8 L557.1,986.3 L557.8,986.7 L558.5,985.4 L559.2,986.0 L560.0,987.1 L560.7,986.4 L561.4,985.3 L562.1,986.1 L562.8,984.9 L563.6,984.4 L564.3,986.0 L565.0,987.0 L565.7,986.9 L566.4,985.9 L567.1,985.5 L567.9,985.9 L568.6,985.3 L569.3,986.0 L570.0,985.1 L570.7,985.8 L571.5,985.2 L572.2,985.9 L572.9,985.9 L573.6,985.1 L574.3,985.3 L575.0,985.5 L575.8,984.0 L576.5,985.0 L577.2,982.6 L577.9,984.4 L578.6,985.9 L579.4,984.8 L580.1,985.1 L580.8,985.8 L581.5,983.9 L582.2,985.4 L583.0,987.3 L583.7,983.6 L584.4,984.9 L585.1,982.7 L585.8,984.4 L586.5,984.5 L587.3,981.8 L588.0,984.1 L588.7,982.8 L589.4,981.7 L590.1,983.2 L590.9,983.6 L591.6,983.6 L592.3,982.5 L593.0,983.6 L593.7,982.4 L594.4,982.2 L595.2,979.9 L595.9,982.0 L596.6,982.2 L597.3,980.9 L598.0,981.6 L598.8,980.6 L599.5,980.4 L600.2,979.1 L600.9,980.1 L601.6,979.6 L602.4,981.0 L603.1,979.4 L603.8,976.9 L604.5,978.8 L605.2,978.8 L605.9,979.2 L606.7,977.2 L607.4,977.7 L608.1,978.6 L608.8,977.2 L609.5,977.3 L610.3,976.6 L611.0,977.5 L611.7,975.4 L612.4,976.5 L613.1,976.9 L613.8,977.1 L614.6,976.9 L615.3,975.6 L616.0,976.6 L616.7,975.2 L617.4,975.5 L618.2,974.4 L618.9,974.2 L619.6,974.6 L620.3,976.2 L621.0,974.2 L621.8,973.3 L622.5,973.4 L623.2,973.2 L623.9,974.0 L624.6,973.6 L625.3,974.0 L626.1,971.6 L626.8,972.9 L627.5,973.5 L628.2,973.8 L628.9,972.9 L629.7,971.5 L630.4,972.0 L631.1,972.9 L631.8,970.9 L632.5,970.8 L633.2,971.0 L634.0,970.9 L634.7,970.3 L635.4,970.9 L636.1,970.8 L636.8,972.0 L637.6,969.9 L638.3,971.0 L639.0,969.5 L639.7,973.3 L640.4,970.5 L641.2,970.1 L641.9,971.0 L642.6,970.1 L643.3,969.7 L644.0,969.9 L644.7,970.9 L645.5,971.3 L646.2,970.0 L646.9,970.0 L647.6,971.4 L648.3,971.9 L649.1,971.7 L649.8,970.5 L650.5,972.3 L651.2,972.7 L651.9,971.4 L652.6,972.6 L653.4,971.9 L654.1,971.6 L654.8,971.3 L655.5,972.4 L656.2,970.9 L657.0,973.3 L657.7,971.2 L658.4,973.2 L659.1,973.3 L659.8,971.7 L660.6,973.0 L661.3,973.4 L662.0,973.1 L662.7,972.7 L663.4,973.1 L664.1,972.9 L664.9,972.4 L665.6,973.9 L666.3,974.0 L667.0,974.6 L667.7,973.2 L668.5,973.8 L669.2,973.6 L669.9,974.8 L670.6,975.2 L671.3,974.4 L672.0,975.0 L672.8,973.9 L673.5,974.0 L674.2,975.4 L674.9,975.1 L675.6,975.3 L676.4,973.8 L677.1,973.4 L677.8,976.1 L678.5,976.4 L679.2,978.9 L679.9,977.2 L680.7,977.6 L681.4,978.6 L682.1,977.0 L682.8,979.4 L683.5,978.5 L684.3,978.0 L685.0,979.1 L685.7,977.6 L686.4,977.7 L687.1,980.2 L687.9,980.1 L688.6,978.2 L689.3,979.0 L690.0,980.2 L690.7,979.6 L691.4,979.9 L692.2,980.2 L692.9,979.7 L693.6,980.5 L694.3,979.9 L695.0,980.4 L695.8,980.9 L696.5,980.5 L697.2,980.2 L697.9,981.3 L698.6,983.1 L699.3,981.3 L700.1,982.3 L700.8,981.7 L701.5,983.5 L702.2,983.4 L702.9,983.7 L703.7,982.6 L704.4,983.8 L705.1,984.3 L705.8,983.5 L706.5,984.2 L707.3,983.8 L708.0,984.0 L708.7,984.0 L709.4,982.8 L710.1,985.0 L710.8,985.1 L711.6,985.6 L712.3,985.2 L713.0,986.9 L713.7,986.5 L714.4,986.3 L715.2,985.9 L715.9,986.3 L716.6,986.9 L717.3,987.5 L718.0,986.7 L718.7,986.1 L719.5,987.2 L720.2,987.8 L720.9,988.1 L721.6,989.6 L722.3,989.1 L723.1,988.9 L723.8,988.8 L724.5,989.2 L725.2,990.2 L725.9,988.0 L726.7,987.3 L727.4,989.1 L728.1,988.5 L728.8,988.6 L729.5,988.3 L730.2,990.2 L731.0,987.9 L731.7,990.3 L732.4,988.6 L733.1,989.8 L733.8,990.3 L734.6,990.1 L735.3,989.2 L736.0,990.7 L736.7,990.4 L737.4,990.7 L738.1,991.9 L738.9,989.6 L739.6,990.7 L740.3,991.5 L741.0,990.7 L741.7,992.4 L742.5,992.0 L743.2,990.6 L743.9,991.3 L744.6,993.8 L745.3,994.6 L746.1,992.6 L746.8,991.2 L747.5,992.3 L748.2,991.9 L748.9,991.1 L749.6,992.4 L750.4,991.7 L751.1,991.1 L751.8,991.1 L752.7,991.1" stroke="#2ca02c"/>
<path d="M175.7,1048.0 L177.0,1048.0 L340.8,1048.0 L341.5,1048.0 L342.3,1047.8 L343.0,1047.6 L343.7,1047.4 L344.4,1047.0 L345.1,1046.2 L345.8,1045.0 L346.6,1043.5 L347.3,1041.8 L348.0,1039.1 L348.7,1035.5 L349.4,1030.9 L350.2,1025.7 L350.9,1018.8 L351.6,1009.7 L352.3,999.2 L353.0,988.3 L353.8,976.5 L354.5,963.6 L355.2,949.8 L355.9,935.3 L356.6,920.1 L357.3,903.1 L358.1,884.6 L358.8,865.8 L359.5,847.9 L360.2,831.7 L360.9,816.3 L361.7,801.4 L362.4,787.3 L363.1,774.0 L363.8,761.5 L364.5,749.9 L365.2,738.9 L366.0,728.3 L366.7,717.5 L367.4,706.9 L368.1,697.3 L368.8,689.9 L369.6,684.4 L370.3,679.1 L371.0,674.9 L371.7,672.5 L372.4,672.4 L373.2,673.9 L373.9,676.8 L374.6,680.8 L375.3,685.9 L376.0,691.7 L376.7,698.3 L377.5,705.3 L378.2,712.6 L378.9,720.0 L379.6,727.3 L380.3,734.5 L381.1,741.2 L381.8,748.0 L382.5,755.3 L383.2,763.1 L383.9,771.1 L384.6,779.3 L385.4,787.6 L386.1,795.7 L386.8,803.5 L387.5,811.0 L388.2,817.9 L389.0,824.5 L389.7,831.1 L390.4,837.6 L391.1,843.8 L391.8,850.0 L392.5,856.0 L393.3,861.4 L394.0,866.8 L394.7,871.6 L395.4,876.3 L396.1,880.6 L396.9,885.1 L397.6,889.4 L398.3,893.2 L399.0,896.9 L399.7,900.2 L400.5,902.9 L401.2,906.4 L401.9,907.9 L402.6,910.0 L403.3,911.0 L404.0,912.6 L404.8,913.8 L405.5,914.5 L406.2,915.7 L406.9,916.3 L407.6,917.5 L408.4,917.6 L409.1,919.0 L409.8,919.7 L410.5,920.0 L411.2,920.7 L411.9,921.5 L412.7,921.9 L413.4,922.1 L414.1,921.5 L414.8,921.9 L415.5,922.3 L416.3,921.8 L417.0,922.5 L417.7,921.4 L418.4,922.5 L419.1,920.6 L419.9,921.2 L420.6,920.8 L421.3,920.7 L422.0,921.2 L422.7,921.3 L423.4,920.1 L424.2,920.7 L424.9,921.4 L425.6,919.8 L426.3,921.6 L427.0,918.5 L427.8,919.7 L428.5,919.4 L429.2,917.5 L429.9,917.3 L430.6,919.7 L431.3,918.9 L432.1,918.4 L432.8,917.9 L433.5,919.1 L434.2,918.4 L434.9,917.1 L435.7,917.0 L436.4,916.1 L437.1,915.9 L437.8,917.0 L438.5,916.8 L439.3,918.3 L440.0,916.0 L440.7,914.5 L441.4,916.8 L442.1,914.7 L442.8,914.7 L443.6,915.1 L444.3,914.7 L445.0,914.9 L445.7,915.9 L446.4,915.0 L447.2,914.6 L447.9,914.0 L448.6,913.8 L449.3,915.0 L450.0,913.3 L450.7,914.2 L451.5,913.3 L452.2,912.6 L452.9,913.0 L453.6,912.7 L454.3,912.3 L455.1,912.9 L455.8,913.0 L456.5,912.9 L457.2,911.8 L457.9,912.7 L458.7,911.4 L459.4,912.7 L460.1,915.6 L460.8,913.5 L461.5,911.4 L462.2,912.8 L463.0,913.5 L463.7,913.9 L464.4,912.3 L465.1,912.9 L465.8,913.9 L466.6,914.5 L467.3,914.1 L468.0,914.5 L468.7,916.4 L469.4,915.1 L470.1,915.8 L470.9,915.9 L471.6,915.6 L472.3,916.5 L473.0,919.5 L473.7,916.2 L474.5,916.8 L475.2,918.1 L475.9,918.6 L476.6,918.8 L477.3,920.5 L478.1,919.7 L478.8,920.5 L479.5,921.1 L480.2,922.4 L480.9,922.6 L481.6,921.0 L482.4,921.3 L483.1,922.2 L483.8,922.9 L484.5,924.0 L485.2,923.1 L486.0,922.9 L486.7,925.9 L487.4,923.7 L488.1,927.5 L488.8,926.2 L489.5,925.9 L490.3,927.5 L491.0,928.3 L491.7,927.8 L492.4,928.0 L493.1,929.6 L493.9,928.8 L494.6,931.3 L495.3,930.0 L496.0,932.2 L496.7,932.5 L497.5,932.8 L498.2,933.4 L498.9,932.9 L499.6,933.2 L500.3,935.0 L501.0,936.2 L501.8,937.5 L502.5,937.6 L503.2,937.9 L503.9,938.6 L504.6,939.3 L505.4,939.8 L506.1,940.2 L506.8,942.5 L507.5,942.9 L508.2,941.7 L508.9,942.5 L509.7,944.3 L510.4,943.5 L511.1,945.4 L511.8,946.0 L512.5,947.6 L513.3,945.7 L514.0,947.1 L514.7,947.1 L515.4,948.0 L516.1,949.3 L516.9,949.6 L517.6,949.5 L518.3,951.1 L519.0,951.7 L519.7,951.6 L520.4,951.7 L521.2,952.2 L521.9,951.8 L522.6,954.3 L523.3,954.1 L524.0,956.4 L524.8,956.0 L525.5,956.8 L526.2,956.0 L526.9,958.1 L527.6,959.5 L528.3,959.4 L529.1,960.2 L529.8,961.4 L530.5,962.0 L531.2,963.5 L531.9,960.5 L532.7,963.2 L533.4,962.7 L534.1,964.6 L534.8,965.3 L535.5,965.2 L536.2,965.3 L537.0,965.1 L537.7,967.4 L538.4,966.9 L539.1,966.8 L539.8,969.3 L540.6,968.1 L541.3,970.0 L542.0,969.5 L542.7,969.7 L543.4,968.9 L544.2,971.8 L544.9,971.3 L545.6,971.0 L546.3,973.5 L547.0,972.8 L547.7,973.9 L548.5,974.0 L549.2,972.9 L549.9,973.1 L550.6,971.8 L551.3,973.2 L552.1,973.7 L552.8,975.0 L553.5,975.8 L554.2,975.7 L554.9,978.3 L555.6,975.2 L556.4,977.3 L557.1,977.9 L557.8,977.6 L558.5,976.6 L559.2,976.6 L560.0,978.1 L560.7,977.5 L561.4,978.4 L562.1,979.4 L562.8,978.8 L563.6,978.8 L564.3,980.3 L565.0,978.1 L565.7,980.6 L566.4,979.3 L567.1,980.8 L567.9,980.9 L568.6,981.1 L569.3,980.3 L570.0,982.0 L570.7,981.2 L571.5,979.9 L572.2,981.7 L572.9,980.9 L573.6,980.3 L574.3,981.1 L575.0,980.0 L575.8,980.5 L576.5,979.4 L577.2,979.6 L577.9,980.7 L578.6,978.9 L579.4,980.2 L580.1,980.4 L580.8,981.2 L581.5,980.6 L582.2,980.1 L583.0,979.5 L583.7,978.3 L584.4,979.9 L585.1,979.0 L585.8,977.5 L586.5,978.3 L587.3,978.2 L588.0,977.1 L588.7,977.8 L589.4,977.6 L590.1,977.9 L590.9,976.3 L591.6,976.4 L592.3,977.6 L593.0,976.5 L593.7,978.1 L594.4,976.1 L595.2,976.2 L595.9,976.4 L596.6,976.7 L597.3,977.4 L598.0,975.1 L598.8,975.5 L599.5,975.2 L600.2,974.0 L600.9,975.2 L601.6,974.6 L602.4,974.5 L603.1,974.4 L603.8,971.1 L604.5,973.0 L605.2,973.2 L605.9,971.7 L606.7,975.1 L607.4,972.4 L608.1,972.2 L608.8,972.5 L609.5,971.4 L610.3,972.9 L611.0,970.7 L611.7,969.4 L612.4,971.6 L613.1,970.5 L613.8,969.3 L614.6,968.7 L615.3,968.9 L616.0,967.8 L616.7,967.3 L617.4,968.2 L618.2,966.9 L618.9,967.6 L619.6,968.1 L620.3,968.4 L621.0,965.0 L621.8,966.0 L622.5,964.5 L623.2,967.1 L623.9,965.4 L624.6,964.3 L625.3,964.0 L626.1,963.4 L626.8,963.6 L627.5,963.9 L628.2,965.3 L628.9,964.2 L629.7,961.9 L630.4,962.4 L631.1,961.4 L631.8,962.7 L632.5,961.8 L633.2,962.2 L634.0,961.1 L634.7,960.8 L635.4,960.3 L636.1,959.0 L636.8,961.3 L637.6,960.1 L638.3,961.5 L639.0,959.3 L639.7,960.9 L640.4,960.6 L641.2,960.4 L641.9,958.8 L642.6,959.7 L643.3,960.5 L644.0,960.5 L644.7,959.4 L645.5,960.0 L646.2,959.7 L646.9,959.5 L647.6,959.1 L648.3,960.1 L649.1,959.0 L649.8,957.6 L650.5,960.3 L651.2,957.8 L651.9,956.7 L652.6,958.9 L653.4,957.4 L654.1,959.0 L654.8,957.8 L655.5,958.7 L656.2,958.3 L657.0,959.7 L657.7,959.8 L658.4,959.9 L659.1,960.2 L659.8,960.1 L660.6,959.8 L661.3,960.7 L662.0,960.1 L662.7,960.1 L663.4,962.9 L664.1,961.2 L664.9,961.8 L665.6,962.6 L666.3,962.8 L667.0,962.5 L667.7,962.5 L668.5,961.6 L669.2,963.1 L669.9,961.9 L670.6,963.9 L671.3,962.8 L672.0,962.8 L672.8,964.6 L673.5,962.9 L674.2,962.1 L674.9,964.3 L675.6,963.0 L676.4,963.7 L677.1,963.2 L677.8,963.7 L678.5,964.3 L679.2,963.8 L679.9,963.9 L680.7,965.1 L681.4,964.2 L682.1,964.6 L682.8,965.2 L683.5,966.4 L684.3,964.1 L685.0,965.0 L685.7,968.0 L686.4,967.2 L687.1,967.1 L687.9,966.2 L688.6,966.3 L689.3,967.8 L690.0,967.2 L690.7,967.4 L691.4,969.3 L692.2,967.9 L692.9,968.8 L693.6,968.7 L694.3,968.9 L695.0,970.3 L695.8,969.9 L696.5,969.2 L697.2,969.4 L697.9,969.9 L698.6,969.2 L699.3,970.7 L700.1,971.8 L700.8,971.3 L701.5,971.6 L702.2,971.7 L702.9,970.8 L703.7,971.1 L704.4,970.7 L705.1,971.2 L705.8,972.2 L706.5,971.2 L707.3,973.0 L708.0,972.5 L708.7,974.0 L709.4,973.7 L710.1,974.4 L710.8,974.0 L711.6,973.0 L712.3,972.6 L713.0,974.3 L713.7,975.6 L714.4,974.7 L715.2,975.0 L715.9,976.1 L716.6,976.1 L717.3,976.3 L718.0,976.8 L718.7,975.6 L719.5,977.6 L720.2,978.3 L720.9,977.5 L721.6,978.3 L722.3,978.8 L723.1,978.7 L723.8,977.1 L724.5,977.0 L725.2,977.2 L725.9,977.7 L726.7,978.6 L727.4,977.3 L728.1,979.4 L728.8,978.6 L729.5,979.8 L730.2,978.9 L731.0,978.6 L731.7,977.6 L732.4,981.3 L733.1,978.0 L733.8,979.7 L734.6,979.2 L735.3,979.0 L736.0,980.5 L736.7,979.9 L737.4,979.5 L738.1,980.0 L738.9,980.8 L739.6,979.9 L740.3,980.2 L741.0,982.2 L741.7,979.8 L742.5,981.1 L743.2,983.2 L743.9,982.0 L744.6,979.5 L745.3,979.5 L746.1,980.3 L746.8,982.2 L747.5,981.1 L748.2,980.4 L748.9,981.1 L749.6,982.4 L750.4,983.0 L751.1,981.9 L751.8,983.0 L752.7,983.0" stroke="#d62728"/>
<path d="M175.7,1048.0 L177.0,1048.0 L341.5,1048.0 L342.3,1048.0 L343.0,1047.8 L343.7,1047.6 L344.4,1047.4 L345.1,1047.0 L345.8,1046.2 L346.6,1045.1 L347.3,1043.6 L348.0,1041.9 L348.7,1039.3 L349.4,1035.7 L350.2,1031.3 L350.9,1026.2 L351.6,1019.4 L352.3,1010.4 L353.0,1000.2 L353.8,989.5 L354.5,977.9 L355.2,965.3 L355.9,951.8 L356.6,937.6 L357.3,922.7 L358.1,906.0 L358.8,887.9 L359.5,869.6 L360.2,852.0 L360.9,836.1 L361.7,821.0 L362.4,806.5 L363.1,792.6 L363.8,779.6 L364.5,767.4 L365.2,755.9 L366.0,745.2 L366.7,734.9 L367.4,724.3 L368.1,713.8 L368.8,704.5 L369.6,697.3 L370.3,691.8 L371.0,686.7 L371.7,682.6 L372.4,680.2 L373.2,680.0 L373.9,681.5 L374.6,684.4 L375.3,688.3 L376.0,693.3 L376.7,699.1 L377.5,705.4 L378.2,712.3 L378.9,719.4 L379.6,726.7 L380.3,733.9 L381.1,740.8 L381.8,747.3 L382.5,753.9 L383.2,761.0 L383.9,768.5 L384.6,776.2 L385.4,784.1 L386.1,792.0 L386.8,799.7 L387.5,807.2 L388.2,814.4 L389.0,821.0 L389.7,827.3 L390.4,833.5 L391.1,839.7 L391.8,845.7 L392.5,851.5 L393.3,857.1 L394.0,862.4 L394.7,867.3 L395.4,872.1 L396.1,876.3 L396.9,880.3 L397.6,883.7 L398.3,887.6 L399.0,891.1 L399.7,894.4 L400.5,897.1 L401.2,900.2 L401.9,902.8 L402.6,904.7 L403.3,907.1 L404.0,908.6 L404.8,910.2 L405.5,912.0 L406.2,913.6 L406.9,914.5 L407.6,916.5 L408.4,918.3 L409.1,919.9 L409.8,920.3 L410.5,921.4 L411.2,921.9 L411.9,923.2 L412.7,924.3 L413.4,925.1 L414.1,925.4 L414.8,925.7 L415.5,926.7 L416.3,926.8 L417.0,926.4 L417.7,927.8 L418.4,929.8 L419.1,928.3 L419.9,929.6 L420.6,931.1 L421.3,930.3 L422.0,931.3 L422.7,932.4 L423.4,933.0 L424.2,933.6 L424.9,933.3 L425.6,932.6 L426.3,934.0 L427.0,933.3 L427.8,932.1 L428.5,934.8 L429.2,933.8 L429.9,934.3 L430.6,935.5 L431.3,935.6 L432.1,935.1 L432.8,934.6 L433.5,935.5 L434.2,935.2 L434.9,934.6 L435.7,934.7 L436.4,934.8 L437.1,935.3 L437.8,935.9 L438.5,934.9 L439.3,935.9 L440.0,936.6 L440.7,936.5 L441.4,937.9 L442.1,937.2 L442.8,936.0 L443.6,936.2 L444.3,935.8 L445.0,937.2 L445.7,938.4 L446.4,935.4 L447.2,936.2 L447.9,938.2 L448.6,936.4 L449.3,937.6 L450.0,939.2 L450.7,938.2 L451.5,938.3 L452.2,936.9 L452.9,939.4 L453.6,938.9 L454.3,938.6 L455.1,939.0 L455.8,939.9 L456.5,939.2 L457.2,938.7 L457.9,939.1 L458.7,940.5 L459.4,940.8 L460.1,940.0 L460.8,940.8 L461.5,940.8 L462.2,941.9 L463.0,939.1 L463.7,940.4 L464.4,942.5 L465.1,941.4 L465.8,941.1 L466.6,944.6 L467.3,943.5 L468.0,943.4 L468.7,942.9 L469.4,943.6 L470.1,943.7 L470.9,943.9 L471.6,942.6 L472.3,942.5 L473.0,945.1 L473.7,945.7 L474.5,943.1 L475.2,946.9 L475.9,946.9 L476.6,946.4 L477.3,946.2 L478.1,946.2 L478.8,946.8 L479.5,948.5 L480.2,947.4 L480.9,948.0 L481.6,946.9 L482.4,948.8 L483.1,950.3 L483.8,950.5 L484.5,948.5 L485.2,950.6 L486.0,952.7 L486.7,952.1 L487.4,952.3 L488.1,951.7 L488.8,954.2 L489.5,953.3 L490.3,953.3 L491.0,954.5 L491.7,954.3 L492.4,952.5 L493.1,952.9 L493.9,953.9 L494.6,954.5 L495.3,954.4 L496.0,956.2 L496.7,956.4 L497.5,957.7 L498.2,957.2 L498.9,957.5 L499.6,955.6 L500.3,958.5 L501.0,957.4 L501.8,958.2 L502.5,960.0 L503.2,959.3 L503.9,962.8 L504.6,961.4 L505.4,960.6 L506.1,964.0 L506.8,963.1 L507.5,961.5 L508.2,963.0 L508.9,964.2 L509.7,963.9 L510.4,964.9 L511.1,964.0 L511.8,964.9 L512.5,966.1 L513.3,966.9 L514.0,966.5 L514.7,965.6 L515.4,967.0 L516.1,967.0 L516.9,968.2 L517.6,969.5 L518.3,969.5 L519.0,969.0 L519.7,970.5 L520.4,971.9 L521.2,973.0 L521.9,971.6 L522.6,972.5 L523.3,973.1 L524.0,973.5 L524.8,973.2 L525.5,973.6 L526.2,973.5 L526.9,974.1 L527.6,974.3 L528.3,975.1 L529.1,976.8 L529.8,977.0 L530.5,977.2 L531.2,978.4 L531.9,978.2 L532.7,978.3 L533.4,980.3 L534.1,981.3 L534.8,978.8 L535.5,979.9 L536.2,979.9 L537.0,982.0 L537.7,979.5 L538.4,980.7 L539.1,981.8 L539.8,982.5 L540.6,982.4 L541.3,982.5 L542.0,983.1 L542.7,984.2 L543.4,982.6 L544.2,984.2 L544.9,984.5 L545.6,984.9 L546.3,987.4 L547.0,984.5 L547.7,985.3 L548.5,985.4 L549.2,985.3 L549.9,986.5 L550.6,985.1 L551.3,986.9 L552.1,987.5 L552.8,987.8 L553.5,986.8 L554.2,985.6 L554.9,986.8 L555.6,987.4 L556.4,985.0 L557.1,987.1 L557.8,985.3 L558.5,986.6 L559.2,987.6 L560.0,987.8 L560.7,987.1 L561.4,987.1 L562.1,988.3 L562.8,987.3 L563.6,986.3 L564.3,988.4 L565.0,989.1 L565.7,988.9 L566.4,988.9 L567.1,988.1 L567.9,988.1 L568.6,989.0 L569.3,987.3 L570.0,990.4 L570.7,989.5 L571.5,986.6 L572.2,987.6 L572.9,987.8 L573.6,987.6 L574.3,986.8 L575.0,987.5 L575.8,987.8 L576.5,988.7 L577.2,987.3 L577.9,988.0 L578.6,988.0 L579.4,987.7 L580.1,986.9 L580.8,987.1 L581.5,986.4 L582.2,988.3 L583.0,987.2 L583.7,985.3 L584.4,986.8 L585.1,986.2 L585.8,985.8 L586.5,985.4 L587.3,986.1 L588.0,988.1 L588.7,987.1 L589.4,986.7 L590.1,987.1 L590.9,986.5 L591.6,986.7 L592.3,986.4 L593.0,984.7 L593.7,985.0 L594.4,985.5 L595.2,985.8 L595.9,985.1 L596.6,985.2 L597.3,985.1 L598.0,984.2 L598.8,983.9 L599.5,983.2 L600.2,982.8 L600.9,982.6 L601.6,983.5 L602.4,983.3 L603.1,982.5 L603.8,983.0 L604.5,982.7 L605.2,984.5 L605.9,984.4 L606.7,981.0 L607.4,981.1 L608.1,980.0 L608.8,980.4 L609.5,980.8 L610.3,980.8 L611.0,982.1 L611.7,980.2 L612.4,981.1 L613.1,979.6 L613.8,979.6 L614.6,979.0 L615.3,978.1 L616.0,979.2 L616.7,978.9 L617.4,979.2 L618.2,978.7 L618.9,976.9 L619.6,978.6 L620.3,977.2 L621.0,977.0 L621.8,976.7 L622.5,976.3 L623.2,977.6 L623.9,976.3 L624.6,974.9 L625.3,976.8 L626.1,976.1 L626.8,976.5 L627.5,975.5 L628.2,976.3 L628.9,973.5 L629.7,975.2 L630.4,975.8 L631.1,972.9 L631.8,973.5 L632.5,973.9 L633.2,974.0 L634.0,975.3 L634.7,974.8 L635.4,973.9 L636.1,973.5 L636.8,973.5 L637.6,974.2 L638.3,974.4 L639.0,973.7 L639.7,972.5 L640.4,972.2 L641.2,973.9 L641.9,973.8 L642.6,972.3 L643.3,972.8 L644.0,973.1 L644.7,975.1 L645.5,974.2 L646.2,974.4 L646.9,973.9 L647.6,975.4 L648.3,972.9 L649.1,973.2 L649.8,973.2 L650.5,974.8 L651.2,973.8 L651.9,973.0 L652.6,975.9 L653.4,974.3 L654.1,974.4 L654.8,975.5 L655.5,974.3 L656.2,975.4 L657.0,973.7 L657.7,974.1 L658.4,974.3 L659.1,973.1 L659.8,974.3 L660.6,974.0 L661.3,976.1 L662.0,975.8 L662.7,974.5 L663.4,974.9 L664.1,975.7 L664.9,975.1 L665.6,976.9 L666.3,975.9 L667.0,977.2 L667.7,976.2 L668.5,977.2 L669.2,977.4 L669.9,977.0 L670.6,975.7 L671.3,978.2 L672.0,978.2 L672.8,977.0 L673.5,978.4 L674.2,976.6 L674.9,978.1 L675.6,978.4 L676.4,978.6 L677.1,977.7 L677.8,978.7 L678.5,979.2 L679.2,979.7 L679.9,981.5 L680.7,980.9 L681.4,979.0 L682.1,979.5 L682.8,980.5 L683.5,980.2 L684.3,981.3 L685.0,981.2 L685.7,983.0 L686.4,982.1 L687.1,983.4 L687.9,982.9 L688.6,982.7 L689.3,983.5 L690.0,982.6 L690.7,982.9 L691.4,983.2 L692.2,982.7 L692.9,985.3 L693.6,985.7 L694.3,984.0 L695.0,984.0 L695.8,982.7 L696.5,984.0 L697.2,984.0 L697.9,985.9 L698.6,984.6 L699.3,984.6 L700.1,986.4 L700.8,987.0 L701.5,986.5 L702.2,986.2 L702.9,989.3 L703.7,986.8 L704.4,987.1 L705.1,987.5 L705.8,987.2 L706.5,987.3 L707.3,988.9 L708.0,987.8 L708.7,988.4 L709.4,989.1 L710.1,988.2 L710.8,987.3 L711.6,990.1 L712.3,990.5 L713.0,990.4 L713.7,987.6 L714.4,989.9 L715.2,989.7 L715.9,990.5 L716.6,990.5 L717.3,991.2 L718.0,989.8 L718.7,990.1 L719.5,992.3 L720.2,991.9 L720.9,991.9 L721.6,991.4 L722.3,991.7 L723.1,990.7 L723.8,990.4 L724.5,990.6 L725.2,990.4 L725.9,992.7 L726.7,992.4 L727.4,991.0 L728.1,991.7 L728.8,992.0 L729.5,993.7 L730.2,993.6 L731.0,991.1 L731.7,991.5 L732.4,991.9 L733.1,992.1 L733.8,993.1 L734.6,991.5 L735.3,991.1 L736.0,990.9 L736.7,992.2 L737.4,992.9 L738.1,993.9 L738.9,992.4 L739.6,992.0 L740.3,994.2 L741.0,993.5 L741.7,993.5 L742.5,993.9 L743.2,995.5 L743.9,993.8 L744.6,993.2 L745.3,994.9 L746.1,994.3 L746.8,996.9 L747.5,993.1 L748.2,993.7 L748.9,994.1 L749.6,994.3 L750.4,994.7 L751.1,994.4 L751.8,994.6 L752.7,994.6" stroke="#9467bd"/>
<path d="M175.7,1048.0 L177.0,1048.0 L340.8,1048.0 L341.5,1048.0 L342.3,1047.8 L343.0,1047.6 L343.7,1047.3 L344.4,1046.9 L345.1,1046.1 L345.8,1045.0 L346.6,1043.5 L347.3,1041.7 L348.0,1039.1 L348.7,1035.4 L349.4,1030.8 L350.2,1025.6 L350.9,1018.7 L351.6,1009.4 L352.3,998.9 L353.0,987.9 L353.8,976.0 L354.5,963.0 L355.2,949.1 L355.9,934.5 L356.6,919.2 L357.3,902.1 L358.1,883.5 L358.8,864.6 L359.5,846.6 L360.2,830.3 L360.9,814.7 L361.7,799.8 L362.4,785.6 L363.1,772.2 L363.8,759.6 L364.5,747.9 L365.2,736.8 L366.0,726.2 L366.7,715.4 L367.4,704.6 L368.1,695.0 L368.8,687.6 L369.6,682.0 L370.3,676.7 L371.0,672.5 L371.7,670.1 L372.4,669.9 L373.2,671.4 L373.9,674.3 L374.6,678.3 L375.3,683.4 L376.0,689.2 L376.7,695.7 L377.5,702.7 L378.2,709.9 L378.9,717.3 L379.6,724.5 L380.3,731.5 L381.1,738.1 L381.8,744.7 L382.5,751.8 L383.2,759.2 L383.9,766.9 L384.6,774.7 L385.4,782.5 L386.1,790.3 L386.8,797.8 L387.5,805.0 L388.2,811.8 L389.0,818.3 L389.7,824.8 L390.4,831.2 L391.1,837.6 L391.8,843.7 L392.5,849.7 L393.3,855.3 L394.0,860.7 L394.7,865.5 L395.4,870.2 L396.1,874.3 L396.9,878.3 L397.6,881.8 L398.3,886.0 L399.0,889.3 L399.7,892.1 L400.5,895.6 L401.2,898.7 L401.9,901.0 L402.6,903.8 L403.3,905.9 L404.0,908.9 L404.8,910.8 L405.5,912.8 L406.2,914.9 L406.9,917.8 L407.6,918.7 L408.4,921.4 L409.1,923.4 L409.8,924.6 L410.5,925.4 L411.2,926.7 L411.9,927.3 L412.7,928.2 L413.4,929.3 L414.1,930.3 L414.8,929.9 L415.5,933.0 L416.3,933.3 L417.0,933.2 L417.7,934.4 L418.4,935.9 L419.1,935.6 L419.9,936.2 L420.6,938.0 L421.3,935.8 L422.0,935.8 L422.7,936.5 L423.4,938.3 L424.2,938.2 L424.9,939.8 L425.6,939.3 L426.3,940.4 L427.0,940.0 L427.8,940.8 L428.5,940.2 L429.2,940.3 L429.9,940.3 L430.6,942.9 L431.3,943.5 L432.1,942.1 L432.8,943.2 L433.5,942.9 L434.2,943.4 L434.9,944.1 L435.7,943.7 L436.4,944.4 L437.1,944.6 L437.8,945.8 L438.5,943.8 L439.3,945.5 L440.0,944.6 L440.7,945.4 L441.4,944.8 L442.1,946.0 L442.8,946.5 L443.6,946.5 L444.3,947.4 L445.0,947.5 L445.7,947.3 L446.4,947.5 L447.2,948.3 L447.9,945.6 L448.6,948.4 L449.3,948.0 L450.0,945.3 L450.7,948.1 L451.5,946.9 L452.2,947.1 L452.9,947.7 L453.6,948.7 L454.3,949.0 L455.1,947.8 L455.8,947.7 L456.5,950.0 L457.2,948.2 L457.9,949.1 L458.7,947.9 L459.4,948.6 L460.1,949.4 L460.8,949.2 L461.5,948.6 L462.2,947.8 L463.0,946.5 L463.7,949.0 L464.4,949.4 L465.1,949.4 L465.8,950.0 L466.6,949.6 L467.3,949.7 L468.0,950.1 L468.7,950.9 L469.4,950.2 L470.1,949.4 L470.9,950.1 L471.6,949.4 L472.3,950.0 L473.0,951.0 L473.7,949.6 L474.5,952.2 L475.2,950.4 L475.9,949.9 L476.6,951.5 L477.3,951.9 L478.1,951.2 L478.8,951.3 L479.5,952.4 L480.2,953.0 L480.9,952.9 L481.6,954.1 L482.4,955.4 L483.1,954.9 L483.8,954.7 L484.5,956.7 L485.2,955.5 L486.0,957.0 L486.7,956.2 L487.4,958.8 L488.1,958.5 L488.8,959.6 L489.5,957.4 L490.3,957.8 L491.0,957.7 L491.7,958.0 L492.4,958.9 L493.1,959.5 L493.9,961.9 L494.6,960.3 L495.3,961.7 L496.0,962.1 L496.7,963.0 L497.5,961.1 L498.2,962.8 L498.9,964.7 L499.6,963.9 L500.3,964.8 L501.0,966.0 L501.8,965.8 L502.5,966.6 L503.2,968.1 L503.9,968.2 L504.6,966.7 L505.4,967.0 L506.1,967.3 L506.8,969.1 L507.5,969.3 L508.2,969.4 L508.9,968.9 L509.7,970.4 L510.4,971.4 L511.1,970.3 L511.8,971.5 L512.5,972.0 L513.3,972.6 L514.0,973.2 L514.7,971.8 L515.4,972.8 L516.1,974.7 L516.9,976.2 L517.6,974.1 L518.3,974.4 L519.0,975.0 L519.7,976.0 L520.4,979.0 L521.2,978.8 L521.9,977.6 L522.6,978.8 L523.3,979.1 L524.0,980.3 L524.8,981.0 L525.5,980.5 L526.2,981.6 L526.9,982.0 L527.6,982.6 L528.3,983.3 L529.1,982.8 L529.8,983.1 L530.5,985.6 L531.2,985.3 L531.9,986.0 L532.7,984.8 L533.4,986.4 L534.1,985.3 L534.8,985.3 L535.5,985.7 L536.2,987.0 L537.0,986.8 L537.7,987.9 L538.4,986.9 L539.1,986.9 L539.8,989.3 L540.6,988.9 L541.3,988.8 L542.0,988.9 L542.7,987.7 L543.4,989.5 L544.2,989.2 L544.9,990.4 L545.6,988.2 L546.3,989.4 L547.0,989.2 L547.7,989.6 L548.5,991.0 L549.2,990.6 L549.9,990.6 L550.6,989.1 L551.3,989.8 L552.1,988.9 L552.8,988.8 L553.5,988.9 L554.2,988.4 L554.9,989.3 L555.6,990.7 L556.4,990.0 L557.1,988.0 L557.8,990.5 L558.5,988.2 L559.2,987.6 L560.0,989.0 L560.7,988.3 L561.4,989.8 L562.1,987.9 L562.8,989.4 L563.6,990.0 L564.3,989.2 L565.0,989.3 L565.7,989.4 L566.4,988.8 L567.1,989.3 L567.9,989.7 L568.6,988.4 L569.3,987.2 L570.0,989.2 L570.7,989.8 L571.5,989.7 L572.2,988.4 L572.9,989.0 L573.6,988.6 L574.3,990.2 L575.0,989.6 L575.8,989.8 L576.5,988.0 L577.2,988.7 L577.9,990.5 L578.6,988.0 L579.4,987.6 L580.1,987.3 L580.8,990.6 L581.5,988.1 L582.2,987.4 L583.0,987.5 L583.7,987.8 L584.4,988.9 L585.1,987.6 L585.8,987.4 L586.5,986.8 L587.3,986.9 L588.0,987.6 L588.7,986.7 L589.4,988.0 L590.1,987.4 L590.9,986.6 L591.6,985.7 L592.3,986.0 L593.0,984.6 L593.7,985.1 L594.4,986.3 L595.2,985.4 L595.9,986.2 L596.6,986.1 L597.3,986.0 L598.0,983.0 L598.8,982.8 L599.5,984.6 L600.2,982.1 L600.9,982.1 L601.6,983.0 L602.4,982.6 L603.1,981.1 L603.8,983.1 L604.5,983.0 L605.2,982.4 L605.9,984.1 L606.7,984.2 L607.4,983.8 L608.1,982.7 L608.8,981.6 L609.5,982.6 L610.3,982.2 L611.0,980.4 L611.7,980.5 L612.4,979.5 L613.1,979.7 L613.8,979.6 L614.6,979.4 L615.3,979.4 L616.0,980.1 L616.7,979.9 L617.4,977.3 L618.2,975.7 L618.9,977.2 L619.6,979.4 L620.3,977.7 L621.0,976.6 L621.8,978.8 L622.5,977.7 L623.2,977.6 L623.9,977.4 L624.6,977.2 L625.3,975.6 L626.1,976.5 L626.8,976.2 L627.5,974.4 L628.2,975.9 L628.9,977.1 L629.7,974.7 L630.4,973.2 L631.1,974.7 L631.8,974.6 L632.5,975.5 L633.2,975.5 L634.0,973.4 L634.7,973.2 L635.4,973.7 L636.1,974.7 L636.8,974.9 L637.6,974.8 L638.3,974.9 L639.0,973.1 L639.7,974.2 L640.4,973.8 L641.2,972.5 L641.9,972.5 L642.6,973.1 L643.3,972.5 L644.0,973.3 L644.7,974.9 L645.5,973.6 L646.2,973.8 L646.9,974.1 L647.6,973.7 L648.3,974.5 L649.1,972.5 L649.8,973.9 L650.5,973.5 L651.2,973.7 L651.9,974.0 L652.6,972.9 L653.4,972.7 L654.1,973.0 L654.8,974.6 L655.5,974.9 L656.2,974.7 L657.0,974.5 L657.7,976.5 L658.4,976.3 L659.1,977.0 L659.8,976.6 L660.6,977.0 L661.3,976.0 L662.0,976.6 L662.7,976.3 L663.4,978.0 L664.1,977.8 L664.9,977.2 L665.6,975.9 L666.3,976.0 L667.0,978.1 L667.7,977.5 L668.5,976.3 L669.2,979.2 L669.9,978.8 L670.6,977.2 L671.3,977.5 L672.0,979.1 L672.8,977.0 L673.5,977.2 L674.2,977.5 L674.9,979.4 L675.6,979.3 L676.4,978.1 L677.1,979.1 L677.8,979.1 L678.5,980.2 L679.2,979.1 L679.9,980.6 L680.7,979.8 L681.4,980.8 L682.1,982.2 L682.8,980.0 L683.5,983.1 L684.3,982.9 L685.0,982.8 L685.7,984.4 L686.4,985.2 L687.1,984.1 L687.9,984.8 L688.6,984.4 L689.3,984.1 L690.0,982.9 L690.7,985.4 L691.4,982.7 L692.2,984.7 L692.9,985.7 L693.6,988.3 L694.3,987.4 L695.0,985.8 L695.8,985.6 L696.5,987.4 L697.2,986.5 L697.9,985.7 L698.6,987.4 L699.3,988.8 L700.1,988.7 L700.8,988.5 L701.5,987.9 L702.2,987.9 L702.9,989.7 L703.7,988.9 L704.4,989.0 L705.1,988.7 L705.8,987.7 L706.5,987.6 L707.3,989.4 L708.0,989.5 L708.7,989.8 L709.4,989.4 L710.1,989.3 L710.8,989.3 L711.6,989.7 L712.3,990.5 L713.0,990.9 L713.7,990.0 L714.4,988.4 L715.2,990.5 L715.9,990.5 L716.6,990.8 L717.3,991.4 L718.0,989.7 L718.7,992.1 L719.5,992.6 L720.2,993.0 L720.9,991.9 L721.6,993.4 L722.3,993.2 L723.1,993.1 L723.8,993.3 L724.5,992.3 L725.2,993.5 L725.9,990.3 L726.7,994.6 L727.4,993.5 L728.1,992.4 L728.8,992.1 L729.5,992.6 L730.2,992.6 L731.0,992.3 L731.7,992.4 L732.4,992.1 L733.1,992.8 L733.8,993.3 L734.6,993.7 L735.3,992.8 L736.0,994.1 L736.7,993.5 L737.4,992.6 L738.1,993.4 L738.9,993.0 L739.6,994.4 L740.3,993.8 L741.0,993.6 L741.7,993.9 L742.5,993.9 L743.2,993.1 L743.9,994.5 L744.6,995.1 L745.3,994.3 L746.1,996.1 L746.8,995.1 L747.5,994.1 L748.2,995.1 L748.9,994.4 L749.6,994.6 L750.4,994.0 L751.1,994.6 L751.8,994.8 L752.7,994.8" stroke="#8c564b"/>
</g>
<line x1="363.8" y1="619.0" x2="363.8" y2="1048.0" stroke="#000" stroke-opacity="0.5" stroke-width="3.7"/>
<rect x="150.1" y="597.2" width="628.9" height="473.1" fill="none" stroke="#262626" stroke-width="1.4"/>
<line x1="177.0" y1="1070.3" x2="177.0" y2="1063.9" stroke="#262626" stroke-width="1.5"/>
<text transform="translate(176.8,1105.6) scale(1,1.025)" font-size="38.5" text-anchor="middle">0</text>
<line x1="320.7" y1="1070.3" x2="320.7" y2="1063.9" stroke="#262626" stroke-width="1.5"/>
<text transform="translate(320.5,1105.6) scale(1,1.025)" font-size="38.5" text-anchor="middle">2</text>
<line x1="464.4" y1="1070.3" x2="464.4" y2="1063.9" stroke="#262626" stroke-width="1.5"/>
<text transform="translate(464.2,1105.6) scale(1,1.025)" font-size="38.5" text-anchor="middle">4</text>
<line x1="608.1" y1="1070.3" x2="608.1" y2="1063.9" stroke="#262626" stroke-width="1.5"/>
<text transform="translate(607.9,1105.6) scale(1,1.025)" font-size="38.5" text-anchor="middle">6</text>
<line x1="751.8" y1="1070.3" x2="751.8" y2="1063.9" stroke="#262626" stroke-width="1.5"/>
<text transform="translate(751.6,1105.6) scale(1,1.025)" font-size="38.5" text-anchor="middle">8</text>
<line x1="150.1" y1="1048.0" x2="156.5" y2="1048.0" stroke="#262626" stroke-width="1.5"/>
<text transform="translate(143.5,1063.0) scale(1,1.025)" font-size="38.5" text-anchor="end">0.00</text>
<line x1="150.1" y1="894.6" x2="156.5" y2="894.6" stroke="#262626" stroke-width="1.5"/>
<text transform="translate(143.5,909.6) scale(1,1.025)" font-size="38.5" text-anchor="end">0.05</text>
<line x1="150.1" y1="741.2" x2="156.5" y2="741.2" stroke="#262626" stroke-width="1.5"/>
<text transform="translate(143.5,756.2) scale(1,1.025)" font-size="38.5" text-anchor="end">0.10</text>
<text x="465.8" y="1151.0" font-size="34.9" text-anchor="middle">r[<tspan font-style="italic">Å</tspan>]</text>
<text transform="translate(43.4,832.5) rotate(-90)" font-size="34.9" text-anchor="middle">g<tspan font-style="italic" font-size="25.1" dy="5.8">OO</tspan><tspan dy="-5.8" dx="0.8">(r)</tspan></text>
<line x1="612.1" y1="629.2" x2="666.1" y2="629.2" stroke="#1f77b4" stroke-width="5.2"/>
<text x="683.2" y="637.7" font-size="25.0">B<tspan font-style="italic" font-size="17.5" dy="-9.05" dx="0.4">I</tspan><tspan dy="9.05" dx="0.6">-B</tspan><tspan font-style="italic" font-size="17.5" dy="-9.05" dx="0.4">I</tspan></text>
<line x1="612.1" y1="665.6" x2="666.1" y2="665.6" stroke="#ff7f0e" stroke-width="5.2"/>
<text x="683.2" y="674.1" font-size="25.0">B<tspan font-style="italic" font-size="17.5" dy="-9.05" dx="0.4">I</tspan><tspan dy="9.05" dx="0.6">-B</tspan><tspan font-style="italic" font-size="17.5" dy="-9.05" dx="0.4">II</tspan></text>
<line x1="612.1" y1="702.0" x2="666.1" y2="702.0" stroke="#2ca02c" stroke-width="5.2"/>
<text x="683.2" y="710.5" font-size="25.0">B<tspan font-style="italic" font-size="17.5" dy="-9.05" dx="0.4">I</tspan><tspan dy="9.05" dx="0.6">-B</tspan><tspan font-style="italic" font-size="17.5" dy="-9.05" dx="0.4">III</tspan></text>
<line x1="612.1" y1="738.4" x2="666.1" y2="738.4" stroke="#d62728" stroke-width="5.2"/>
<text x="683.2" y="746.9" font-size="25.0">B<tspan font-style="italic" font-size="17.5" dy="-9.05" dx="0.4">II</tspan><tspan dy="9.05" dx="0.6">-B</tspan><tspan font-style="italic" font-size="17.5" dy="-9.05" dx="0.4">II</tspan></text>
<line x1="612.1" y1="774.8" x2="666.1" y2="774.8" stroke="#9467bd" stroke-width="5.2"/>
<text x="683.2" y="783.3" font-size="25.0">B<tspan font-style="italic" font-size="17.5" dy="-9.05" dx="0.4">II</tspan><tspan dy="9.05" dx="0.6">-B</tspan><tspan font-style="italic" font-size="17.5" dy="-9.05" dx="0.4">III</tspan></text>
<line x1="612.1" y1="811.2" x2="666.1" y2="811.2" stroke="#8c564b" stroke-width="5.2"/>
<text x="683.2" y="819.7" font-size="25.0">B<tspan font-style="italic" font-size="17.5" dy="-9.05" dx="0.4">III</tspan><tspan dy="9.05" dx="0.6">-B</tspan><tspan font-style="italic" font-size="17.5" dy="-9.05" dx="0.4">III</tspan></text>
<text x="18" y="617.2" font-family="'Liberation Serif',serif" font-size="56.6" fill="#231815" stroke="#231815" stroke-width="0.7">(c)</text>
</g>
<g id="panel-d">
<g fill="none" stroke-width="5.2" stroke-linejoin="round" stroke-linecap="butt">
<path d="M967.0,1048.8 L968.3,1048.8 L1141.4,1048.8 L1142.1,1048.7 L1142.9,1048.6 L1143.6,1048.3 L1144.4,1047.9 L1145.1,1047.2 L1145.8,1045.9 L1146.6,1044.2 L1147.3,1042.0 L1148.1,1038.8 L1148.8,1034.1 L1149.6,1028.3 L1150.3,1021.4 L1151.1,1011.4 L1151.8,999.0 L1152.6,985.6 L1153.3,971.2 L1154.1,955.2 L1154.8,938.1 L1155.5,919.9 L1156.3,900.6 L1157.0,878.6 L1157.8,855.3 L1158.5,832.4 L1159.3,811.7 L1160.0,792.4 L1160.8,773.9 L1161.5,756.4 L1162.3,740.0 L1163.0,724.8 L1163.8,710.7 L1164.5,697.3 L1165.2,684.1 L1166.0,670.7 L1166.7,658.6 L1167.5,649.4 L1168.2,642.4 L1169.0,636.1 L1169.7,631.6 L1170.5,629.8 L1171.2,630.2 L1172.0,631.4 L1172.7,633.1 L1173.4,635.3 L1174.2,639.9 L1174.9,647.9 L1175.7,657.4 L1176.4,666.4 L1177.2,674.6 L1177.9,682.9 L1178.7,691.3 L1179.4,699.9 L1180.2,708.5 L1180.9,717.1 L1181.7,725.7 L1182.4,734.3 L1183.1,742.9 L1183.9,751.6 L1184.6,760.6 L1185.4,769.8 L1186.1,778.9 L1186.9,787.9 L1187.6,796.6 L1188.4,804.9 L1189.1,812.5 L1189.9,819.4 L1190.6,825.7 L1191.4,831.8 L1192.1,837.7 L1192.8,843.3 L1193.6,848.5 L1194.3,853.4 L1195.1,858.0 L1195.8,862.1 L1196.6,865.6 L1197.3,869.0 L1198.1,872.6 L1198.8,875.5 L1199.6,878.5 L1200.3,881.2 L1201.1,883.8 L1201.8,885.6 L1202.5,887.6 L1203.3,888.6 L1204.0,889.6 L1204.8,891.1 L1205.5,891.9 L1206.3,893.1 L1207.0,893.6 L1207.8,894.1 L1208.5,894.5 L1209.3,895.7 L1210.0,895.8 L1210.7,895.8 L1211.5,895.5 L1212.2,895.9 L1213.0,896.0 L1213.7,895.7 L1214.5,895.6 L1215.2,895.3 L1216.0,895.2 L1216.7,894.6 L1217.5,894.2 L1218.2,894.1 L1219.0,893.8 L1219.7,893.8 L1220.4,893.1 L1221.2,892.1 L1221.9,892.1 L1222.7,892.2 L1223.4,890.6 L1224.2,890.3 L1224.9,888.9 L1225.7,889.3 L1226.4,888.9 L1227.2,888.9 L1227.9,887.2 L1228.7,885.9 L1229.4,886.8 L1230.1,886.2 L1230.9,885.1 L1231.6,885.0 L1232.4,884.1 L1233.1,883.4 L1233.9,882.5 L1234.6,881.7 L1235.4,881.6 L1236.1,880.5 L1236.9,880.5 L1237.6,879.6 L1238.4,880.1 L1239.1,879.3 L1239.8,877.8 L1240.6,877.9 L1241.3,877.1 L1242.1,876.7 L1242.8,875.8 L1243.6,875.7 L1244.3,875.2 L1245.1,875.2 L1245.8,875.1 L1246.6,874.5 L1247.3,874.0 L1248.0,873.9 L1248.8,873.1 L1249.5,872.5 L1250.3,871.8 L1251.0,871.6 L1251.8,872.0 L1252.5,871.0 L1253.3,870.4 L1254.0,869.9 L1254.8,869.7 L1255.5,870.1 L1256.3,869.8 L1257.0,868.3 L1257.7,868.6 L1258.5,867.8 L1259.2,867.5 L1260.0,868.7 L1260.7,868.1 L1261.5,867.9 L1262.2,867.8 L1263.0,867.7 L1263.7,867.9 L1264.5,867.9 L1265.2,868.6 L1266.0,868.1 L1266.7,868.6 L1267.4,868.3 L1268.2,868.5 L1268.9,868.2 L1269.7,868.2 L1270.4,868.6 L1271.2,868.6 L1271.9,868.7 L1272.7,869.2 L1273.4,869.3 L1274.2,869.6 L1274.9,869.3 L1275.7,869.6 L1276.4,869.6 L1277.1,870.7 L1277.9,869.9 L1278.6,870.7 L1279.4,871.1 L1280.1,871.0 L1280.9,871.5 L1281.6,871.5 L1282.4,872.0 L1283.1,872.4 L1283.9,872.7 L1284.6,871.9 L1285.3,873.1 L1286.1,873.9 L1286.8,873.6 L1287.6,874.9 L1288.3,873.7 L1289.1,875.7 L1289.8,875.2 L1290.6,875.5 L1291.3,876.8 L1292.1,876.5 L1292.8,876.7 L1293.6,877.6 L1294.3,878.2 L1295.0,878.4 L1295.8,879.4 L1296.5,879.9 L1297.3,880.7 L1298.0,880.8 L1298.8,882.1 L1299.5,881.5 L1300.3,882.6 L1301.0,883.4 L1301.8,883.1 L1302.5,883.0 L1303.3,884.0 L1304.0,885.1 L1304.7,885.5 L1305.5,886.4 L1306.2,886.8 L1307.0,887.4 L1307.7,889.2 L1308.5,888.5 L1309.2,889.7 L1310.0,890.1 L1310.7,891.3 L1311.5,891.7 L1312.2,891.9 L1313.0,891.7 L1313.7,892.0 L1314.4,893.3 L1315.2,893.6 L1315.9,894.7 L1316.7,896.4 L1317.4,896.4 L1318.2,897.1 L1318.9,898.2 L1319.7,898.5 L1320.4,898.9 L1321.2,900.2 L1321.9,901.2 L1322.6,901.1 L1323.4,901.8 L1324.1,902.4 L1324.9,902.7 L1325.6,903.3 L1326.4,905.0 L1327.1,905.0 L1327.9,905.6 L1328.6,906.4 L1329.4,906.9 L1330.1,908.1 L1330.9,908.0 L1331.6,908.2 L1332.3,909.5 L1333.1,910.8 L1333.8,911.0 L1334.6,911.5 L1335.3,912.5 L1336.1,913.5 L1336.8,913.2 L1337.6,915.0 L1338.3,914.8 L1339.1,915.4 L1339.8,916.4 L1340.6,915.9 L1341.3,916.8 L1342.0,918.1 L1342.8,917.9 L1343.5,918.9 L1344.3,920.3 L1345.0,920.3 L1345.8,920.5 L1346.5,921.1 L1347.3,922.0 L1348.0,922.6 L1348.8,923.1 L1349.5,924.2 L1350.3,924.2 L1351.0,925.4 L1351.7,926.0 L1352.5,926.3 L1353.2,927.7 L1354.0,927.9 L1354.7,927.5 L1355.5,928.4 L1356.2,929.0 L1357.0,929.0 L1357.7,929.7 L1358.5,929.8 L1359.2,930.7 L1359.9,930.6 L1360.7,931.7 L1361.4,930.9 L1362.2,932.2 L1362.9,933.1 L1363.7,932.9 L1364.4,933.3 L1365.2,933.2 L1365.9,934.3 L1366.7,933.8 L1367.4,932.8 L1368.2,935.1 L1368.9,934.7 L1369.6,935.3 L1370.4,935.4 L1371.1,936.7 L1371.9,936.7 L1372.6,936.4 L1373.4,936.9 L1374.1,936.6 L1374.9,938.0 L1375.6,937.9 L1376.4,936.7 L1377.1,938.5 L1377.9,938.7 L1378.6,938.4 L1379.3,938.6 L1380.1,938.5 L1380.8,939.1 L1381.6,939.8 L1382.3,939.5 L1383.1,938.4 L1383.8,939.4 L1384.6,941.1 L1385.3,939.7 L1386.1,940.1 L1386.8,939.5 L1387.6,939.8 L1388.3,939.2 L1389.0,939.6 L1389.8,939.9 L1390.5,940.5 L1391.3,940.7 L1392.0,940.6 L1392.8,940.4 L1393.5,940.8 L1394.3,941.2 L1395.0,940.5 L1395.8,940.9 L1396.5,941.1 L1397.2,941.5 L1398.0,941.4 L1398.7,941.6 L1399.5,942.5 L1400.2,941.0 L1401.0,941.3 L1401.7,941.8 L1402.5,941.2 L1403.2,941.4 L1404.0,941.5 L1404.7,943.0 L1405.5,942.0 L1406.2,941.5 L1406.9,941.0 L1407.7,941.0 L1408.4,941.2 L1409.2,942.2 L1409.9,942.4 L1410.7,941.2 L1411.4,941.4 L1412.2,941.0 L1412.9,941.5 L1413.7,941.4 L1414.4,942.2 L1415.2,941.5 L1415.9,941.7 L1416.6,941.3 L1417.4,941.2 L1418.1,941.3 L1418.9,941.1 L1419.6,941.4 L1420.4,941.1 L1421.1,941.2 L1421.9,941.8 L1422.6,941.9 L1423.4,941.0 L1424.1,941.8 L1424.9,941.1 L1425.6,941.3 L1426.3,941.9 L1427.1,941.8 L1427.8,941.5 L1428.6,941.5 L1429.3,941.4 L1430.1,942.3 L1430.8,942.2 L1431.6,941.9 L1432.3,941.3 L1433.1,943.1 L1433.8,942.1 L1434.5,942.7 L1435.3,942.5 L1436.0,943.0 L1436.8,942.9 L1437.5,942.3 L1438.3,943.0 L1439.0,942.9 L1439.8,942.9 L1440.5,943.5 L1441.3,942.9 L1442.0,943.3 L1442.8,943.8 L1443.5,943.6 L1444.2,943.8 L1445.0,943.6 L1445.7,944.2 L1446.5,944.7 L1447.2,943.9 L1448.0,944.2 L1448.7,944.2 L1449.5,944.6 L1450.2,945.2 L1451.0,945.6 L1451.7,945.6 L1452.5,945.2 L1453.2,945.8 L1453.9,946.6 L1454.7,946.2 L1455.4,946.9 L1456.2,946.2 L1456.9,946.9 L1457.7,947.0 L1458.4,946.5 L1459.2,946.6 L1459.9,947.5 L1460.7,946.5 L1461.4,946.0 L1462.2,947.8 L1462.9,946.5 L1463.6,947.7 L1464.4,948.0 L1465.1,947.9 L1465.9,948.6 L1466.6,947.7 L1467.4,948.4 L1468.1,949.0 L1468.9,948.9 L1469.6,949.6 L1470.4,949.4 L1471.1,949.1 L1471.8,950.2 L1472.6,949.7 L1473.3,949.9 L1474.1,949.6 L1474.8,949.7 L1475.6,950.4 L1476.3,950.6 L1477.1,950.2 L1477.8,950.6 L1478.6,950.9 L1479.3,950.5 L1480.1,950.3 L1480.8,951.2 L1481.5,951.5 L1482.3,951.6 L1483.0,952.9 L1483.8,952.0 L1484.5,952.6 L1485.3,951.3 L1486.0,952.2 L1486.8,952.9 L1487.5,953.3 L1488.3,954.4 L1489.0,953.3 L1489.8,953.2 L1490.5,954.7 L1491.2,954.2 L1492.0,954.3 L1492.7,955.4 L1493.5,954.5 L1494.2,954.6 L1495.0,955.3 L1495.7,955.5 L1496.5,955.4 L1497.2,956.6 L1498.0,956.1 L1498.7,955.9 L1499.5,957.3 L1500.2,956.5 L1500.9,957.4 L1501.7,958.2 L1502.4,957.5 L1503.2,958.1 L1503.9,957.8 L1504.7,958.4 L1505.4,957.7 L1506.2,958.8 L1506.9,958.5 L1507.7,959.2 L1508.4,959.3 L1509.1,958.8 L1509.9,959.3 L1510.6,959.7 L1511.4,960.0 L1512.1,959.2 L1512.9,959.4 L1513.6,959.8 L1514.4,959.8 L1515.1,960.6 L1515.9,960.8 L1516.6,961.0 L1517.4,960.7 L1518.1,960.8 L1518.8,961.7 L1519.6,961.1 L1520.3,961.2 L1521.1,961.5 L1521.8,961.1 L1522.6,961.7 L1523.3,961.9 L1524.1,961.7 L1524.8,962.0 L1525.6,961.8 L1526.3,963.0 L1527.1,962.1 L1527.8,963.3 L1528.5,963.2 L1529.3,963.8 L1530.0,963.0 L1530.8,962.7 L1531.5,962.8 L1532.3,963.0 L1533.0,964.3 L1533.8,964.0 L1534.5,964.0 L1535.3,964.4 L1536.0,963.7 L1536.8,964.2 L1537.5,964.4 L1538.2,964.3 L1539.0,965.0 L1539.7,965.2 L1540.5,965.2 L1541.2,964.8 L1542.0,965.1 L1542.7,965.0 L1543.5,964.8 L1544.2,966.0 L1545.0,965.8 L1545.7,965.6 L1546.4,966.2 L1547.2,965.8 L1547.9,965.3 L1548.7,965.5 L1549.4,965.4 L1550.2,965.9 L1550.9,966.0 L1551.7,965.6 L1552.4,966.4 L1553.2,966.2 L1553.9,965.8 L1554.7,966.6 L1555.4,966.8 L1556.1,966.9 L1556.9,966.8 L1557.6,966.8 L1558.4,966.9 L1559.1,966.7 L1559.9,967.6 L1560.6,967.3 L1561.4,966.5 L1562.1,967.0 L1562.9,967.3 L1563.6,967.5 L1564.4,967.4 L1565.1,967.4 L1566.0,967.4" stroke="#1f77b4"/>
<path d="M967.0,1048.8 L968.3,1048.8 L1144.4,1048.8 L1145.1,1048.8 L1145.8,1048.6 L1146.6,1048.5 L1147.3,1048.2 L1148.1,1047.9 L1148.8,1047.1 L1149.6,1046.1 L1150.3,1044.8 L1151.1,1043.2 L1151.8,1040.6 L1152.6,1037.2 L1153.3,1033.2 L1154.1,1028.4 L1154.8,1021.6 L1155.5,1013.2 L1156.3,1004.2 L1157.0,994.6 L1157.8,984.0 L1158.5,972.7 L1159.3,960.6 L1160.0,948.0 L1160.8,934.1 L1161.5,918.7 L1162.3,902.9 L1163.0,887.7 L1163.8,873.9 L1164.5,860.9 L1165.2,848.5 L1166.0,836.6 L1166.7,825.4 L1167.5,815.0 L1168.2,805.2 L1169.0,796.1 L1169.7,787.2 L1170.5,778.1 L1171.2,769.3 L1172.0,761.7 L1172.7,756.2 L1173.4,751.6 L1174.2,747.5 L1174.9,744.5 L1175.7,743.4 L1176.4,743.9 L1177.2,745.1 L1177.9,746.9 L1178.7,748.9 L1179.4,751.7 L1180.2,755.7 L1180.9,760.4 L1181.7,765.4 L1182.4,770.2 L1183.1,774.9 L1183.9,779.8 L1184.6,784.9 L1185.4,790.1 L1186.1,795.3 L1186.9,800.3 L1187.6,805.2 L1188.4,809.7 L1189.1,813.9 L1189.9,817.8 L1190.6,821.7 L1191.4,825.5 L1192.1,829.1 L1192.8,832.6 L1193.6,836.0 L1194.3,839.1 L1195.1,841.9 L1195.8,844.5 L1196.6,846.7 L1197.3,848.7 L1198.1,850.6 L1198.8,852.5 L1199.6,854.3 L1200.3,856.0 L1201.1,857.6 L1201.8,859.2 L1202.5,860.5 L1203.3,861.6 L1204.0,862.5 L1204.8,863.4 L1205.5,864.1 L1206.3,864.6 L1207.0,865.2 L1207.8,866.0 L1208.5,866.2 L1209.3,866.5 L1210.0,866.8 L1210.7,867.5 L1211.5,867.4 L1212.2,868.0 L1213.0,868.2 L1213.7,868.4 L1214.5,868.6 L1215.2,869.4 L1216.0,868.9 L1216.7,869.3 L1217.5,869.8 L1218.2,869.8 L1219.0,870.6 L1219.7,870.3 L1220.4,870.2 L1221.2,870.5 L1221.9,870.3 L1222.7,870.2 L1223.4,870.3 L1224.2,869.9 L1224.9,870.2 L1225.7,870.3 L1226.4,870.1 L1227.2,869.6 L1227.9,870.8 L1228.7,870.4 L1229.4,871.2 L1230.1,870.0 L1230.9,870.2 L1231.6,869.9 L1232.4,870.6 L1233.1,871.0 L1233.9,870.1 L1234.6,870.3 L1235.4,871.1 L1236.1,871.4 L1236.9,870.5 L1237.6,870.8 L1238.4,869.6 L1239.1,871.0 L1239.8,871.0 L1240.6,870.8 L1241.3,871.6 L1242.1,871.6 L1242.8,870.6 L1243.6,871.5 L1244.3,871.9 L1245.1,872.2 L1245.8,871.5 L1246.6,871.6 L1247.3,871.6 L1248.0,871.8 L1248.8,871.7 L1249.5,871.8 L1250.3,872.5 L1251.0,872.0 L1251.8,873.5 L1252.5,873.4 L1253.3,873.4 L1254.0,873.2 L1254.8,873.8 L1255.5,873.3 L1256.3,873.2 L1257.0,873.5 L1257.7,873.7 L1258.5,873.5 L1259.2,874.0 L1260.0,874.7 L1260.7,874.4 L1261.5,873.8 L1262.2,875.1 L1263.0,874.8 L1263.7,875.3 L1264.5,875.7 L1265.2,876.1 L1266.0,876.0 L1266.7,876.2 L1267.4,876.5 L1268.2,877.4 L1268.9,876.9 L1269.7,876.9 L1270.4,877.0 L1271.2,877.2 L1271.9,877.4 L1272.7,877.3 L1273.4,877.7 L1274.2,878.8 L1274.9,878.7 L1275.7,879.3 L1276.4,880.4 L1277.1,880.3 L1277.9,879.2 L1278.6,881.0 L1279.4,882.0 L1280.1,881.5 L1280.9,880.8 L1281.6,881.8 L1282.4,881.7 L1283.1,882.3 L1283.9,882.4 L1284.6,882.2 L1285.3,882.7 L1286.1,883.5 L1286.8,883.3 L1287.6,883.7 L1288.3,884.8 L1289.1,884.9 L1289.8,885.2 L1290.6,885.9 L1291.3,885.5 L1292.1,886.6 L1292.8,887.2 L1293.6,887.9 L1294.3,888.2 L1295.0,887.5 L1295.8,889.0 L1296.5,888.6 L1297.3,889.6 L1298.0,889.6 L1298.8,890.2 L1299.5,891.2 L1300.3,891.5 L1301.0,891.9 L1301.8,892.4 L1302.5,892.8 L1303.3,893.5 L1304.0,893.6 L1304.7,893.8 L1305.5,894.5 L1306.2,895.8 L1307.0,895.7 L1307.7,896.4 L1308.5,896.7 L1309.2,896.5 L1310.0,897.8 L1310.7,898.3 L1311.5,899.1 L1312.2,899.4 L1313.0,900.2 L1313.7,899.8 L1314.4,901.0 L1315.2,902.0 L1315.9,901.4 L1316.7,903.6 L1317.4,903.1 L1318.2,903.7 L1318.9,904.6 L1319.7,905.7 L1320.4,906.3 L1321.2,907.2 L1321.9,907.4 L1322.6,909.3 L1323.4,909.0 L1324.1,909.6 L1324.9,910.5 L1325.6,911.8 L1326.4,911.6 L1327.1,912.4 L1327.9,912.5 L1328.6,913.0 L1329.4,914.1 L1330.1,915.7 L1330.9,915.6 L1331.6,916.7 L1332.3,916.7 L1333.1,916.8 L1333.8,918.0 L1334.6,917.9 L1335.3,918.7 L1336.1,919.6 L1336.8,920.8 L1337.6,921.0 L1338.3,922.3 L1339.1,921.6 L1339.8,922.5 L1340.6,922.5 L1341.3,923.4 L1342.0,925.0 L1342.8,924.2 L1343.5,924.5 L1344.3,924.8 L1345.0,926.3 L1345.8,926.6 L1346.5,926.7 L1347.3,927.6 L1348.0,928.1 L1348.8,928.7 L1349.5,927.5 L1350.3,929.4 L1351.0,930.0 L1351.7,930.2 L1352.5,930.3 L1353.2,930.1 L1354.0,930.5 L1354.7,930.9 L1355.5,931.6 L1356.2,931.9 L1357.0,932.6 L1357.7,933.4 L1358.5,932.3 L1359.2,933.8 L1359.9,933.5 L1360.7,934.5 L1361.4,934.9 L1362.2,935.3 L1362.9,936.0 L1363.7,935.7 L1364.4,935.5 L1365.2,935.7 L1365.9,935.9 L1366.7,935.7 L1367.4,936.2 L1368.2,936.7 L1368.9,937.7 L1369.6,937.2 L1370.4,936.5 L1371.1,937.5 L1371.9,937.6 L1372.6,938.1 L1373.4,938.5 L1374.1,937.6 L1374.9,938.8 L1375.6,938.5 L1376.4,939.0 L1377.1,939.5 L1377.9,940.7 L1378.6,940.0 L1379.3,940.7 L1380.1,941.2 L1380.8,939.7 L1381.6,940.1 L1382.3,940.3 L1383.1,940.5 L1383.8,940.6 L1384.6,940.7 L1385.3,940.9 L1386.1,941.3 L1386.8,941.0 L1387.6,942.4 L1388.3,941.1 L1389.0,941.9 L1389.8,941.4 L1390.5,941.3 L1391.3,942.3 L1392.0,941.7 L1392.8,941.7 L1393.5,942.3 L1394.3,942.2 L1395.0,941.9 L1395.8,942.9 L1396.5,942.1 L1397.2,941.9 L1398.0,942.2 L1398.7,942.7 L1399.5,942.0 L1400.2,941.1 L1401.0,941.2 L1401.7,941.7 L1402.5,942.0 L1403.2,941.6 L1404.0,941.8 L1404.7,941.9 L1405.5,941.9 L1406.2,941.3 L1406.9,941.3 L1407.7,942.7 L1408.4,941.1 L1409.2,941.4 L1409.9,941.0 L1410.7,941.4 L1411.4,941.4 L1412.2,940.6 L1412.9,942.6 L1413.7,940.6 L1414.4,941.3 L1415.2,942.4 L1415.9,943.0 L1416.6,941.8 L1417.4,942.6 L1418.1,941.6 L1418.9,942.1 L1419.6,942.3 L1420.4,941.7 L1421.1,942.0 L1421.9,941.7 L1422.6,941.6 L1423.4,942.1 L1424.1,941.9 L1424.9,941.9 L1425.6,942.8 L1426.3,942.3 L1427.1,942.2 L1427.8,942.5 L1428.6,943.0 L1429.3,942.5 L1430.1,942.2 L1430.8,942.3 L1431.6,941.7 L1432.3,942.6 L1433.1,942.4 L1433.8,942.4 L1434.5,942.3 L1435.3,942.6 L1436.0,943.1 L1436.8,942.2 L1437.5,941.9 L1438.3,942.0 L1439.0,942.9 L1439.8,942.6 L1440.5,941.9 L1441.3,943.0 L1442.0,943.0 L1442.8,943.5 L1443.5,943.1 L1444.2,943.5 L1445.0,943.3 L1445.7,944.2 L1446.5,944.2 L1447.2,944.9 L1448.0,944.4 L1448.7,944.8 L1449.5,944.7 L1450.2,945.1 L1451.0,944.3 L1451.7,945.5 L1452.5,945.1 L1453.2,945.9 L1453.9,945.2 L1454.7,944.8 L1455.4,946.0 L1456.2,945.5 L1456.9,946.0 L1457.7,946.0 L1458.4,946.3 L1459.2,947.0 L1459.9,947.0 L1460.7,947.5 L1461.4,947.7 L1462.2,947.8 L1462.9,947.3 L1463.6,948.3 L1464.4,947.8 L1465.1,947.9 L1465.9,948.7 L1466.6,948.0 L1467.4,949.0 L1468.1,948.2 L1468.9,948.0 L1469.6,949.2 L1470.4,949.6 L1471.1,949.7 L1471.8,948.4 L1472.6,949.9 L1473.3,950.5 L1474.1,949.6 L1474.8,950.1 L1475.6,950.2 L1476.3,950.8 L1477.1,951.5 L1477.8,951.0 L1478.6,951.3 L1479.3,951.8 L1480.1,951.7 L1480.8,951.6 L1481.5,951.1 L1482.3,951.3 L1483.0,951.7 L1483.8,952.4 L1484.5,952.9 L1485.3,952.6 L1486.0,953.0 L1486.8,952.9 L1487.5,953.5 L1488.3,953.5 L1489.0,953.5 L1489.8,954.4 L1490.5,954.5 L1491.2,954.1 L1492.0,955.3 L1492.7,955.2 L1493.5,955.1 L1494.2,955.6 L1495.0,955.6 L1495.7,956.6 L1496.5,956.4 L1497.2,956.5 L1498.0,956.3 L1498.7,956.6 L1499.5,957.0 L1500.2,956.4 L1500.9,957.0 L1501.7,957.5 L1502.4,958.0 L1503.2,957.8 L1503.9,958.2 L1504.7,957.4 L1505.4,958.1 L1506.2,958.9 L1506.9,959.0 L1507.7,959.3 L1508.4,959.3 L1509.1,958.8 L1509.9,959.4 L1510.6,959.9 L1511.4,959.9 L1512.1,961.0 L1512.9,960.1 L1513.6,960.7 L1514.4,960.2 L1515.1,960.9 L1515.9,961.3 L1516.6,961.1 L1517.4,961.7 L1518.1,961.1 L1518.8,961.7 L1519.6,961.8 L1520.3,961.8 L1521.1,962.2 L1521.8,962.1 L1522.6,962.4 L1523.3,961.7 L1524.1,962.5 L1524.8,962.2 L1525.6,963.0 L1526.3,963.0 L1527.1,963.0 L1527.8,962.4 L1528.5,963.0 L1529.3,962.9 L1530.0,963.8 L1530.8,963.9 L1531.5,965.0 L1532.3,964.1 L1533.0,963.7 L1533.8,964.9 L1534.5,964.2 L1535.3,964.4 L1536.0,964.9 L1536.8,964.2 L1537.5,964.9 L1538.2,964.8 L1539.0,964.3 L1539.7,964.8 L1540.5,965.5 L1541.2,964.8 L1542.0,965.9 L1542.7,965.6 L1543.5,965.8 L1544.2,965.9 L1545.0,966.4 L1545.7,966.9 L1546.4,965.5 L1547.2,966.9 L1547.9,967.0 L1548.7,967.8 L1549.4,966.5 L1550.2,966.0 L1550.9,965.9 L1551.7,965.4 L1552.4,966.0 L1553.2,966.5 L1553.9,966.7 L1554.7,966.4 L1555.4,967.0 L1556.1,967.2 L1556.9,967.8 L1557.6,967.7 L1558.4,967.0 L1559.1,968.0 L1559.9,967.8 L1560.6,969.1 L1561.4,967.4 L1562.1,967.7 L1562.9,967.2 L1563.6,967.8 L1564.4,968.3 L1565.1,968.7 L1566.0,968.7" stroke="#ff7f0e"/>
<path d="M967.0,1048.8 L968.3,1048.8 L1142.9,1048.8 L1143.6,1048.8 L1144.4,1048.6 L1145.1,1048.4 L1145.8,1048.2 L1146.6,1047.8 L1147.3,1047.0 L1148.1,1045.9 L1148.8,1044.5 L1149.6,1042.7 L1150.3,1040.0 L1151.1,1036.4 L1151.8,1032.0 L1152.6,1026.9 L1153.3,1019.7 L1154.1,1010.6 L1154.8,1000.7 L1155.5,990.3 L1156.3,978.8 L1157.0,966.5 L1157.8,953.3 L1158.5,939.5 L1159.3,924.6 L1160.0,907.9 L1160.8,890.4 L1161.5,873.3 L1162.3,857.5 L1163.0,843.0 L1163.8,829.0 L1164.5,815.6 L1165.2,802.9 L1166.0,791.1 L1166.7,780.1 L1167.5,769.7 L1168.2,759.8 L1169.0,749.8 L1169.7,739.8 L1170.5,730.7 L1171.2,723.6 L1172.0,718.3 L1172.7,713.4 L1173.4,709.5 L1174.2,707.1 L1174.9,706.9 L1175.7,707.6 L1176.4,708.8 L1177.2,710.4 L1177.9,712.3 L1178.7,715.8 L1179.4,721.6 L1180.2,728.7 L1180.9,736.1 L1181.7,742.9 L1182.4,749.1 L1183.1,755.4 L1183.9,761.9 L1184.6,768.3 L1185.4,774.7 L1186.1,780.9 L1186.9,786.8 L1187.6,792.4 L1188.4,797.5 L1189.1,802.4 L1189.9,807.2 L1190.6,811.9 L1191.4,816.5 L1192.1,820.8 L1192.8,825.0 L1193.6,828.9 L1194.3,832.4 L1195.1,835.7 L1195.8,838.5 L1196.6,841.0 L1197.3,843.5 L1198.1,845.9 L1198.8,848.0 L1199.6,850.1 L1200.3,852.1 L1201.1,854.1 L1201.8,855.8 L1202.5,857.5 L1203.3,859.3 L1204.0,860.8 L1204.8,861.9 L1205.5,863.3 L1206.3,864.8 L1207.0,866.1 L1207.8,867.2 L1208.5,868.6 L1209.3,869.6 L1210.0,870.3 L1210.7,871.7 L1211.5,872.5 L1212.2,873.8 L1213.0,874.4 L1213.7,875.1 L1214.5,876.5 L1215.2,877.1 L1216.0,877.8 L1216.7,878.4 L1217.5,878.6 L1218.2,879.5 L1219.0,880.6 L1219.7,880.6 L1220.4,881.1 L1221.2,881.4 L1221.9,880.7 L1222.7,882.1 L1223.4,882.0 L1224.2,882.7 L1224.9,882.4 L1225.7,882.8 L1226.4,883.1 L1227.2,883.4 L1227.9,883.2 L1228.7,884.2 L1229.4,884.5 L1230.1,885.0 L1230.9,884.2 L1231.6,885.1 L1232.4,885.6 L1233.1,885.4 L1233.9,884.3 L1234.6,885.5 L1235.4,885.1 L1236.1,885.3 L1236.9,885.9 L1237.6,886.4 L1238.4,886.3 L1239.1,886.5 L1239.8,887.5 L1240.6,885.8 L1241.3,886.9 L1242.1,887.3 L1242.8,887.6 L1243.6,888.2 L1244.3,887.7 L1245.1,888.5 L1245.8,888.4 L1246.6,889.4 L1247.3,888.8 L1248.0,888.3 L1248.8,889.4 L1249.5,889.0 L1250.3,889.4 L1251.0,889.1 L1251.8,889.3 L1252.5,890.0 L1253.3,890.4 L1254.0,890.4 L1254.8,890.7 L1255.5,891.1 L1256.3,891.0 L1257.0,891.2 L1257.7,892.0 L1258.5,891.9 L1259.2,890.6 L1260.0,891.7 L1260.7,892.2 L1261.5,891.2 L1262.2,892.6 L1263.0,893.6 L1263.7,893.5 L1264.5,893.5 L1265.2,892.9 L1266.0,893.0 L1266.7,894.6 L1267.4,893.4 L1268.2,894.5 L1268.9,894.2 L1269.7,894.2 L1270.4,894.3 L1271.2,894.7 L1271.9,894.7 L1272.7,895.4 L1273.4,895.2 L1274.2,894.9 L1274.9,895.4 L1275.7,894.9 L1276.4,895.5 L1277.1,895.8 L1277.9,895.7 L1278.6,896.4 L1279.4,897.4 L1280.1,897.9 L1280.9,896.5 L1281.6,897.3 L1282.4,897.5 L1283.1,898.2 L1283.9,898.2 L1284.6,897.6 L1285.3,898.6 L1286.1,899.5 L1286.8,899.4 L1287.6,899.0 L1288.3,900.4 L1289.1,901.2 L1289.8,901.2 L1290.6,901.0 L1291.3,900.4 L1292.1,900.8 L1292.8,901.2 L1293.6,901.7 L1294.3,901.4 L1295.0,901.8 L1295.8,902.4 L1296.5,902.4 L1297.3,902.9 L1298.0,902.2 L1298.8,904.3 L1299.5,903.5 L1300.3,904.2 L1301.0,903.5 L1301.8,903.9 L1302.5,903.9 L1303.3,903.8 L1304.0,904.3 L1304.7,904.1 L1305.5,905.5 L1306.2,905.0 L1307.0,905.9 L1307.7,906.2 L1308.5,906.1 L1309.2,906.5 L1310.0,906.4 L1310.7,908.6 L1311.5,908.3 L1312.2,907.9 L1313.0,909.1 L1313.7,909.0 L1314.4,908.7 L1315.2,909.4 L1315.9,910.6 L1316.7,910.4 L1317.4,910.4 L1318.2,910.9 L1318.9,911.3 L1319.7,911.6 L1320.4,912.6 L1321.2,912.2 L1321.9,912.8 L1322.6,912.8 L1323.4,913.3 L1324.1,914.5 L1324.9,914.2 L1325.6,914.6 L1326.4,915.2 L1327.1,915.3 L1327.9,916.0 L1328.6,916.3 L1329.4,916.3 L1330.1,916.8 L1330.9,916.8 L1331.6,919.0 L1332.3,918.4 L1333.1,919.8 L1333.8,919.4 L1334.6,919.6 L1335.3,920.0 L1336.1,920.0 L1336.8,920.5 L1337.6,922.4 L1338.3,922.0 L1339.1,921.3 L1339.8,921.8 L1340.6,922.9 L1341.3,923.9 L1342.0,922.8 L1342.8,925.1 L1343.5,924.3 L1344.3,924.9 L1345.0,925.1 L1345.8,926.2 L1346.5,926.4 L1347.3,926.2 L1348.0,927.5 L1348.8,928.4 L1349.5,928.2 L1350.3,928.7 L1351.0,929.3 L1351.7,929.9 L1352.5,929.8 L1353.2,930.5 L1354.0,931.3 L1354.7,931.1 L1355.5,931.6 L1356.2,931.9 L1357.0,933.1 L1357.7,933.2 L1358.5,932.9 L1359.2,933.1 L1359.9,933.6 L1360.7,934.1 L1361.4,934.1 L1362.2,934.4 L1362.9,934.1 L1363.7,935.0 L1364.4,935.9 L1365.2,935.7 L1365.9,937.0 L1366.7,936.5 L1367.4,937.0 L1368.2,937.4 L1368.9,937.5 L1369.6,937.9 L1370.4,938.8 L1371.1,938.6 L1371.9,939.1 L1372.6,938.9 L1373.4,938.7 L1374.1,939.2 L1374.9,938.5 L1375.6,938.5 L1376.4,939.5 L1377.1,939.2 L1377.9,940.3 L1378.6,940.1 L1379.3,939.7 L1380.1,941.1 L1380.8,940.9 L1381.6,941.1 L1382.3,940.5 L1383.1,940.6 L1383.8,941.4 L1384.6,941.4 L1385.3,942.8 L1386.1,941.2 L1386.8,941.4 L1387.6,941.1 L1388.3,942.9 L1389.0,941.8 L1389.8,942.2 L1390.5,943.1 L1391.3,942.3 L1392.0,942.1 L1392.8,941.8 L1393.5,942.0 L1394.3,942.4 L1395.0,942.1 L1395.8,942.4 L1396.5,942.7 L1397.2,942.9 L1398.0,942.3 L1398.7,942.4 L1399.5,941.8 L1400.2,942.7 L1401.0,941.9 L1401.7,942.5 L1402.5,942.2 L1403.2,943.3 L1404.0,943.2 L1404.7,942.9 L1405.5,942.3 L1406.2,942.6 L1406.9,942.2 L1407.7,942.3 L1408.4,942.0 L1409.2,942.6 L1409.9,942.9 L1410.7,942.7 L1411.4,943.1 L1412.2,942.4 L1412.9,943.4 L1413.7,943.2 L1414.4,943.1 L1415.2,942.2 L1415.9,942.2 L1416.6,942.0 L1417.4,943.0 L1418.1,943.1 L1418.9,942.3 L1419.6,942.3 L1420.4,942.1 L1421.1,943.7 L1421.9,943.3 L1422.6,943.8 L1423.4,943.6 L1424.1,943.2 L1424.9,942.7 L1425.6,943.5 L1426.3,943.6 L1427.1,943.3 L1427.8,943.0 L1428.6,942.4 L1429.3,944.4 L1430.1,943.7 L1430.8,943.9 L1431.6,943.3 L1432.3,943.7 L1433.1,943.1 L1433.8,944.3 L1434.5,943.9 L1435.3,944.3 L1436.0,944.4 L1436.8,944.1 L1437.5,944.6 L1438.3,943.5 L1439.0,944.2 L1439.8,944.9 L1440.5,944.9 L1441.3,944.0 L1442.0,944.9 L1442.8,944.5 L1443.5,944.5 L1444.2,944.4 L1445.0,944.9 L1445.7,945.2 L1446.5,945.6 L1447.2,946.4 L1448.0,945.9 L1448.7,945.8 L1449.5,946.3 L1450.2,946.3 L1451.0,946.9 L1451.7,945.6 L1452.5,946.9 L1453.2,947.1 L1453.9,947.2 L1454.7,947.2 L1455.4,946.8 L1456.2,948.2 L1456.9,947.2 L1457.7,948.0 L1458.4,948.1 L1459.2,947.7 L1459.9,948.0 L1460.7,948.8 L1461.4,948.8 L1462.2,948.0 L1462.9,948.3 L1463.6,948.7 L1464.4,949.2 L1465.1,948.8 L1465.9,949.2 L1466.6,949.7 L1467.4,950.2 L1468.1,949.5 L1468.9,949.5 L1469.6,949.4 L1470.4,950.5 L1471.1,949.8 L1471.8,950.7 L1472.6,950.1 L1473.3,950.6 L1474.1,951.4 L1474.8,951.7 L1475.6,951.4 L1476.3,951.6 L1477.1,951.2 L1477.8,952.4 L1478.6,952.8 L1479.3,952.4 L1480.1,951.7 L1480.8,952.1 L1481.5,953.3 L1482.3,953.4 L1483.0,953.3 L1483.8,954.0 L1484.5,954.0 L1485.3,954.4 L1486.0,954.9 L1486.8,955.1 L1487.5,955.2 L1488.3,955.0 L1489.0,955.9 L1489.8,955.6 L1490.5,956.2 L1491.2,956.4 L1492.0,956.6 L1492.7,954.5 L1493.5,955.9 L1494.2,956.1 L1495.0,956.4 L1495.7,956.8 L1496.5,956.8 L1497.2,957.0 L1498.0,957.3 L1498.7,957.5 L1499.5,957.3 L1500.2,959.6 L1500.9,958.9 L1501.7,958.7 L1502.4,959.3 L1503.2,959.5 L1503.9,959.1 L1504.7,959.8 L1505.4,959.3 L1506.2,960.3 L1506.9,960.3 L1507.7,961.2 L1508.4,961.7 L1509.1,961.1 L1509.9,960.9 L1510.6,961.5 L1511.4,962.0 L1512.1,961.5 L1512.9,961.8 L1513.6,962.0 L1514.4,962.6 L1515.1,961.9 L1515.9,962.0 L1516.6,962.7 L1517.4,962.8 L1518.1,962.8 L1518.8,962.3 L1519.6,962.0 L1520.3,963.2 L1521.1,963.6 L1521.8,964.6 L1522.6,962.9 L1523.3,964.7 L1524.1,963.9 L1524.8,964.2 L1525.6,964.0 L1526.3,964.9 L1527.1,965.3 L1527.8,964.6 L1528.5,964.7 L1529.3,964.6 L1530.0,966.0 L1530.8,965.6 L1531.5,965.7 L1532.3,966.3 L1533.0,965.9 L1533.8,965.6 L1534.5,966.0 L1535.3,966.8 L1536.0,966.2 L1536.8,965.9 L1537.5,966.1 L1538.2,966.1 L1539.0,967.3 L1539.7,966.6 L1540.5,966.6 L1541.2,967.2 L1542.0,967.3 L1542.7,967.7 L1543.5,966.9 L1544.2,967.7 L1545.0,968.0 L1545.7,967.6 L1546.4,967.9 L1547.2,967.7 L1547.9,968.4 L1548.7,968.5 L1549.4,968.1 L1550.2,967.5 L1550.9,968.5 L1551.7,969.2 L1552.4,968.7 L1553.2,969.4 L1553.9,970.0 L1554.7,969.5 L1555.4,969.6 L1556.1,969.2 L1556.9,969.0 L1557.6,969.1 L1558.4,969.2 L1559.1,969.8 L1559.9,969.8 L1560.6,969.9 L1561.4,969.2 L1562.1,970.1 L1562.9,970.0 L1563.6,969.3 L1564.4,969.7 L1565.1,970.1 L1566.0,970.1" stroke="#2ca02c"/>
</g>
<line x1="1162.3" y1="753.9" x2="1162.3" y2="1048.8" stroke="#000" stroke-opacity="0.5" stroke-width="3.7"/>
<rect x="940.4" y="608.2" width="653.4" height="462.1" fill="none" stroke="#222" stroke-width="1.4"/>
<line x1="968.3" y1="1070.3" x2="968.3" y2="1063.9" stroke="#222" stroke-width="1.5"/>
<text transform="translate(968.1,1105.6) scale(1,1.025)" font-size="38.5" text-anchor="middle">0</text>
<line x1="1117.5" y1="1070.3" x2="1117.5" y2="1063.9" stroke="#222" stroke-width="1.5"/>
<text transform="translate(1117.3,1105.6) scale(1,1.025)" font-size="38.5" text-anchor="middle">2</text>
<line x1="1266.7" y1="1070.3" x2="1266.7" y2="1063.9" stroke="#222" stroke-width="1.5"/>
<text transform="translate(1266.5,1105.6) scale(1,1.025)" font-size="38.5" text-anchor="middle">4</text>
<line x1="1415.9" y1="1070.3" x2="1415.9" y2="1063.9" stroke="#222" stroke-width="1.5"/>
<text transform="translate(1415.7,1105.6) scale(1,1.025)" font-size="38.5" text-anchor="middle">6</text>
<line x1="1565.1" y1="1070.3" x2="1565.1" y2="1063.9" stroke="#222" stroke-width="1.5"/>
<text transform="translate(1564.9,1105.6) scale(1,1.025)" font-size="38.5" text-anchor="middle">8</text>
<line x1="940.4" y1="1048.8" x2="946.8" y2="1048.8" stroke="#222" stroke-width="1.5"/>
<text transform="translate(933.8,1063.8) scale(1,1.025)" font-size="38.5" text-anchor="end">0.0</text>
<line x1="940.4" y1="939.5" x2="946.8" y2="939.5" stroke="#222" stroke-width="1.5"/>
<text transform="translate(933.8,954.5) scale(1,1.025)" font-size="38.5" text-anchor="end">0.2</text>
<line x1="940.4" y1="830.3" x2="946.8" y2="830.3" stroke="#222" stroke-width="1.5"/>
<text transform="translate(933.8,845.3) scale(1,1.025)" font-size="38.5" text-anchor="end">0.4</text>
<line x1="940.4" y1="721.0" x2="946.8" y2="721.0" stroke="#222" stroke-width="1.5"/>
<text transform="translate(933.8,736.0) scale(1,1.025)" font-size="38.5" text-anchor="end">0.6</text>
<line x1="940.4" y1="611.8" x2="946.8" y2="611.8" stroke="#222" stroke-width="1.5"/>
<text transform="translate(933.8,626.8) scale(1,1.025)" font-size="38.5" text-anchor="end">0.8</text>
<text x="1268.3" y="1151.0" font-size="34.9" text-anchor="middle">r[<tspan font-style="italic">Å</tspan>]</text>
<text transform="translate(857.9,838.0) rotate(-90)" font-size="34.9" text-anchor="middle">g<tspan font-style="italic" font-size="25.1" dy="5.8">OO</tspan><tspan dy="-5.8" dx="0.8">(r)</tspan></text>
<line x1="1425.5" y1="640.0" x2="1480.0" y2="640.0" stroke="#1f77b4" stroke-width="5.2"/>
<text x="1497.1" y="648.5" font-size="25.0">B<tspan font-style="italic" font-size="17.5" dy="-9.05" dx="0.4">I</tspan><tspan dy="9.05" dx="0.6">-VC</tspan></text>
<line x1="1425.5" y1="676.5" x2="1480.0" y2="676.5" stroke="#ff7f0e" stroke-width="5.2"/>
<text x="1497.1" y="685.0" font-size="25.0">B<tspan font-style="italic" font-size="17.5" dy="-9.05" dx="0.4">II</tspan><tspan dy="9.05" dx="0.6">-VC</tspan></text>
<line x1="1425.5" y1="713.0" x2="1480.0" y2="713.0" stroke="#2ca02c" stroke-width="5.2"/>
<text x="1497.1" y="721.5" font-size="25.0">B<tspan font-style="italic" font-size="17.5" dy="-9.05" dx="0.4">III</tspan><tspan dy="9.05" dx="0.6">-VC</tspan></text>
<text x="797" y="623.8" font-family="'Liberation Sans',sans-serif" font-size="57" fill="#231815" stroke="#231815" stroke-width="0.5">(d)</text>
</g>
</svg></body></html>
